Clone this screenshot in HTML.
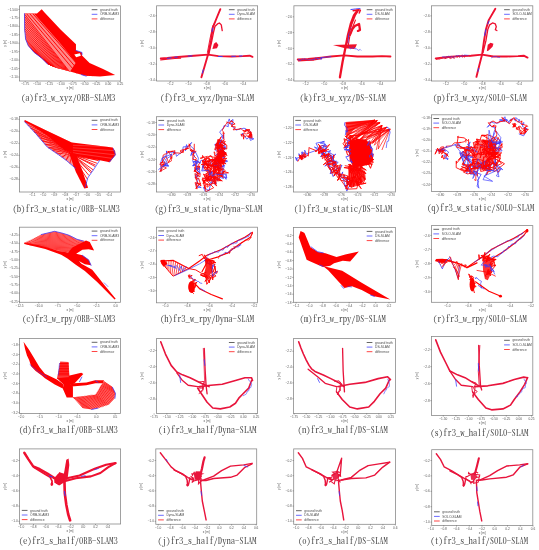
<!DOCTYPE html><html><head><meta charset="utf-8"><style>html,body{margin:0;padding:0;background:#fff;width:539px;height:550px;overflow:hidden}svg{display:block}.t{font-family:"Liberation Sans",Arial,sans-serif;fill:#555}.l{fill:#4a4a4a}.c{font-family:"Noto Serif CJK SC","Liberation Serif",serif;font-feature-settings:"hwid";fill:#3c3c3c}</style></head><body>
<svg width="539" height="550" viewBox="0 0 539 550">
<rect width="539" height="550" fill="#fff"/>
<g>
<clipPath id="cpa"><rect x="19.50" y="5.80" width="100.90" height="75.20"/></clipPath>
<g clip-path="url(#cpa)"><g transform="translate(19,5) scale(0.189239)">
<polygon points="28.0,45.0 95.0,45.0 120.0,22.0 135.0,40.0 222.0,132.0 301.0,208.0 301.0,240.0 333.0,251.0 333.0,267.0 373.0,306.0 444.0,338.0 508.0,370.0 428.0,378.0 349.0,374.0 270.0,352.0 201.0,333.0 152.0,313.0 118.0,279.0 79.0,250.0 49.0,215.0 35.0,181.0 30.0,132.0" fill="#ff0000"/>
<polygon points="30.0,48.0 80.0,46.0 150.0,125.0 215.0,200.0 265.0,260.0 300.0,305.0 270.0,352.0 201.0,333.0 152.0,313.0 118.0,279.0 79.0,250.0 49.0,215.0 35.0,181.0 30.0,132.0" fill="#ff8888"/>
<clipPath id="ka1"><polygon points="28.0,45.0 95.0,45.0 120.0,22.0 135.0,40.0 222.0,132.0 301.0,208.0 301.0,240.0 333.0,251.0 333.0,267.0 373.0,306.0 444.0,338.0 508.0,370.0 428.0,378.0 349.0,374.0 270.0,352.0 201.0,333.0 152.0,313.0 118.0,279.0 79.0,250.0 49.0,215.0 35.0,181.0 30.0,132.0"/></clipPath><g clip-path="url(#ka1)"><line x1="31.0" y1="50.0" x2="338.8" y2="444.0" stroke="#ff0000" stroke-width="4.5"/><line x1="30.8" y1="62.5" x2="343.8" y2="452.4" stroke="#ff0000" stroke-width="4.5"/><line x1="30.7" y1="75.1" x2="348.9" y2="460.8" stroke="#ff0000" stroke-width="4.5"/><line x1="30.5" y1="87.6" x2="353.7" y2="469.1" stroke="#ff0000" stroke-width="4.5"/><line x1="30.4" y1="100.2" x2="358.7" y2="477.4" stroke="#ff0000" stroke-width="4.5"/><line x1="30.2" y1="112.7" x2="363.4" y2="485.5" stroke="#ff0000" stroke-width="4.5"/><line x1="30.1" y1="125.3" x2="368.2" y2="493.6" stroke="#ff0000" stroke-width="4.5"/><line x1="30.6" y1="137.8" x2="373.6" y2="501.6" stroke="#ff0000" stroke-width="4.5"/><line x1="31.9" y1="150.2" x2="379.7" y2="509.5" stroke="#ff0000" stroke-width="4.5"/><line x1="33.1" y1="162.7" x2="385.6" y2="517.3" stroke="#ff0000" stroke-width="4.5"/><line x1="34.4" y1="175.2" x2="391.6" y2="525.1" stroke="#ff0000" stroke-width="4.5"/><line x1="37.6" y1="187.2" x2="399.4" y2="532.4" stroke="#ff0000" stroke-width="4.5"/><line x1="42.3" y1="198.8" x2="408.6" y2="539.1" stroke="#ff0000" stroke-width="4.5"/><line x1="47.1" y1="210.4" x2="417.9" y2="545.9" stroke="#ff0000" stroke-width="4.5"/><line x1="53.9" y1="220.7" x2="429.1" y2="551.2" stroke="#ff0000" stroke-width="4.5"/><line x1="62.1" y1="230.3" x2="441.6" y2="555.8" stroke="#ff0000" stroke-width="4.5"/><line x1="70.2" y1="239.8" x2="454.0" y2="560.3" stroke="#ff0000" stroke-width="4.5"/><line x1="78.4" y1="249.3" x2="466.4" y2="564.7" stroke="#ff0000" stroke-width="4.5"/><line x1="88.3" y1="256.9" x2="480.4" y2="567.1" stroke="#ff0000" stroke-width="4.5"/><line x1="98.4" y1="264.4" x2="494.6" y2="569.4" stroke="#ff0000" stroke-width="4.5"/><line x1="108.5" y1="271.9" x2="508.7" y2="571.6" stroke="#ff0000" stroke-width="4.5"/><line x1="118.5" y1="279.5" x2="522.7" y2="573.9" stroke="#ff0000" stroke-width="4.5"/><line x1="127.3" y1="288.3" x2="535.3" y2="577.3" stroke="#ff0000" stroke-width="4.5"/><line x1="136.2" y1="297.2" x2="548.0" y2="580.8" stroke="#ff0000" stroke-width="4.5"/><line x1="145.1" y1="306.1" x2="560.6" y2="584.2" stroke="#ff0000" stroke-width="4.5"/><line x1="154.5" y1="314.0" x2="573.7" y2="586.6" stroke="#ff0000" stroke-width="4.5"/><line x1="166.2" y1="318.8" x2="588.9" y2="585.8" stroke="#ff0000" stroke-width="4.5"/><line x1="177.8" y1="323.5" x2="604.0" y2="584.9" stroke="#ff0000" stroke-width="4.5"/><line x1="189.4" y1="328.3" x2="619.1" y2="584.0" stroke="#ff0000" stroke-width="4.5"/><line x1="201.0" y1="333.0" x2="634.0" y2="583.0" stroke="#ff0000" stroke-width="4.5"/></g>
<clipPath id="ka2"><polygon points="28.0,45.0 95.0,45.0 120.0,22.0 135.0,40.0 222.0,132.0 301.0,208.0 301.0,240.0 333.0,251.0 333.0,267.0 373.0,306.0 444.0,338.0 508.0,370.0 428.0,378.0 349.0,374.0 270.0,352.0 201.0,333.0 152.0,313.0 118.0,279.0 79.0,250.0 49.0,215.0 35.0,181.0 30.0,132.0"/></clipPath><g clip-path="url(#ka2)"><line x1="40.0" y1="46.0" x2="361.4" y2="429.0" stroke="#ff0000" stroke-width="5"/><line x1="56.7" y1="46.0" x2="382.5" y2="425.3" stroke="#ff0000" stroke-width="5"/><line x1="73.3" y1="46.0" x2="403.5" y2="421.4" stroke="#ff0000" stroke-width="5"/><line x1="90.0" y1="46.0" x2="424.6" y2="417.6" stroke="#ff0000" stroke-width="5"/></g>
<polygon points="292.0,262.0 322.0,255.0 327.0,268.0 302.0,276.0" fill="#fff"/>
<polyline points="29.0,46.0 30.0,132.0 35.0,181.0 49.0,215.0 79.0,250.0 118.0,279.0 152.0,313.0" fill="none" stroke="#3a3aff" stroke-width="4" stroke-linejoin="round" stroke-linecap="round"/>
<polyline points="301.0,240.0 333.0,251.0 333.0,262.0" fill="none" stroke="#3a3aff" stroke-width="4" stroke-linejoin="round" stroke-linecap="round"/>
<polyline points="330.0,368.0 355.0,376.0" fill="none" stroke="#3a3aff" stroke-width="4" stroke-linejoin="round" stroke-linecap="round"/>
</g></g>
<rect x="19.50" y="5.80" width="100.90" height="75.20" fill="none" stroke="#8a8a8a" stroke-width="0.8"/>
<line x1="18.30" y1="9.40" x2="19.50" y2="9.40" stroke="#555" stroke-width="0.5"/>
<text class="t" x="17.70" y="10.50" font-size="3.2" text-anchor="end">−1.500</text>
<line x1="18.30" y1="17.85" x2="19.50" y2="17.85" stroke="#555" stroke-width="0.5"/>
<text class="t" x="17.70" y="18.95" font-size="3.2" text-anchor="end">−1.75</text>
<line x1="18.30" y1="26.30" x2="19.50" y2="26.30" stroke="#555" stroke-width="0.5"/>
<text class="t" x="17.70" y="27.40" font-size="3.2" text-anchor="end">−1.800</text>
<line x1="18.30" y1="34.75" x2="19.50" y2="34.75" stroke="#555" stroke-width="0.5"/>
<text class="t" x="17.70" y="35.85" font-size="3.2" text-anchor="end">−1.85</text>
<line x1="18.30" y1="43.20" x2="19.50" y2="43.20" stroke="#555" stroke-width="0.5"/>
<text class="t" x="17.70" y="44.30" font-size="3.2" text-anchor="end">−1.900</text>
<line x1="18.30" y1="51.65" x2="19.50" y2="51.65" stroke="#555" stroke-width="0.5"/>
<text class="t" x="17.70" y="52.75" font-size="3.2" text-anchor="end">−1.95</text>
<line x1="18.30" y1="60.10" x2="19.50" y2="60.10" stroke="#555" stroke-width="0.5"/>
<text class="t" x="17.70" y="61.20" font-size="3.2" text-anchor="end">−2.00</text>
<line x1="18.30" y1="68.55" x2="19.50" y2="68.55" stroke="#555" stroke-width="0.5"/>
<text class="t" x="17.70" y="69.65" font-size="3.2" text-anchor="end">−2.05</text>
<line x1="18.30" y1="77.00" x2="19.50" y2="77.00" stroke="#555" stroke-width="0.5"/>
<text class="t" x="17.70" y="78.10" font-size="3.2" text-anchor="end">−2.10</text>
<line x1="25.20" y1="81.00" x2="25.20" y2="82.20" stroke="#555" stroke-width="0.5"/>
<text class="t" x="25.20" y="85.40" font-size="3.2" text-anchor="middle">−1.75</text>
<line x1="37.06" y1="81.00" x2="37.06" y2="82.20" stroke="#555" stroke-width="0.5"/>
<text class="t" x="37.06" y="85.40" font-size="3.2" text-anchor="middle">−1.50</text>
<line x1="48.92" y1="81.00" x2="48.92" y2="82.20" stroke="#555" stroke-width="0.5"/>
<text class="t" x="48.92" y="85.40" font-size="3.2" text-anchor="middle">−1.25</text>
<line x1="60.78" y1="81.00" x2="60.78" y2="82.20" stroke="#555" stroke-width="0.5"/>
<text class="t" x="60.78" y="85.40" font-size="3.2" text-anchor="middle">−1.00</text>
<line x1="72.64" y1="81.00" x2="72.64" y2="82.20" stroke="#555" stroke-width="0.5"/>
<text class="t" x="72.64" y="85.40" font-size="3.2" text-anchor="middle">−0.75</text>
<line x1="84.50" y1="81.00" x2="84.50" y2="82.20" stroke="#555" stroke-width="0.5"/>
<text class="t" x="84.50" y="85.40" font-size="3.2" text-anchor="middle">−0.50</text>
<line x1="96.36" y1="81.00" x2="96.36" y2="82.20" stroke="#555" stroke-width="0.5"/>
<text class="t" x="96.36" y="85.40" font-size="3.2" text-anchor="middle">−0.25</text>
<line x1="108.22" y1="81.00" x2="108.22" y2="82.20" stroke="#555" stroke-width="0.5"/>
<text class="t" x="108.22" y="85.40" font-size="3.2" text-anchor="middle">0.00</text>
<line x1="120.08" y1="81.00" x2="120.08" y2="82.20" stroke="#555" stroke-width="0.5"/>
<text class="t" x="120.08" y="85.40" font-size="3.2" text-anchor="middle">0.25</text>
<text class="t" x="69.95" y="89.20" font-size="3.2" text-anchor="middle">x [m]</text>
<text class="t" font-size="3.2" text-anchor="middle" transform="translate(6.00,43.40) rotate(-90)">y [m]</text>
<line x1="91.70" y1="9.70" x2="97.40" y2="9.70" stroke="#555" stroke-width="0.9"/>
<text class="t l" x="100.00" y="10.85" font-size="3.3">ground truth</text>
<line x1="91.70" y1="14.30" x2="97.40" y2="14.30" stroke="#5a5aff" stroke-width="0.9"/>
<text class="t l" x="100.00" y="15.45" font-size="3.3">ORB-SLAM3</text>
<line x1="91.70" y1="18.90" x2="97.40" y2="18.90" stroke="#ff3030" stroke-width="0.9"/>
<text class="t l" x="100.00" y="20.05" font-size="3.3">difference</text>
<text class="c" x="23.15 27.44 31.73 36.02 40.31 44.60 48.89 53.18 57.47 61.76 66.05 70.35 74.64 78.93 83.22 87.51 91.80 96.09 100.38 104.67 108.96 113.25" y="101.30" font-size="8.6" text-anchor="middle" transform="scale(1,1)">(a)fr3_w_xyz/ORB-SLAM3</text>
</g>
<g>
<clipPath id="cpf"><rect x="156.60" y="5.80" width="101.00" height="75.20"/></clipPath>
<g clip-path="url(#cpf)"><g transform="translate(156,5) scale(0.189239)">
<polyline points="25.0,282.0 60.0,280.0 100.0,276.0 150.0,272.0 200.0,268.0 275.0,262.0 330.0,270.0 400.0,272.0 460.0,270.0 495.0,268.0 510.0,274.0" fill="none" stroke="#ee1030" stroke-width="10" stroke-linejoin="round" stroke-linecap="round"/>
<polyline points="25.0,290.0 60.0,286.0 100.0,283.0 130.0,281.0" fill="none" stroke="#ee1030" stroke-width="6" stroke-linejoin="round" stroke-linecap="round"/>
<polyline points="240.0,382.0 255.0,330.0 275.0,262.0 290.0,190.0 300.0,120.0 320.0,70.0 340.0,22.0" fill="none" stroke="#ee1030" stroke-width="10" stroke-linejoin="round" stroke-linecap="round"/>
<polyline points="280.0,255.0 295.0,190.0 305.0,140.0 312.0,112.0 325.0,100.0 335.0,95.0 345.0,105.0 350.0,135.0" fill="none" stroke="#ee1030" stroke-width="7" stroke-linejoin="round" stroke-linecap="round"/>
<polyline points="272.0,250.0 285.0,180.0 300.0,110.0 310.0,95.0" fill="none" stroke="#ee1030" stroke-width="5" stroke-linejoin="round" stroke-linecap="round"/>
<polygon points="298.0,232.0 306.0,205.0 318.0,196.0 330.0,212.0 322.0,228.0" fill="#ee1030"/>
<polyline points="60.0,282.0 80.0,279.0" fill="none" stroke="#3a3aff" stroke-width="5" stroke-linejoin="round" stroke-linecap="round"/>
<polyline points="100.0,276.0 112.0,275.0" fill="none" stroke="#3a3aff" stroke-width="5" stroke-linejoin="round" stroke-linecap="round"/>
<polyline points="330.0,272.0 350.0,272.0" fill="none" stroke="#3a3aff" stroke-width="5" stroke-linejoin="round" stroke-linecap="round"/>
<polyline points="400.0,271.0 420.0,271.0" fill="none" stroke="#3a3aff" stroke-width="5" stroke-linejoin="round" stroke-linecap="round"/>
<polyline points="296.0,140.0 300.0,122.0" fill="none" stroke="#3a3aff" stroke-width="5" stroke-linejoin="round" stroke-linecap="round"/>
<polyline points="245.0,360.0 250.0,342.0" fill="none" stroke="#3a3aff" stroke-width="5" stroke-linejoin="round" stroke-linecap="round"/>
<polyline points="170.0,270.0 190.0,269.0" fill="none" stroke="#3a3aff" stroke-width="5" stroke-linejoin="round" stroke-linecap="round"/>
<polyline points="440.0,270.0 455.0,269.0" fill="none" stroke="#3a3aff" stroke-width="5" stroke-linejoin="round" stroke-linecap="round"/>
</g></g>
<rect x="156.60" y="5.80" width="101.00" height="75.20" fill="none" stroke="#8a8a8a" stroke-width="0.8"/>
<line x1="155.40" y1="15.80" x2="156.60" y2="15.80" stroke="#555" stroke-width="0.5"/>
<text class="t" x="154.80" y="16.90" font-size="3.2" text-anchor="end">−2.6</text>
<line x1="155.40" y1="31.90" x2="156.60" y2="31.90" stroke="#555" stroke-width="0.5"/>
<text class="t" x="154.80" y="33.00" font-size="3.2" text-anchor="end">−2.8</text>
<line x1="155.40" y1="48.00" x2="156.60" y2="48.00" stroke="#555" stroke-width="0.5"/>
<text class="t" x="154.80" y="49.10" font-size="3.2" text-anchor="end">−3.0</text>
<line x1="155.40" y1="64.10" x2="156.60" y2="64.10" stroke="#555" stroke-width="0.5"/>
<text class="t" x="154.80" y="65.20" font-size="3.2" text-anchor="end">−3.2</text>
<line x1="155.40" y1="80.20" x2="156.60" y2="80.20" stroke="#555" stroke-width="0.5"/>
<text class="t" x="154.80" y="81.30" font-size="3.2" text-anchor="end">−3.4</text>
<line x1="170.30" y1="81.00" x2="170.30" y2="82.20" stroke="#555" stroke-width="0.5"/>
<text class="t" x="170.30" y="85.40" font-size="3.2" text-anchor="middle">−1.2</text>
<line x1="188.50" y1="81.00" x2="188.50" y2="82.20" stroke="#555" stroke-width="0.5"/>
<text class="t" x="188.50" y="85.40" font-size="3.2" text-anchor="middle">−1.0</text>
<line x1="206.70" y1="81.00" x2="206.70" y2="82.20" stroke="#555" stroke-width="0.5"/>
<text class="t" x="206.70" y="85.40" font-size="3.2" text-anchor="middle">−0.8</text>
<line x1="224.90" y1="81.00" x2="224.90" y2="82.20" stroke="#555" stroke-width="0.5"/>
<text class="t" x="224.90" y="85.40" font-size="3.2" text-anchor="middle">−0.6</text>
<line x1="243.10" y1="81.00" x2="243.10" y2="82.20" stroke="#555" stroke-width="0.5"/>
<text class="t" x="243.10" y="85.40" font-size="3.2" text-anchor="middle">−0.4</text>
<text class="t" x="207.10" y="89.20" font-size="3.2" text-anchor="middle">x [m]</text>
<text class="t" font-size="3.2" text-anchor="middle" transform="translate(143.10,43.40) rotate(-90)">y [m]</text>
<line x1="228.90" y1="9.70" x2="234.60" y2="9.70" stroke="#555" stroke-width="0.9"/>
<text class="t l" x="237.20" y="10.85" font-size="3.3">ground truth</text>
<line x1="228.90" y1="14.30" x2="234.60" y2="14.30" stroke="#5a5aff" stroke-width="0.9"/>
<text class="t l" x="237.20" y="15.45" font-size="3.3">Dyna-SLAM</text>
<line x1="228.90" y1="18.90" x2="234.60" y2="18.90" stroke="#ff3030" stroke-width="0.9"/>
<text class="t l" x="237.20" y="20.05" font-size="3.3">difference</text>
<text class="c" x="162.14 166.41 170.68 174.95 179.23 183.50 187.77 192.05 196.32 200.59 204.86 209.14 213.41 217.68 221.95 226.23 230.50 234.77 239.05 243.32 247.59 251.86" y="101.30" font-size="8.6" text-anchor="middle" transform="scale(1,1)">(f)fr3_w_xyz/Dyna-SLAM</text>
</g>
<g>
<clipPath id="cpk"><rect x="293.90" y="5.80" width="101.50" height="75.20"/></clipPath>
<g clip-path="url(#cpk)"><g transform="translate(293,5) scale(0.189239)">
<polyline points="25.0,288.0 80.0,285.0 150.0,278.0 200.0,272.0 270.0,266.0 340.0,272.0 420.0,272.0 470.0,270.0 515.0,272.0" fill="none" stroke="#f01028" stroke-width="10" stroke-linejoin="round" stroke-linecap="round"/>
<polyline points="30.0,295.0 70.0,292.0 110.0,290.0 150.0,283.0" fill="none" stroke="#f01028" stroke-width="8" stroke-linejoin="round" stroke-linecap="round"/>
<polyline points="26.9,290.5 34.2,291.3 30.2,286.6 41.4,293.3 47.4,284.8 55.5,288.9 59.5,282.9 65.0,285.4 68.2,287.4 74.4,289.9 76.6,290.4 80.7,288.1 83.9,285.0 87.6,287.2 96.6,290.9 97.8,289.5 115.0,285.5 112.8,288.2 118.5,278.7 132.0,282.4 126.9,286.6 131.4,284.2 139.5,280.8 150.3,282.4 147.7,276.9 148.9,283.3 147.8,287.5 148.5,281.5 151.7,283.1 151.4,287.3" fill="none" stroke="#3a3aff" stroke-width="3" stroke-linejoin="miter"/>
<polyline points="248.0,382.0 262.0,300.0 280.0,211.0 290.0,160.0 305.0,100.0 322.0,55.0 338.0,32.0" fill="none" stroke="#f01028" stroke-width="12" stroke-linejoin="round" stroke-linecap="round"/>
<polyline points="285.0,200.0 295.0,150.0 310.0,100.0 328.0,55.0 345.0,28.0" fill="none" stroke="#f01028" stroke-width="9" stroke-linejoin="round" stroke-linecap="round"/>
<polyline points="292.0,215.0 300.0,165.0 314.0,120.0 330.0,80.0" fill="none" stroke="#f01028" stroke-width="6" stroke-linejoin="round" stroke-linecap="round"/>
<polyline points="291.5,202.9 291.8,191.6 293.6,172.3 296.3,160.4 293.3,168.1 293.9,153.5 299.9,143.8 302.7,145.6 299.7,148.2 305.3,145.5 309.6,124.5 302.6,117.1" fill="none" stroke="#3a3aff" stroke-width="3" stroke-linejoin="miter"/>
<polyline points="306.0,24.0 330.0,21.0 354.0,19.0" fill="none" stroke="#3a3aff" stroke-width="5" stroke-linejoin="round" stroke-linecap="round"/>
<polyline points="318.0,30.0 345.0,25.0 356.0,28.0 350.0,42.0" fill="none" stroke="#f01028" stroke-width="8" stroke-linejoin="round" stroke-linecap="round"/>
<polyline points="301.0,158.0 315.0,125.0 327.0,111.0 349.0,100.0 354.0,132.0 343.0,137.0" fill="none" stroke="#f01028" stroke-width="12" stroke-linejoin="round" stroke-linecap="round"/>
<polygon points="211.0,212.0 338.0,208.0 330.0,225.0 322.0,233.0 275.0,228.0" fill="#f01028"/>
<polyline points="295.8,218.7 303.3,232.5 319.6,223.2 318.6,223.6 328.3,233.9 328.6,227.8 345.1,238.4 345.1,240.0 355.1,234.8 360.8,240.8" fill="none" stroke="#3a3aff" stroke-width="3" stroke-linejoin="miter"/>
<polyline points="150.0,278.0 200.0,273.0" fill="none" stroke="#3a3aff" stroke-width="4" stroke-linejoin="round" stroke-linecap="round"/>
</g></g>
<rect x="293.90" y="5.80" width="101.50" height="75.20" fill="none" stroke="#8a8a8a" stroke-width="0.8"/>
<line x1="292.70" y1="16.80" x2="293.90" y2="16.80" stroke="#555" stroke-width="0.5"/>
<text class="t" x="292.10" y="17.90" font-size="3.2" text-anchor="end">−2.6</text>
<line x1="292.70" y1="32.60" x2="293.90" y2="32.60" stroke="#555" stroke-width="0.5"/>
<text class="t" x="292.10" y="33.70" font-size="3.2" text-anchor="end">−2.8</text>
<line x1="292.70" y1="48.40" x2="293.90" y2="48.40" stroke="#555" stroke-width="0.5"/>
<text class="t" x="292.10" y="49.50" font-size="3.2" text-anchor="end">−3.0</text>
<line x1="292.70" y1="64.20" x2="293.90" y2="64.20" stroke="#555" stroke-width="0.5"/>
<text class="t" x="292.10" y="65.30" font-size="3.2" text-anchor="end">−3.2</text>
<line x1="292.70" y1="80.00" x2="293.90" y2="80.00" stroke="#555" stroke-width="0.5"/>
<text class="t" x="292.10" y="81.10" font-size="3.2" text-anchor="end">−3.4</text>
<line x1="305.60" y1="81.00" x2="305.60" y2="82.20" stroke="#555" stroke-width="0.5"/>
<text class="t" x="305.60" y="85.40" font-size="3.2" text-anchor="middle">−1.2</text>
<line x1="324.25" y1="81.00" x2="324.25" y2="82.20" stroke="#555" stroke-width="0.5"/>
<text class="t" x="324.25" y="85.40" font-size="3.2" text-anchor="middle">−1.0</text>
<line x1="342.90" y1="81.00" x2="342.90" y2="82.20" stroke="#555" stroke-width="0.5"/>
<text class="t" x="342.90" y="85.40" font-size="3.2" text-anchor="middle">−0.8</text>
<line x1="361.55" y1="81.00" x2="361.55" y2="82.20" stroke="#555" stroke-width="0.5"/>
<text class="t" x="361.55" y="85.40" font-size="3.2" text-anchor="middle">−0.6</text>
<line x1="380.20" y1="81.00" x2="380.20" y2="82.20" stroke="#555" stroke-width="0.5"/>
<text class="t" x="380.20" y="85.40" font-size="3.2" text-anchor="middle">−0.4</text>
<text class="t" x="344.65" y="89.20" font-size="3.2" text-anchor="middle">x [m]</text>
<text class="t" font-size="3.2" text-anchor="middle" transform="translate(280.40,43.40) rotate(-90)">y [m]</text>
<line x1="366.70" y1="9.70" x2="372.40" y2="9.70" stroke="#555" stroke-width="0.9"/>
<text class="t l" x="375.00" y="10.85" font-size="3.3">ground truth</text>
<line x1="366.70" y1="14.30" x2="372.40" y2="14.30" stroke="#5a5aff" stroke-width="0.9"/>
<text class="t l" x="375.00" y="15.45" font-size="3.3">DS-SLAM</text>
<line x1="366.70" y1="18.90" x2="372.40" y2="18.90" stroke="#ff3030" stroke-width="0.9"/>
<text class="t l" x="375.00" y="20.05" font-size="3.3">difference</text>
<text class="c" x="301.75 306.06 310.38 314.69 319.00 323.31 327.62 331.93 336.24 340.55 344.86 349.17 353.48 357.79 362.10 366.41 370.72 375.03 379.34 383.64" y="101.30" font-size="8.6" text-anchor="middle" transform="scale(1,1)">(k)fr3_w_xyz/DS-SLAM</text>
</g>
<g>
<clipPath id="cpp"><rect x="431.50" y="5.80" width="101.30" height="75.20"/></clipPath>
<g clip-path="url(#cpp)"><g transform="translate(431,5) scale(0.189239)">
<polyline points="25.0,282.0 90.0,275.0 150.0,270.0 210.0,268.0 270.0,262.0 330.0,272.0 400.0,272.0 460.0,270.0 490.0,268.0 510.0,278.0" fill="none" stroke="#ee1030" stroke-width="10" stroke-linejoin="round" stroke-linecap="round"/>
<polyline points="29.1,289.5 29.3,281.2 27.0,286.4 38.0,287.3 41.2,287.0 44.3,287.0 55.1,281.2 56.9,284.5 56.6,282.3 69.7,277.8 74.1,283.2 79.2,277.9 73.2,284.0 87.6,278.6 82.1,274.7 94.2,275.5 103.1,279.3 97.1,279.8 103.8,283.2 116.0,276.9 116.8,279.1 123.5,282.5 117.1,273.5 129.6,272.2 133.9,268.8 142.5,274.5 136.3,275.9 143.5,269.0 150.4,267.7 151.1,277.5 162.4,265.1 168.0,264.7 166.3,276.7 174.8,267.9 175.8,268.6 176.8,276.7 180.3,268.2 194.5,267.4 202.2,264.9 206.7,273.5" fill="none" stroke="#ee1030" stroke-width="4" stroke-linejoin="miter"/>
<polyline points="58.2,274.5 68.9,273.1 75.1,275.4 77.7,276.2 84.8,274.8 92.5,270.7 103.5,277.5 107.8,270.8 120.2,277.4 127.1,271.3 138.4,267.2 144.6,268.9 144.9,266.6 153.9,273.0 160.0,270.0 171.9,267.3 178.4,263.5 180.9,264.3 194.4,265.9 198.1,266.9" fill="none" stroke="#3a3aff" stroke-width="3" stroke-linejoin="miter"/>
<polyline points="317.3,279.6 323.4,277.2 330.1,272.8 346.4,272.5 350.0,275.2 355.2,275.7 359.8,279.2 365.9,273.3" fill="none" stroke="#3a3aff" stroke-width="3" stroke-linejoin="miter"/>
<polyline points="240.0,380.0 255.0,320.0 270.0,262.0 280.0,190.0 290.0,130.0 305.0,80.0 340.0,20.0" fill="none" stroke="#ee1030" stroke-width="10" stroke-linejoin="round" stroke-linecap="round"/>
<polyline points="275.0,250.0 290.0,190.0 300.0,130.0 310.0,105.0 325.0,95.0 340.0,100.0 345.0,115.0 340.0,130.0 348.0,135.0" fill="none" stroke="#ee1030" stroke-width="7" stroke-linejoin="round" stroke-linecap="round"/>
<polygon points="295.0,245.0 300.0,210.0 315.0,200.0 330.0,205.0 325.0,220.0 305.0,240.0" fill="#ee1030"/>
<polyline points="283.0,160.0 290.0,130.0" fill="none" stroke="#3a3aff" stroke-width="5" stroke-linejoin="round" stroke-linecap="round"/>
<polyline points="300.0,100.0 306.0,85.0" fill="none" stroke="#3a3aff" stroke-width="5" stroke-linejoin="round" stroke-linecap="round"/>
<polyline points="248.0,350.0 252.0,335.0" fill="none" stroke="#3a3aff" stroke-width="5" stroke-linejoin="round" stroke-linecap="round"/>
</g></g>
<rect x="431.50" y="5.80" width="101.30" height="75.20" fill="none" stroke="#8a8a8a" stroke-width="0.8"/>
<line x1="430.30" y1="15.90" x2="431.50" y2="15.90" stroke="#555" stroke-width="0.5"/>
<text class="t" x="429.70" y="17.00" font-size="3.2" text-anchor="end">−2.6</text>
<line x1="430.30" y1="32.00" x2="431.50" y2="32.00" stroke="#555" stroke-width="0.5"/>
<text class="t" x="429.70" y="33.10" font-size="3.2" text-anchor="end">−2.8</text>
<line x1="430.30" y1="48.10" x2="431.50" y2="48.10" stroke="#555" stroke-width="0.5"/>
<text class="t" x="429.70" y="49.20" font-size="3.2" text-anchor="end">−3.0</text>
<line x1="430.30" y1="64.20" x2="431.50" y2="64.20" stroke="#555" stroke-width="0.5"/>
<text class="t" x="429.70" y="65.30" font-size="3.2" text-anchor="end">−3.2</text>
<line x1="430.30" y1="80.30" x2="431.50" y2="80.30" stroke="#555" stroke-width="0.5"/>
<text class="t" x="429.70" y="81.40" font-size="3.2" text-anchor="end">−3.4</text>
<line x1="446.00" y1="81.00" x2="446.00" y2="82.20" stroke="#555" stroke-width="0.5"/>
<text class="t" x="446.00" y="85.40" font-size="3.2" text-anchor="middle">−1.2</text>
<line x1="464.20" y1="81.00" x2="464.20" y2="82.20" stroke="#555" stroke-width="0.5"/>
<text class="t" x="464.20" y="85.40" font-size="3.2" text-anchor="middle">−1.0</text>
<line x1="482.40" y1="81.00" x2="482.40" y2="82.20" stroke="#555" stroke-width="0.5"/>
<text class="t" x="482.40" y="85.40" font-size="3.2" text-anchor="middle">−0.8</text>
<line x1="500.60" y1="81.00" x2="500.60" y2="82.20" stroke="#555" stroke-width="0.5"/>
<text class="t" x="500.60" y="85.40" font-size="3.2" text-anchor="middle">−0.6</text>
<line x1="518.80" y1="81.00" x2="518.80" y2="82.20" stroke="#555" stroke-width="0.5"/>
<text class="t" x="518.80" y="85.40" font-size="3.2" text-anchor="middle">−0.4</text>
<text class="t" x="482.15" y="89.20" font-size="3.2" text-anchor="middle">x [m]</text>
<text class="t" font-size="3.2" text-anchor="middle" transform="translate(418.00,43.40) rotate(-90)">y [m]</text>
<line x1="504.10" y1="9.70" x2="509.80" y2="9.70" stroke="#555" stroke-width="0.9"/>
<text class="t l" x="512.40" y="10.85" font-size="3.3">ground truth</text>
<line x1="504.10" y1="14.30" x2="509.80" y2="14.30" stroke="#5a5aff" stroke-width="0.9"/>
<text class="t l" x="512.40" y="15.45" font-size="3.3">SOLO-SLAM</text>
<line x1="504.10" y1="18.90" x2="509.80" y2="18.90" stroke="#ff3030" stroke-width="0.9"/>
<text class="t l" x="512.40" y="20.05" font-size="3.3">difference</text>
<text class="c" x="434.94 439.21 443.48 447.75 452.03 456.30 460.57 464.85 469.12 473.39 477.66 481.94 486.21 490.48 494.75 499.03 503.30 507.57 511.85 516.12 520.39 524.66" y="101.30" font-size="8.6" text-anchor="middle" transform="scale(1,1)">(p)fr3_w_xyz/SOLO-SLAM</text>
</g>
<g>
<clipPath id="cpb"><rect x="19.50" y="116.40" width="100.90" height="75.60"/></clipPath>
<g clip-path="url(#cpb)"><g transform="translate(19,115) scale(0.189239)">
<polygon points="30.0,27.0 150.0,85.0 281.0,146.0 285.0,200.0 299.0,282.0 250.0,240.0 209.0,210.0 149.0,169.0 90.0,100.0 30.0,36.0" fill="#ff9090"/>
<polygon points="30.0,27.0 150.0,85.0 281.0,146.0 285.0,200.0 240.0,185.0 150.0,110.0 60.0,50.0 30.0,36.0" fill="#ff0000"/>
<line x1="282.0" y1="160.0" x2="30.0" y2="36.0" stroke="#ff0000" stroke-width="4"/>
<line x1="282.0" y1="160.0" x2="45.9" y2="52.9" stroke="#ff0000" stroke-width="4"/>
<line x1="282.0" y1="160.0" x2="61.8" y2="69.9" stroke="#ff0000" stroke-width="4"/>
<line x1="282.0" y1="160.0" x2="77.7" y2="86.8" stroke="#ff0000" stroke-width="4"/>
<line x1="282.0" y1="160.0" x2="93.4" y2="103.9" stroke="#ff0000" stroke-width="4"/>
<line x1="282.0" y1="160.0" x2="108.5" y2="121.6" stroke="#ff0000" stroke-width="4"/>
<line x1="282.0" y1="160.0" x2="123.6" y2="139.3" stroke="#ff0000" stroke-width="4"/>
<line x1="282.0" y1="160.0" x2="138.7" y2="156.9" stroke="#ff0000" stroke-width="4"/>
<line x1="282.0" y1="160.0" x2="155.0" y2="173.1" stroke="#ff0000" stroke-width="4"/>
<line x1="282.0" y1="160.0" x2="174.2" y2="186.2" stroke="#ff0000" stroke-width="4"/>
<line x1="282.0" y1="160.0" x2="193.4" y2="199.3" stroke="#ff0000" stroke-width="4"/>
<line x1="282.0" y1="160.0" x2="212.5" y2="212.6" stroke="#ff0000" stroke-width="4"/>
<line x1="282.0" y1="160.0" x2="231.3" y2="226.3" stroke="#ff0000" stroke-width="4"/>
<line x1="282.0" y1="160.0" x2="250.0" y2="240.0" stroke="#ff0000" stroke-width="4"/>
<line x1="285.0" y1="195.0" x2="60.0" y2="68.0" stroke="#ff0000" stroke-width="4"/>
<line x1="285.0" y1="195.0" x2="79.4" y2="88.6" stroke="#ff0000" stroke-width="4"/>
<line x1="285.0" y1="195.0" x2="98.3" y2="109.7" stroke="#ff0000" stroke-width="4"/>
<line x1="285.0" y1="195.0" x2="116.7" y2="131.2" stroke="#ff0000" stroke-width="4"/>
<line x1="285.0" y1="195.0" x2="135.1" y2="152.7" stroke="#ff0000" stroke-width="4"/>
<line x1="285.0" y1="195.0" x2="154.6" y2="172.9" stroke="#ff0000" stroke-width="4"/>
<line x1="285.0" y1="195.0" x2="178.0" y2="188.8" stroke="#ff0000" stroke-width="4"/>
<line x1="285.0" y1="195.0" x2="201.4" y2="204.8" stroke="#ff0000" stroke-width="4"/>
<line x1="285.0" y1="195.0" x2="224.4" y2="221.3" stroke="#ff0000" stroke-width="4"/>
<line x1="285.0" y1="195.0" x2="247.2" y2="238.0" stroke="#ff0000" stroke-width="4"/>
<line x1="285.0" y1="195.0" x2="268.7" y2="256.4" stroke="#ff0000" stroke-width="4"/>
<line x1="285.0" y1="195.0" x2="290.0" y2="275.0" stroke="#ff0000" stroke-width="4"/>
<polygon points="280.0,145.0 400.0,160.0 495.0,172.0 508.0,190.0 510.0,212.0 480.0,250.0 420.0,238.0 300.0,215.0 275.0,195.0" fill="#ff0000"/>
<clipPath id="kb3"><polygon points="280.0,145.0 400.0,160.0 495.0,172.0 508.0,190.0 510.0,212.0 480.0,250.0 420.0,238.0 300.0,215.0 275.0,195.0"/></clipPath><g clip-path="url(#kb3)"><line x1="285.0" y1="160.0" x2="584.8" y2="170.5" stroke="#ff7070" stroke-width="2.5"/><line x1="285.0" y1="173.3" x2="584.3" y2="194.2" stroke="#ff7070" stroke-width="2.5"/><line x1="285.0" y1="186.7" x2="583.4" y2="218.1" stroke="#ff7070" stroke-width="2.5"/><line x1="285.0" y1="200.0" x2="582.1" y2="241.8" stroke="#ff7070" stroke-width="2.5"/></g>
<polygon points="262.0,195.0 300.0,205.0 330.0,280.0 365.0,385.0 345.0,388.0 300.0,300.0" fill="#ff0000"/>
<line x1="275.0" y1="205.0" x2="420.0" y2="240.0" stroke="#ff0000" stroke-width="4.5"/>
<line x1="275.0" y1="205.0" x2="412.0" y2="255.0" stroke="#ff0000" stroke-width="4.5"/>
<line x1="275.0" y1="205.0" x2="402.0" y2="272.0" stroke="#ff0000" stroke-width="4.5"/>
<line x1="275.0" y1="205.0" x2="392.0" y2="290.0" stroke="#ff0000" stroke-width="4.5"/>
<line x1="275.0" y1="205.0" x2="380.0" y2="305.0" stroke="#ff0000" stroke-width="4.5"/>
<line x1="275.0" y1="205.0" x2="370.0" y2="320.0" stroke="#ff0000" stroke-width="4.5"/>
<line x1="275.0" y1="205.0" x2="362.0" y2="340.0" stroke="#ff0000" stroke-width="4.5"/>
<line x1="275.0" y1="205.0" x2="356.0" y2="360.0" stroke="#ff0000" stroke-width="4.5"/>
<line x1="275.0" y1="205.0" x2="350.0" y2="380.0" stroke="#ff0000" stroke-width="4.5"/>
<line x1="290.0" y1="215.0" x2="420.0" y2="240.0" stroke="#ff0000" stroke-width="4.5"/>
<line x1="290.0" y1="215.0" x2="405.0" y2="265.0" stroke="#ff0000" stroke-width="4.5"/>
<line x1="290.0" y1="215.0" x2="385.0" y2="300.0" stroke="#ff0000" stroke-width="4.5"/>
<polyline points="30.0,36.0 60.0,68.0 90.0,100.0 149.0,169.0 209.0,210.0 250.0,240.0 299.0,282.0" fill="none" stroke="#3a3aff" stroke-width="4" stroke-linejoin="round" stroke-linecap="round"/>
<polyline points="426.0,240.0 400.0,280.0 363.0,333.0 350.0,382.0" fill="none" stroke="#3a3aff" stroke-width="4" stroke-linejoin="round" stroke-linecap="round"/>
<polyline points="498.0,178.0 510.0,210.0 478.0,248.0" fill="none" stroke="#3a3aff" stroke-width="4" stroke-linejoin="round" stroke-linecap="round"/>
</g></g>
<rect x="19.50" y="116.40" width="100.90" height="75.60" fill="none" stroke="#8a8a8a" stroke-width="0.8"/>
<line x1="18.30" y1="119.30" x2="19.50" y2="119.30" stroke="#555" stroke-width="0.5"/>
<text class="t" x="17.70" y="120.40" font-size="3.2" text-anchor="end">−0.18</text>
<line x1="18.30" y1="131.30" x2="19.50" y2="131.30" stroke="#555" stroke-width="0.5"/>
<text class="t" x="17.70" y="132.40" font-size="3.2" text-anchor="end">−0.20</text>
<line x1="18.30" y1="143.30" x2="19.50" y2="143.30" stroke="#555" stroke-width="0.5"/>
<text class="t" x="17.70" y="144.40" font-size="3.2" text-anchor="end">−0.22</text>
<line x1="18.30" y1="155.30" x2="19.50" y2="155.30" stroke="#555" stroke-width="0.5"/>
<text class="t" x="17.70" y="156.40" font-size="3.2" text-anchor="end">−0.24</text>
<line x1="18.30" y1="167.30" x2="19.50" y2="167.30" stroke="#555" stroke-width="0.5"/>
<text class="t" x="17.70" y="168.40" font-size="3.2" text-anchor="end">−0.26</text>
<line x1="18.30" y1="179.30" x2="19.50" y2="179.30" stroke="#555" stroke-width="0.5"/>
<text class="t" x="17.70" y="180.40" font-size="3.2" text-anchor="end">−0.28</text>
<line x1="32.30" y1="192.00" x2="32.30" y2="193.20" stroke="#555" stroke-width="0.5"/>
<text class="t" x="32.30" y="196.40" font-size="3.2" text-anchor="middle">−1.1</text>
<line x1="43.24" y1="192.00" x2="43.24" y2="193.20" stroke="#555" stroke-width="0.5"/>
<text class="t" x="43.24" y="196.40" font-size="3.2" text-anchor="middle">−1.0</text>
<line x1="54.18" y1="192.00" x2="54.18" y2="193.20" stroke="#555" stroke-width="0.5"/>
<text class="t" x="54.18" y="196.40" font-size="3.2" text-anchor="middle">−0.9</text>
<line x1="65.12" y1="192.00" x2="65.12" y2="193.20" stroke="#555" stroke-width="0.5"/>
<text class="t" x="65.12" y="196.40" font-size="3.2" text-anchor="middle">−0.8</text>
<line x1="76.06" y1="192.00" x2="76.06" y2="193.20" stroke="#555" stroke-width="0.5"/>
<text class="t" x="76.06" y="196.40" font-size="3.2" text-anchor="middle">−0.7</text>
<line x1="87.00" y1="192.00" x2="87.00" y2="193.20" stroke="#555" stroke-width="0.5"/>
<text class="t" x="87.00" y="196.40" font-size="3.2" text-anchor="middle">−0.6</text>
<line x1="97.94" y1="192.00" x2="97.94" y2="193.20" stroke="#555" stroke-width="0.5"/>
<text class="t" x="97.94" y="196.40" font-size="3.2" text-anchor="middle">−0.5</text>
<line x1="108.88" y1="192.00" x2="108.88" y2="193.20" stroke="#555" stroke-width="0.5"/>
<text class="t" x="108.88" y="196.40" font-size="3.2" text-anchor="middle">−0.4</text>
<text class="t" x="69.95" y="200.20" font-size="3.2" text-anchor="middle">x [m]</text>
<text class="t" font-size="3.2" text-anchor="middle" transform="translate(6.00,154.20) rotate(-90)">y [m]</text>
<line x1="91.70" y1="120.30" x2="97.40" y2="120.30" stroke="#555" stroke-width="0.9"/>
<text class="t l" x="100.00" y="121.45" font-size="3.3">ground truth</text>
<line x1="91.70" y1="124.90" x2="97.40" y2="124.90" stroke="#5a5aff" stroke-width="0.9"/>
<text class="t l" x="100.00" y="126.05" font-size="3.3">ORB-SLAM3</text>
<line x1="91.70" y1="129.50" x2="97.40" y2="129.50" stroke="#ff3030" stroke-width="0.9"/>
<text class="t l" x="100.00" y="130.65" font-size="3.3">difference</text>
<text class="c" x="14.65 18.94 23.23 27.52 31.81 36.11 40.40 44.69 48.98 53.27 57.57 61.86 66.15 70.44 74.73 79.03 83.32 87.61 91.90 96.19 100.49 104.78 109.07 113.36 117.65" y="211.60" font-size="8.6" text-anchor="middle" transform="scale(1,1)">(b)fr3_w_static/ORB-SLAM3</text>
</g>
<g>
<clipPath id="cpg"><rect x="156.50" y="116.70" width="101.00" height="75.30"/></clipPath>
<g clip-path="url(#cpg)"><g transform="translate(156,115) scale(0.189239)">
<polyline points="25.5,298.9 29.5,276.6 22.7,264.0 28.8,236.7 44.4,217.2 57.0,214.9 55.2,189.7 56.3,200.4 75.0,198.3 89.3,193.8 99.9,204.3 86.1,193.9 103.8,197.7 108.2,218.3 140.6,191.6 143.8,168.3 168.0,167.7 154.5,189.3 161.4,156.4 164.4,165.6 172.6,165.5 188.6,144.9 177.1,158.5 201.5,181.0 186.9,203.4 203.8,213.0 193.8,240.3 200.5,258.6 192.9,268.5 210.1,266.4 223.3,279.5 222.6,282.3 203.3,285.1 217.5,308.8 206.1,319.2 225.7,320.7 206.0,330.5 207.8,325.9 223.6,336.0 216.2,361.7 213.3,359.6 214.1,371.8 232.1,379.7 239.1,383.4 210.7,381.4" fill="none" stroke="#3a3aff" stroke-width="4" stroke-linejoin="miter"/>
<polyline points="26.3,301.4 25.8,277.6 37.4,270.6 38.4,247.0 23.4,253.8 33.7,252.0 36.6,231.5 37.6,212.9 44.1,208.0 56.6,204.4 57.6,202.9 66.0,196.3 72.8,202.1 61.4,192.8 86.4,192.1 86.4,190.4 78.6,194.3 100.5,188.6 93.5,210.2 96.1,200.2 100.5,201.6 109.8,200.0 131.5,202.3 146.2,184.5 144.1,198.5 129.9,194.9 129.1,187.8 173.5,174.8 154.2,183.0 176.7,157.5 180.5,162.6 174.8,152.3 182.5,187.8 196.7,190.8 186.1,181.7 200.7,191.5 196.0,212.4 213.1,229.5 209.0,237.8 214.8,259.7 201.2,259.2 209.9,263.9 211.6,299.6 200.7,294.4 225.1,309.4 218.2,304.1 222.3,322.0 214.8,324.2 214.6,348.1 227.0,369.9" fill="none" stroke="#ff0000" stroke-width="4.5" stroke-linejoin="miter"/>
<polyline points="19.4,298.2 49.5,262.5 19.8,260.2 23.5,258.9 31.8,250.9 52.8,217.4 66.4,250.4 82.0,219.7 83.0,231.0 84.9,212.0 75.0,208.3 82.0,242.0 48.8,260.5 45.6,247.0 41.5,265.9 38.8,260.3 24.7,272.0 29.1,266.2 55.0,280.1 19.2,298.5" fill="none" stroke="#ff0000" stroke-width="4" stroke-linejoin="miter"/>
<polyline points="12.7,288.9 55.3,256.7 48.2,269.1 48.5,252.0 30.7,228.4 56.6,218.0 84.8,205.1 81.6,214.7 50.3,234.7 62.2,264.2 66.3,267.1 36.6,267.7 66.5,270.6 47.9,257.6" fill="none" stroke="#3a3aff" stroke-width="4" stroke-linejoin="miter"/>
<polyline points="202.3,152.2 201.8,201.1 181.2,186.8 185.0,191.7 212.3,192.1 199.6,204.2 195.9,201.7 194.1,234.2 211.1,237.4 231.3,252.7 217.4,276.6 207.8,288.6 206.6,286.9 204.2,276.1 232.9,270.1 200.2,297.2 231.7,275.4 226.9,287.9 211.3,283.7 235.7,313.3 214.0,303.0 233.9,320.0 231.4,326.8 205.7,309.0 209.7,337.9 211.2,340.8 225.5,333.6 237.9,374.2 216.3,359.3 206.5,357.0 216.2,391.5 215.4,360.6 235.5,361.7 208.0,388.8" fill="none" stroke="#ff0000" stroke-width="4.5" stroke-linejoin="miter"/>
<polyline points="188.6,202.2 184.1,215.1 189.2,197.3 208.3,195.4 224.2,228.2 217.1,259.3 203.9,243.5 236.2,253.3 216.1,242.8 194.9,248.1 215.9,251.4 196.0,268.7 210.0,258.8 215.6,263.6 213.5,288.3 219.3,282.2 228.6,279.0 232.1,307.0 211.8,282.7 224.8,301.6" fill="none" stroke="#3a3aff" stroke-width="4" stroke-linejoin="miter"/>
<polyline points="330.3,148.6 336.6,145.3 324.0,163.8 327.0,142.7 358.0,141.4 369.1,179.5 309.1,157.7 328.4,144.0 326.0,184.7 337.8,175.9 364.3,171.5 320.0,157.0 314.1,186.5 344.5,204.9 366.2,174.3 346.0,146.7 327.4,173.9 349.1,193.1 334.1,184.3 367.3,198.5 329.1,163.1 357.0,220.5 361.4,222.4 324.7,204.4 350.9,225.0 324.5,188.1 346.7,212.0 328.4,209.5 350.0,173.9 343.9,175.0 345.1,226.6 344.9,184.4 361.3,227.1 328.8,202.8 335.5,193.5 335.5,208.2 347.0,216.7 348.1,183.1 360.3,230.8 345.7,237.8 316.7,207.9 362.8,213.2 328.4,218.4 356.7,205.1 356.0,195.1 313.6,238.8 378.9,244.0 347.1,255.5 357.9,244.7 375.3,239.1" fill="none" stroke="#3a3aff" stroke-width="4" stroke-linejoin="miter"/>
<polyline points="331.7,163.3 315.1,163.1 344.1,115.3 323.0,163.6 332.2,131.6 366.8,140.5 349.7,155.4 313.1,156.8 346.7,141.9 369.6,154.5 310.1,183.2 328.5,127.8 328.0,199.0 360.3,193.0 343.9,200.4 329.5,149.5 317.7,177.4 345.7,142.9 374.0,159.2 373.8,179.8 331.4,172.1 353.4,192.7 348.4,190.3 350.8,169.0 325.2,151.2 322.4,203.9 365.4,205.2 337.9,149.1 355.6,161.9 327.6,157.6 362.6,183.0 344.6,189.2 341.7,222.2 325.5,175.2 335.9,153.6 351.6,185.9 333.8,200.6 351.4,206.1 332.4,187.6 349.0,202.1 353.4,216.4 344.1,199.1 350.8,202.8 372.9,202.2 326.4,189.3 346.4,239.4 312.8,213.2 328.0,224.1 371.8,209.9 352.4,191.7 332.1,205.5 368.9,206.5 367.2,204.7 336.9,224.8 348.8,206.1 330.2,236.6 326.2,213.4 322.3,208.5 350.6,217.0 367.8,200.7 322.0,231.3 370.3,258.4 339.4,241.3 362.4,253.9 332.4,253.6 368.1,220.2 326.2,213.4 316.5,236.2 374.5,228.8 332.6,258.4 329.9,266.9 344.8,215.0 355.3,263.1 323.0,222.9 368.0,242.4 310.0,240.8 318.7,236.8 346.5,217.3 340.0,246.9 325.4,283.3" fill="none" stroke="#ff0000" stroke-width="4.5" stroke-linejoin="miter"/>
<polyline points="333.9,162.1 346.6,143.6 346.8,135.9 329.4,132.6 336.4,136.5 350.4,179.3 363.8,175.8 342.6,158.4 349.5,171.9 330.9,158.8 340.9,153.7 331.4,180.5 330.0,173.8 334.5,172.2 325.7,174.9 347.2,165.5 347.2,163.6 322.0,179.9 334.0,192.9 338.3,189.9 356.5,218.4 368.2,197.9 341.6,204.8 357.6,192.8 375.5,214.4 337.7,183.8 342.4,198.6 332.2,230.3 329.0,208.0 325.5,219.2 319.8,216.4 345.5,238.0 335.0,202.0 324.4,236.0 355.2,251.1 350.1,233.9 339.5,215.9 337.4,203.1 321.8,234.4 365.8,239.2 360.9,242.6 343.0,240.0 330.2,248.3 349.7,220.7 338.7,255.8 363.7,244.1 341.5,250.9 312.4,268.8 335.6,249.7 309.9,265.0 356.5,271.0 357.8,252.9 320.7,274.6 347.9,241.3 313.3,261.7 321.0,248.5 309.9,254.2 315.7,280.0 327.7,232.5 350.9,277.0" fill="none" stroke="#ff0000" stroke-width="4.5" stroke-linejoin="miter"/>
<polyline points="232.7,251.3 237.1,240.0 261.8,238.9 248.4,255.8 280.9,263.1 259.4,261.5 262.8,258.8 316.4,228.5 276.1,264.9 307.4,252.7 314.1,243.3 306.1,287.3 321.3,267.6 288.9,272.4 306.0,261.1 327.3,269.2 305.7,288.7 326.3,244.4 334.4,277.0 354.0,284.3 353.7,293.7 349.3,310.9 362.3,264.4 327.6,281.9 324.9,281.9 343.5,272.1 356.8,270.9 324.3,284.6 353.5,307.7 342.6,313.2 356.8,335.4 327.9,326.8 324.8,348.3 298.5,304.9 301.8,301.7 310.3,367.7 320.5,359.7 291.8,345.6 293.6,346.8 312.6,338.0 294.7,364.4 268.5,338.6 260.6,330.3 274.8,333.4 296.2,350.5 285.7,375.7 280.7,400.1 250.5,382.7 262.1,408.5 285.1,392.4" fill="none" stroke="#3a3aff" stroke-width="4" stroke-linejoin="miter"/>
<polyline points="269.2,262.8 258.5,232.1 246.0,213.6 244.8,228.2 233.8,228.3 272.2,218.7 243.0,246.0 287.4,267.3 238.7,261.7 266.3,257.0 254.7,248.3 303.9,236.7 290.4,214.0 244.5,242.8 255.9,245.4 278.3,279.2 324.6,228.1 283.3,217.6 277.9,219.6 290.4,268.4 284.4,264.5 277.0,265.3 303.6,265.6 297.9,235.0 276.8,236.0 273.8,264.5 322.9,223.6 301.3,272.7 348.5,269.7 317.0,231.2 331.5,246.0 321.7,289.9 306.0,271.2 351.8,289.0 335.9,289.1 326.0,269.9 299.7,274.0 332.0,310.1 329.3,271.7 322.8,277.8 350.4,287.0 302.0,274.8 329.4,294.2 325.2,269.6 337.2,328.4 359.5,295.3 350.7,322.9 315.8,309.3 334.4,314.9 340.6,270.8 366.7,295.2 355.7,303.6 346.2,324.4 335.7,291.4 328.8,302.5 356.6,331.2 319.7,309.5 383.2,305.6 330.2,290.4 335.4,284.3 312.4,290.0 304.2,337.5 300.7,332.2 350.5,348.7 309.2,323.3 316.1,364.1 316.8,289.6 285.9,343.3 318.6,297.8 341.5,347.8 279.1,322.6 325.2,333.1 323.3,303.2 331.4,314.3 287.8,345.3 281.7,339.4 282.9,348.1 277.4,331.3 281.1,315.8 331.3,337.3 335.5,347.8 270.3,348.3 299.8,323.9 320.2,375.6 301.2,349.5 296.4,361.4 269.6,381.7 269.0,375.6 274.3,362.6 255.0,373.1 258.9,389.8 248.0,346.5 272.8,369.4 312.9,359.4 282.7,323.0 249.1,362.6 257.4,351.5 263.8,405.6 304.9,384.1 270.5,349.7" fill="none" stroke="#ff0000" stroke-width="4.5" stroke-linejoin="miter"/>
<polyline points="282.7,250.4 283.4,230.7 265.4,229.1 251.5,274.9 245.7,241.8 253.6,253.0 280.5,260.0 267.5,234.6 246.2,271.8 274.4,243.5 283.9,247.1 252.8,243.5 270.1,264.4 272.4,271.1 285.4,280.9 270.5,267.1 272.1,277.2 256.1,291.3 269.0,298.4 276.7,262.3 258.4,262.2 245.6,276.6 277.5,279.3 268.8,263.1 277.7,291.8 257.9,269.9 262.4,276.4 253.5,281.9 291.0,304.3 277.2,293.0 292.7,291.6 258.4,314.8 257.1,326.4 295.8,301.3 267.1,289.3 280.2,316.5 271.2,346.2 250.3,312.4 274.6,323.4 272.3,324.1 242.4,342.0 260.3,358.3 253.4,357.1 256.6,360.8 245.3,332.3 276.8,339.0 251.4,349.5 260.4,343.0 277.6,340.4 278.1,344.0" fill="none" stroke="#ff0000" stroke-width="4.5" stroke-linejoin="miter"/>
<polyline points="314.8,202.2 306.5,194.3 313.4,225.0 298.5,248.6 283.7,237.8 335.5,228.1 297.8,243.1 316.5,244.6 333.6,240.4 296.7,272.2 341.6,243.5 317.4,226.1 319.0,265.5 310.7,244.9 320.9,232.9 346.2,273.0 302.6,238.4 345.6,254.9 331.3,285.1 325.2,264.2 305.6,247.5 316.3,276.9 317.0,299.7 313.5,301.8 279.7,278.6 303.6,258.0 283.5,291.3 303.0,256.1 304.6,315.8 306.4,286.5 331.4,289.5 281.5,300.3 294.3,318.0 299.4,312.3 275.2,291.3 283.4,303.0 296.0,278.3 306.6,288.8 308.7,292.0 263.7,324.5 292.2,338.2 286.4,302.4 267.8,309.2 267.1,330.7 296.6,322.9 299.5,321.1 309.3,342.6 253.2,346.2 285.9,323.9 265.1,352.9" fill="none" stroke="#ff0000" stroke-width="4.5" stroke-linejoin="miter"/>
<polyline points="334.3,156.1 345.8,128.6 358.2,122.5 345.3,115.2 358.9,103.4 357.6,120.0 336.5,90.6 348.3,75.6 354.6,72.9 359.4,56.2 371.5,57.9 381.6,62.1 382.6,51.2 380.6,53.3 381.0,36.5 387.1,20.5 391.4,34.7 406.9,23.3 405.5,47.0 394.2,40.9 407.2,65.9 424.3,76.7 422.9,79.8 444.2,73.6 462.3,71.0 463.4,68.9 476.3,74.1 475.8,79.3 470.9,78.2 498.5,86.0 506.9,118.5 496.8,121.7 517.0,125.7 499.4,134.4 492.4,116.7 479.7,127.6 464.9,106.5 454.0,98.9 460.0,98.0 449.4,109.8" fill="none" stroke="#3a3aff" stroke-width="4" stroke-linejoin="miter"/>
<polyline points="336.2,139.4 341.9,150.8 359.4,131.8 359.8,132.8 355.2,100.3 353.5,93.8 361.1,99.0 354.9,87.4 349.7,80.6 368.3,50.5 376.7,41.2 372.9,36.9 383.9,41.5 393.0,49.0 388.5,36.9 398.0,33.3 404.1,33.7 397.6,30.8 418.0,47.5 398.5,53.9 405.0,53.3 397.8,60.5 419.8,62.7 407.5,78.5 443.7,74.3 444.0,70.4 451.5,74.3 457.4,79.9 476.4,89.5 472.9,80.7 468.3,84.3 496.1,78.1 476.1,76.1 486.2,84.8 495.0,83.3 506.5,106.4 491.8,102.8 508.0,116.0 506.2,121.9 489.2,116.7 501.0,113.7 486.4,112.4 478.4,109.5 461.7,119.4 463.4,127.9 460.6,101.9 466.0,111.4 464.8,110.4 448.8,100.5 455.3,115.5" fill="none" stroke="#ff0000" stroke-width="4.5" stroke-linejoin="miter"/>
<polyline points="472.9,87.6 461.4,81.2 466.9,90.5 462.5,98.6 478.6,100.2 483.1,98.5 499.2,90.3 484.6,98.6 487.0,84.4 502.7,101.5 503.0,89.3 493.7,109.9 502.2,110.5 494.8,95.3 507.0,105.3 484.9,114.1 505.9,100.8 507.3,115.2" fill="none" stroke="#ff0000" stroke-width="4" stroke-linejoin="miter"/>
<polyline points="248.5,293.6 249.3,264.9 241.5,296.0 278.4,291.5 283.5,319.4 293.7,298.5 296.4,323.6 314.4,312.3 334.9,314.7 367.4,312.6 374.3,332.0 360.7,329.7 353.7,319.8 355.7,319.2 370.2,339.9 371.3,309.7" fill="none" stroke="#3a3aff" stroke-width="4" stroke-linejoin="miter"/>
</g></g>
<rect x="156.50" y="116.70" width="101.00" height="75.30" fill="none" stroke="#8a8a8a" stroke-width="0.8"/>
<line x1="155.30" y1="122.50" x2="156.50" y2="122.50" stroke="#555" stroke-width="0.5"/>
<text class="t" x="154.70" y="123.60" font-size="3.2" text-anchor="end">−0.18</text>
<line x1="155.30" y1="134.80" x2="156.50" y2="134.80" stroke="#555" stroke-width="0.5"/>
<text class="t" x="154.70" y="135.90" font-size="3.2" text-anchor="end">−0.20</text>
<line x1="155.30" y1="147.10" x2="156.50" y2="147.10" stroke="#555" stroke-width="0.5"/>
<text class="t" x="154.70" y="148.20" font-size="3.2" text-anchor="end">−0.22</text>
<line x1="155.30" y1="159.40" x2="156.50" y2="159.40" stroke="#555" stroke-width="0.5"/>
<text class="t" x="154.70" y="160.50" font-size="3.2" text-anchor="end">−0.24</text>
<line x1="155.30" y1="171.70" x2="156.50" y2="171.70" stroke="#555" stroke-width="0.5"/>
<text class="t" x="154.70" y="172.80" font-size="3.2" text-anchor="end">−0.26</text>
<line x1="155.30" y1="184.00" x2="156.50" y2="184.00" stroke="#555" stroke-width="0.5"/>
<text class="t" x="154.70" y="185.10" font-size="3.2" text-anchor="end">−0.28</text>
<line x1="171.40" y1="192.00" x2="171.40" y2="193.20" stroke="#555" stroke-width="0.5"/>
<text class="t" x="171.40" y="196.40" font-size="3.2" text-anchor="middle">−0.80</text>
<line x1="187.30" y1="192.00" x2="187.30" y2="193.20" stroke="#555" stroke-width="0.5"/>
<text class="t" x="187.30" y="196.40" font-size="3.2" text-anchor="middle">−0.78</text>
<line x1="203.20" y1="192.00" x2="203.20" y2="193.20" stroke="#555" stroke-width="0.5"/>
<text class="t" x="203.20" y="196.40" font-size="3.2" text-anchor="middle">−0.76</text>
<line x1="219.10" y1="192.00" x2="219.10" y2="193.20" stroke="#555" stroke-width="0.5"/>
<text class="t" x="219.10" y="196.40" font-size="3.2" text-anchor="middle">−0.74</text>
<line x1="235.00" y1="192.00" x2="235.00" y2="193.20" stroke="#555" stroke-width="0.5"/>
<text class="t" x="235.00" y="196.40" font-size="3.2" text-anchor="middle">−0.72</text>
<line x1="250.90" y1="192.00" x2="250.90" y2="193.20" stroke="#555" stroke-width="0.5"/>
<text class="t" x="250.90" y="196.40" font-size="3.2" text-anchor="middle">−0.70</text>
<text class="t" x="207.00" y="200.20" font-size="3.2" text-anchor="middle">x [m]</text>
<text class="t" font-size="3.2" text-anchor="middle" transform="translate(143.00,154.35) rotate(-90)">y [m]</text>
<line x1="158.40" y1="120.40" x2="164.10" y2="120.40" stroke="#555" stroke-width="0.9"/>
<text class="t l" x="166.70" y="121.55" font-size="3.3">ground truth</text>
<line x1="158.40" y1="125.00" x2="164.10" y2="125.00" stroke="#5a5aff" stroke-width="0.9"/>
<text class="t l" x="166.70" y="126.15" font-size="3.3">Dyna-SLAM</text>
<line x1="158.40" y1="129.60" x2="164.10" y2="129.60" stroke="#ff3030" stroke-width="0.9"/>
<text class="t l" x="166.70" y="130.75" font-size="3.3">difference</text>
<text class="c" x="156.66 160.97 165.28 169.59 173.90 178.22 182.53 186.84 191.15 195.46 199.78 204.09 208.40 212.71 217.02 221.34 225.65 229.96 234.27 238.58 242.90 247.21 251.52 255.83 260.14" y="211.60" font-size="8.6" text-anchor="middle" transform="scale(1,1)">(g)fr3_w_static/Dyna-SLAM</text>
</g>
<g>
<clipPath id="cpl"><rect x="293.40" y="116.70" width="102.00" height="75.30"/></clipPath>
<g clip-path="url(#cpl)"><g transform="translate(293,115) scale(0.189239)">
<polyline points="25.3,243.1 13.4,222.6 18.3,240.5 20.8,227.5 58.0,219.1 32.0,216.5 31.0,204.2 49.0,233.8 45.9,197.6 68.0,223.6 49.4,218.0 53.0,208.3 47.5,194.2 65.1,206.7 61.5,185.8 72.0,207.7" fill="none" stroke="#3a3aff" stroke-width="4" stroke-linejoin="miter"/>
<polyline points="24.9,246.4 41.6,216.0 47.8,229.6 52.5,221.0 47.8,212.3 46.8,238.2 36.1,211.0 53.7,230.8 47.1,230.1 36.6,212.3 43.5,235.3 33.0,215.6 49.8,221.5 36.2,219.9 44.8,210.0 68.9,220.6 56.6,228.2 64.9,211.1 53.0,204.7 55.0,220.3 71.9,218.3 57.9,196.4" fill="none" stroke="#ff0000" stroke-width="4.5" stroke-linejoin="miter"/>
<polyline points="75.9,213.4 74.1,204.2 111.1,191.0 137.4,179.9 143.7,180.5 113.1,169.4 129.9,182.8 135.0,176.1 121.4,149.2 166.0,139.6 143.9,148.6 158.8,150.3 179.3,165.4 157.0,137.5" fill="none" stroke="#3a3aff" stroke-width="4" stroke-linejoin="miter"/>
<polyline points="73.4,210.1 80.8,217.4 85.2,171.5 86.8,174.2 127.5,190.0 117.5,193.6 150.9,173.1 132.4,154.2 147.5,167.3 152.7,159.9 177.7,168.0 193.5,155.5 169.8,185.8 190.5,181.3" fill="none" stroke="#ff0000" stroke-width="4.5" stroke-linejoin="miter"/>
<polyline points="137.4,192.5 164.0,163.1 149.0,199.5 178.8,169.5 166.0,192.7 145.8,221.7 170.6,180.9 167.2,158.2 143.9,166.4 160.1,213.5 162.5,187.6 148.5,203.1 171.0,218.7 198.5,217.1 150.1,199.3 178.7,224.8 189.8,193.6 199.7,188.9 170.5,196.1 195.5,249.6 216.3,212.7 193.5,198.1 204.3,239.5 182.4,241.2 226.2,206.1 199.3,235.0 238.9,250.6 225.8,261.7 208.9,222.0 198.3,222.5" fill="none" stroke="#3a3aff" stroke-width="4" stroke-linejoin="miter"/>
<polyline points="152.6,202.0 142.1,161.8 132.6,184.1 144.2,202.9 133.8,204.8 140.7,164.1 166.6,191.3 163.5,179.0 133.0,199.2 180.1,189.1 138.6,195.1 168.5,181.7 173.2,187.1 141.4,186.5 152.0,195.9 175.4,215.4 152.7,212.7 150.2,220.9 189.6,202.8 154.8,231.2 165.6,200.4 166.9,218.1 170.4,217.5 195.4,205.0 170.2,239.5 165.6,219.8 205.1,249.2 201.1,210.9 195.7,217.7 182.5,227.3 190.1,205.9 171.4,237.8 192.6,256.9 200.2,239.0 217.4,225.0 215.2,210.6 207.9,267.9 220.8,254.2 208.6,244.5 181.3,245.7" fill="none" stroke="#ff0000" stroke-width="4.5" stroke-linejoin="miter"/>
<polyline points="204.6,212.3 221.0,275.9 207.1,242.0 168.3,270.5 185.8,250.1 203.1,301.6 179.5,254.5 231.9,299.8 229.9,283.2 220.8,254.3 227.4,241.8 195.7,311.0 259.0,264.4 247.2,292.9 245.5,281.8 237.3,281.7 205.5,305.3 211.2,325.5 246.1,295.6 245.9,326.1 234.0,301.0 247.9,331.0 263.0,300.8 253.5,327.6 287.8,359.9 282.4,338.3 296.8,368.5 270.7,318.1 267.8,347.0 284.5,402.2 303.0,363.9 270.8,374.6 287.3,370.9 287.0,328.0 310.3,372.5" fill="none" stroke="#3a3aff" stroke-width="4" stroke-linejoin="miter"/>
<polyline points="200.6,239.6 159.7,263.1 202.2,224.5 177.5,237.9 195.9,289.1 179.1,264.9 174.7,260.6 192.3,261.1 239.4,270.0 202.5,242.2 227.8,248.6 204.2,258.8 190.7,261.0 185.7,259.3 229.4,250.6 209.3,305.9 236.7,278.2 226.2,268.5 197.7,279.5 201.3,293.2 251.8,262.0 230.8,308.5 249.7,274.1 245.6,303.2 199.7,307.0 210.9,277.0 236.1,330.6 249.0,305.9 246.0,319.2 228.8,309.2 213.0,294.2 245.5,291.6 214.6,318.9 222.4,319.2 217.5,317.2 237.4,278.0 242.5,293.6 225.4,306.0 274.3,321.9 237.2,342.9 251.6,312.0 235.2,346.8 247.0,324.5 261.8,312.0 292.5,324.3 285.0,335.8 243.3,323.3 252.1,344.6 293.8,353.5 267.1,333.0 294.4,328.8 287.7,323.0 286.4,389.8 288.2,393.5 250.3,340.0" fill="none" stroke="#ff0000" stroke-width="4.5" stroke-linejoin="miter"/>
<polygon points="300.0,140.0 340.0,125.0 380.0,130.0 410.0,150.0 420.0,200.0 410.0,260.0 370.0,270.0 320.0,275.0 300.0,240.0 295.0,190.0" fill="#ff0000"/>
<polyline points="273.9,109.7 291.1,126.6 280.2,111.7 331.1,106.9 298.5,123.6 340.6,136.2 327.7,133.0 280.9,148.7 321.4,153.5 302.9,132.7 307.2,117.2 338.9,128.4 335.9,120.1 341.4,158.4 343.3,181.3 332.6,174.3 290.5,196.9 331.7,148.4 341.4,178.0 306.6,215.3 360.0,168.1 378.7,166.9 318.5,189.4 371.6,157.6 337.3,173.9 363.7,158.6 346.4,227.3 339.5,209.9 324.5,198.1 354.1,179.3 387.4,173.8 360.8,186.1 335.6,233.5 348.1,241.4 362.6,198.8 354.2,204.4 372.0,221.3 329.7,198.2 339.3,206.3 335.1,219.6 358.2,248.4 386.1,245.6 350.8,195.9 371.6,179.0 370.9,213.6 364.4,218.4 404.9,195.5 373.4,235.8 383.2,186.9 386.9,215.0 361.0,243.9 413.9,218.9 395.5,220.0 411.0,232.7 410.4,192.6 417.8,262.9 373.5,229.4 402.9,197.2 365.1,247.6 427.7,234.8 354.8,230.4 389.8,264.9 408.2,242.0 397.0,241.3 342.4,239.0 416.5,260.9 409.6,281.8 393.1,246.1 357.9,221.1 335.2,237.8 401.8,262.6 366.4,221.4 377.8,246.1 321.4,247.1 387.2,291.7 341.0,264.6 314.5,265.8 345.1,269.3 382.4,244.1 352.2,292.3 301.9,287.8 370.2,257.4 340.8,228.8 353.7,255.3 302.9,295.9 325.5,285.9 358.3,283.7 293.5,262.9 292.4,261.5 326.5,280.8" fill="none" stroke="#ff0000" stroke-width="5" stroke-linejoin="miter"/>
<polyline points="286.3,174.0 304.8,106.6 325.4,136.4 303.8,152.4 302.2,109.4 264.6,151.0 283.1,177.7 269.3,125.3 330.9,153.9 340.8,137.0 267.7,173.0 316.9,131.8 308.1,136.2 355.3,162.8 299.6,186.4 310.7,213.3 288.5,211.8 281.1,189.7 364.4,191.5 303.7,168.1 351.4,164.6 309.3,219.9 331.2,185.3 323.6,166.7 376.3,168.5 330.8,172.0 345.1,180.6 383.6,189.0 350.5,189.8 365.3,131.4 379.2,136.1 367.3,174.9 331.6,140.0 388.2,150.9 365.8,179.5 346.8,182.7 377.8,151.2 369.8,134.4 389.5,132.8 390.2,202.0 404.1,135.9 372.1,179.5 362.2,182.3 355.7,184.8 386.1,140.4 396.5,184.5 407.1,144.3 409.6,141.2 379.7,208.0 415.1,168.8 406.0,186.5 409.2,215.6 371.6,212.8 390.3,229.9 399.1,218.4 400.3,184.0 377.1,199.9 423.0,252.3 411.8,187.1 394.5,180.7 366.5,199.7 416.1,244.9 424.2,205.6 408.7,224.5 386.7,226.3 375.1,231.6 386.5,208.5 396.8,198.6 394.5,211.1 368.0,243.9" fill="none" stroke="#ff0000" stroke-width="5" stroke-linejoin="miter"/>
<polyline points="280.2,119.2 301.7,134.9 287.9,136.9 289.6,163.2 300.8,158.9 273.3,171.9 293.7,169.6 276.1,174.1 273.2,182.2 304.9,184.1 271.5,183.4 294.3,186.7 305.9,204.1 299.0,209.8 293.5,218.6 279.1,220.7 292.5,242.4 311.9,246.2 312.3,254.2 303.9,230.2" fill="none" stroke="#3a3aff" stroke-width="4" stroke-linejoin="miter"/>
<polyline points="404.2,135.8 393.0,160.4 402.6,148.2 406.1,150.6 411.3,168.3 410.5,178.7 416.7,174.8 404.3,160.9 420.0,176.9 420.8,185.8 415.5,199.5 421.6,220.5 422.6,204.1 409.6,207.8 403.4,216.6 409.5,228.3" fill="none" stroke="#3a3aff" stroke-width="4" stroke-linejoin="miter"/>
<polygon points="290.0,270.0 330.0,275.0 380.0,300.0 385.0,340.0 345.0,372.0 305.0,385.0 295.0,340.0" fill="#ff0000" fill-opacity="0.75"/>
<polyline points="273.6,267.8 314.3,274.2 269.2,278.0 320.1,288.5 297.0,274.2 322.4,295.2 304.0,302.9 311.2,311.7 299.4,290.2 294.6,340.7 313.2,348.7 285.6,337.2 332.3,328.0 319.3,323.6 310.9,344.8 311.4,382.4 280.8,359.7 308.5,343.3 277.3,379.1 320.4,347.0 297.4,348.2 278.4,389.5 296.3,391.5 337.3,389.4 341.5,368.1 353.7,367.4 339.1,357.0 365.3,359.2 324.5,348.2 360.7,389.6 333.4,343.9 352.8,332.2 357.8,365.5 386.4,360.2 339.2,369.8 339.9,360.6 359.3,323.0 356.6,335.5 372.2,360.8 381.1,334.6" fill="none" stroke="#ff0000" stroke-width="4.5" stroke-linejoin="miter"/>
<line x1="300.0" y1="260.0" x2="300.0" y2="380.0" stroke="#ff0000" stroke-width="4"/>
<line x1="300.0" y1="260.0" x2="320.0" y2="378.0" stroke="#ff0000" stroke-width="4"/>
<line x1="300.0" y1="260.0" x2="340.0" y2="372.0" stroke="#ff0000" stroke-width="4"/>
<line x1="300.0" y1="260.0" x2="360.0" y2="355.0" stroke="#ff0000" stroke-width="4"/>
<line x1="300.0" y1="260.0" x2="380.0" y2="340.0" stroke="#ff0000" stroke-width="4"/>
<line x1="300.0" y1="260.0" x2="385.0" y2="310.0" stroke="#ff0000" stroke-width="4"/>
<line x1="320.0" y1="270.0" x2="300.0" y2="380.0" stroke="#ff0000" stroke-width="4"/>
<line x1="320.0" y1="270.0" x2="320.0" y2="378.0" stroke="#ff0000" stroke-width="4"/>
<line x1="320.0" y1="270.0" x2="340.0" y2="372.0" stroke="#ff0000" stroke-width="4"/>
<line x1="320.0" y1="270.0" x2="360.0" y2="355.0" stroke="#ff0000" stroke-width="4"/>
<line x1="320.0" y1="270.0" x2="380.0" y2="340.0" stroke="#ff0000" stroke-width="4"/>
<line x1="320.0" y1="270.0" x2="385.0" y2="310.0" stroke="#ff0000" stroke-width="4"/>
<line x1="340.0" y1="265.0" x2="300.0" y2="380.0" stroke="#ff0000" stroke-width="4"/>
<line x1="340.0" y1="265.0" x2="320.0" y2="378.0" stroke="#ff0000" stroke-width="4"/>
<line x1="340.0" y1="265.0" x2="340.0" y2="372.0" stroke="#ff0000" stroke-width="4"/>
<line x1="340.0" y1="265.0" x2="360.0" y2="355.0" stroke="#ff0000" stroke-width="4"/>
<line x1="340.0" y1="265.0" x2="380.0" y2="340.0" stroke="#ff0000" stroke-width="4"/>
<line x1="340.0" y1="265.0" x2="385.0" y2="310.0" stroke="#ff0000" stroke-width="4"/>
<line x1="360.0" y1="270.0" x2="300.0" y2="380.0" stroke="#ff0000" stroke-width="4"/>
<line x1="360.0" y1="270.0" x2="320.0" y2="378.0" stroke="#ff0000" stroke-width="4"/>
<line x1="360.0" y1="270.0" x2="340.0" y2="372.0" stroke="#ff0000" stroke-width="4"/>
<line x1="360.0" y1="270.0" x2="360.0" y2="355.0" stroke="#ff0000" stroke-width="4"/>
<line x1="360.0" y1="270.0" x2="380.0" y2="340.0" stroke="#ff0000" stroke-width="4"/>
<line x1="360.0" y1="270.0" x2="385.0" y2="310.0" stroke="#ff0000" stroke-width="4"/>
<polygon points="277.0,37.0 330.0,33.0 432.0,27.0 330.0,70.0 290.0,110.0 282.0,130.0" fill="#ff0000" fill-opacity="0.8"/>
<line x1="280.0" y1="45.0" x2="432.0" y2="27.0" stroke="#ff0000" stroke-width="3.5"/>
<line x1="280.0" y1="45.0" x2="445.0" y2="30.0" stroke="#ff0000" stroke-width="3.5"/>
<line x1="280.0" y1="45.0" x2="460.0" y2="40.0" stroke="#ff0000" stroke-width="3.5"/>
<line x1="282.0" y1="65.0" x2="432.0" y2="27.0" stroke="#ff0000" stroke-width="3.5"/>
<line x1="282.0" y1="65.0" x2="445.0" y2="30.0" stroke="#ff0000" stroke-width="3.5"/>
<line x1="282.0" y1="65.0" x2="460.0" y2="40.0" stroke="#ff0000" stroke-width="3.5"/>
<line x1="285.0" y1="85.0" x2="432.0" y2="27.0" stroke="#ff0000" stroke-width="3.5"/>
<line x1="285.0" y1="85.0" x2="445.0" y2="30.0" stroke="#ff0000" stroke-width="3.5"/>
<line x1="285.0" y1="85.0" x2="460.0" y2="40.0" stroke="#ff0000" stroke-width="3.5"/>
<line x1="288.0" y1="105.0" x2="432.0" y2="27.0" stroke="#ff0000" stroke-width="3.5"/>
<line x1="288.0" y1="105.0" x2="445.0" y2="30.0" stroke="#ff0000" stroke-width="3.5"/>
<line x1="288.0" y1="105.0" x2="460.0" y2="40.0" stroke="#ff0000" stroke-width="3.5"/>
<line x1="292.0" y1="125.0" x2="432.0" y2="27.0" stroke="#ff0000" stroke-width="3.5"/>
<line x1="292.0" y1="125.0" x2="445.0" y2="30.0" stroke="#ff0000" stroke-width="3.5"/>
<line x1="292.0" y1="125.0" x2="460.0" y2="40.0" stroke="#ff0000" stroke-width="3.5"/>
<line x1="300.0" y1="140.0" x2="432.0" y2="27.0" stroke="#ff0000" stroke-width="3.5"/>
<line x1="300.0" y1="140.0" x2="445.0" y2="30.0" stroke="#ff0000" stroke-width="3.5"/>
<line x1="300.0" y1="140.0" x2="460.0" y2="40.0" stroke="#ff0000" stroke-width="3.5"/>
<line x1="320.0" y1="130.0" x2="432.0" y2="27.0" stroke="#ff0000" stroke-width="3.5"/>
<line x1="320.0" y1="130.0" x2="445.0" y2="30.0" stroke="#ff0000" stroke-width="3.5"/>
<line x1="320.0" y1="130.0" x2="460.0" y2="40.0" stroke="#ff0000" stroke-width="3.5"/>
<line x1="340.0" y1="120.0" x2="432.0" y2="27.0" stroke="#ff0000" stroke-width="3.5"/>
<line x1="340.0" y1="120.0" x2="445.0" y2="30.0" stroke="#ff0000" stroke-width="3.5"/>
<line x1="340.0" y1="120.0" x2="460.0" y2="40.0" stroke="#ff0000" stroke-width="3.5"/>
<line x1="360.0" y1="125.0" x2="432.0" y2="27.0" stroke="#ff0000" stroke-width="3.5"/>
<line x1="360.0" y1="125.0" x2="445.0" y2="30.0" stroke="#ff0000" stroke-width="3.5"/>
<line x1="360.0" y1="125.0" x2="460.0" y2="40.0" stroke="#ff0000" stroke-width="3.5"/>
<line x1="330.0" y1="110.0" x2="470.0" y2="55.0" stroke="#ff0000" stroke-width="3.5"/>
<line x1="330.0" y1="110.0" x2="495.0" y2="65.0" stroke="#ff0000" stroke-width="3.5"/>
<line x1="330.0" y1="110.0" x2="513.0" y2="75.0" stroke="#ff0000" stroke-width="3.5"/>
<line x1="350.0" y1="130.0" x2="470.0" y2="55.0" stroke="#ff0000" stroke-width="3.5"/>
<line x1="350.0" y1="130.0" x2="495.0" y2="65.0" stroke="#ff0000" stroke-width="3.5"/>
<line x1="350.0" y1="130.0" x2="513.0" y2="75.0" stroke="#ff0000" stroke-width="3.5"/>
<line x1="370.0" y1="140.0" x2="470.0" y2="55.0" stroke="#ff0000" stroke-width="3.5"/>
<line x1="370.0" y1="140.0" x2="495.0" y2="65.0" stroke="#ff0000" stroke-width="3.5"/>
<line x1="370.0" y1="140.0" x2="513.0" y2="75.0" stroke="#ff0000" stroke-width="3.5"/>
<line x1="390.0" y1="120.0" x2="470.0" y2="55.0" stroke="#ff0000" stroke-width="3.5"/>
<line x1="390.0" y1="120.0" x2="495.0" y2="65.0" stroke="#ff0000" stroke-width="3.5"/>
<line x1="390.0" y1="120.0" x2="513.0" y2="75.0" stroke="#ff0000" stroke-width="3.5"/>
<line x1="360.0" y1="100.0" x2="470.0" y2="55.0" stroke="#ff0000" stroke-width="3.5"/>
<line x1="360.0" y1="100.0" x2="495.0" y2="65.0" stroke="#ff0000" stroke-width="3.5"/>
<line x1="360.0" y1="100.0" x2="513.0" y2="75.0" stroke="#ff0000" stroke-width="3.5"/>
<line x1="400.0" y1="160.0" x2="470.0" y2="55.0" stroke="#ff0000" stroke-width="3.5"/>
<line x1="400.0" y1="160.0" x2="495.0" y2="65.0" stroke="#ff0000" stroke-width="3.5"/>
<line x1="400.0" y1="160.0" x2="513.0" y2="75.0" stroke="#ff0000" stroke-width="3.5"/>
<line x1="420.0" y1="150.0" x2="470.0" y2="55.0" stroke="#ff0000" stroke-width="3.5"/>
<line x1="420.0" y1="150.0" x2="495.0" y2="65.0" stroke="#ff0000" stroke-width="3.5"/>
<line x1="420.0" y1="150.0" x2="513.0" y2="75.0" stroke="#ff0000" stroke-width="3.5"/>
<line x1="513.0" y1="75.0" x2="450.0" y2="180.0" stroke="#ff0000" stroke-width="3.5"/>
<line x1="513.0" y1="75.0" x2="430.0" y2="160.0" stroke="#ff0000" stroke-width="3.5"/>
<line x1="513.0" y1="75.0" x2="420.0" y2="140.0" stroke="#ff0000" stroke-width="3.5"/>
<line x1="513.0" y1="75.0" x2="470.0" y2="185.0" stroke="#ff0000" stroke-width="3.5"/>
<line x1="470.0" y1="55.0" x2="450.0" y2="180.0" stroke="#ff0000" stroke-width="3.5"/>
<line x1="470.0" y1="55.0" x2="430.0" y2="160.0" stroke="#ff0000" stroke-width="3.5"/>
<line x1="470.0" y1="55.0" x2="440.0" y2="185.0" stroke="#ff0000" stroke-width="3.5"/>
<polyline points="275.2,37.8 272.5,48.1 272.0,53.5 285.0,70.0 285.8,76.3 288.9,82.7 284.8,91.1 279.9,81.0 278.6,94.3 276.5,106.7" fill="none" stroke="#3a3aff" stroke-width="4" stroke-linejoin="miter"/>
<polyline points="496.4,69.8 498.1,64.0 496.6,63.9 507.1,70.5 513.3,91.9 507.7,113.6 505.1,138.0 497.1,139.4 494.7,158.0 492.5,174.4" fill="none" stroke="#3a3aff" stroke-width="3.5" stroke-linejoin="miter"/>
</g></g>
<rect x="293.40" y="116.70" width="102.00" height="75.30" fill="none" stroke="#8a8a8a" stroke-width="0.8"/>
<line x1="292.20" y1="127.80" x2="293.40" y2="127.80" stroke="#555" stroke-width="0.5"/>
<text class="t" x="291.60" y="128.90" font-size="3.2" text-anchor="end">−1.20</text>
<line x1="292.20" y1="142.60" x2="293.40" y2="142.60" stroke="#555" stroke-width="0.5"/>
<text class="t" x="291.60" y="143.70" font-size="3.2" text-anchor="end">−1.22</text>
<line x1="292.20" y1="157.40" x2="293.40" y2="157.40" stroke="#555" stroke-width="0.5"/>
<text class="t" x="291.60" y="158.50" font-size="3.2" text-anchor="end">−1.24</text>
<line x1="292.20" y1="172.20" x2="293.40" y2="172.20" stroke="#555" stroke-width="0.5"/>
<text class="t" x="291.60" y="173.30" font-size="3.2" text-anchor="end">−1.26</text>
<line x1="292.20" y1="187.00" x2="293.40" y2="187.00" stroke="#555" stroke-width="0.5"/>
<text class="t" x="291.60" y="188.10" font-size="3.2" text-anchor="end">−1.28</text>
<line x1="307.30" y1="192.00" x2="307.30" y2="193.20" stroke="#555" stroke-width="0.5"/>
<text class="t" x="307.30" y="196.40" font-size="3.2" text-anchor="middle">−0.80</text>
<line x1="324.05" y1="192.00" x2="324.05" y2="193.20" stroke="#555" stroke-width="0.5"/>
<text class="t" x="324.05" y="196.40" font-size="3.2" text-anchor="middle">−0.78</text>
<line x1="340.80" y1="192.00" x2="340.80" y2="193.20" stroke="#555" stroke-width="0.5"/>
<text class="t" x="340.80" y="196.40" font-size="3.2" text-anchor="middle">−0.76</text>
<line x1="357.55" y1="192.00" x2="357.55" y2="193.20" stroke="#555" stroke-width="0.5"/>
<text class="t" x="357.55" y="196.40" font-size="3.2" text-anchor="middle">−0.74</text>
<line x1="374.30" y1="192.00" x2="374.30" y2="193.20" stroke="#555" stroke-width="0.5"/>
<text class="t" x="374.30" y="196.40" font-size="3.2" text-anchor="middle">−0.72</text>
<line x1="391.05" y1="192.00" x2="391.05" y2="193.20" stroke="#555" stroke-width="0.5"/>
<text class="t" x="391.05" y="196.40" font-size="3.2" text-anchor="middle">−0.70</text>
<text class="t" x="344.40" y="200.20" font-size="3.2" text-anchor="middle">x [m]</text>
<text class="t" font-size="3.2" text-anchor="middle" transform="translate(279.90,154.35) rotate(-90)">y [m]</text>
<line x1="295.30" y1="120.40" x2="301.00" y2="120.40" stroke="#555" stroke-width="0.9"/>
<text class="t l" x="303.60" y="121.55" font-size="3.3">ground truth</text>
<line x1="295.30" y1="125.00" x2="301.00" y2="125.00" stroke="#5a5aff" stroke-width="0.9"/>
<text class="t l" x="303.60" y="126.15" font-size="3.3">DS-SLAM</text>
<line x1="295.30" y1="129.60" x2="301.00" y2="129.60" stroke="#ff3030" stroke-width="0.9"/>
<text class="t l" x="303.60" y="130.75" font-size="3.3">difference</text>
<text class="c" x="295.94 300.22 304.51 308.79 313.07 317.35 321.64 325.92 330.20 334.48 338.77 343.05 347.33 351.62 355.90 360.18 364.46 368.75 373.03 377.31 381.59 385.88 390.16" y="211.60" font-size="8.6" text-anchor="middle" transform="scale(1,1)">(l)fr3_w_static/DS-SLAM</text>
</g>
<g>
<clipPath id="cpq"><rect x="431.50" y="114.80" width="101.30" height="76.70"/></clipPath>
<g clip-path="url(#cpq)"><g transform="translate(431,114) scale(0.189239)">
<polyline points="24.8,188.2 49.5,202.4 40.2,188.6 48.3,200.4 66.2,180.3 37.0,191.9 60.5,186.3 41.3,190.9 43.1,193.6 78.4,195.2 47.9,188.8 76.9,188.9 94.1,203.0 87.0,208.7 84.2,214.7 68.2,217.2 75.6,235.7 90.5,235.8 87.4,242.3 77.3,215.4" fill="none" stroke="#3a3aff" stroke-width="4" stroke-linejoin="miter"/>
<polyline points="35.0,187.9 21.5,212.4 32.6,183.7 36.7,182.7 42.9,200.6 41.8,209.2 49.4,205.4 34.3,182.2 53.1,200.3 53.6,194.0 46.9,189.9 60.2,199.2 66.1,173.1 52.1,175.5 46.3,183.8 58.8,190.8 56.2,212.2 71.6,188.4 59.1,200.1 81.2,212.4 91.8,224.2 71.2,205.0 88.0,213.9 67.2,239.0 60.1,217.3 57.1,232.4 57.1,224.1 60.3,220.3" fill="none" stroke="#ff0000" stroke-width="4.5" stroke-linejoin="miter"/>
<polyline points="50.9,184.3 83.3,176.2 81.9,170.1 108.7,168.3 122.5,152.6 156.4,150.0 151.9,152.0 177.2,146.3 185.5,134.0 183.9,150.8" fill="none" stroke="#ff0000" stroke-width="4" stroke-linejoin="miter"/>
<polyline points="55.8,191.0 82.7,170.3 81.6,177.5 132.4,160.4 147.4,155.8 152.2,162.5 149.8,170.4 143.6,158.6" fill="none" stroke="#3a3aff" stroke-width="3.5" stroke-linejoin="miter"/>
<polygon points="230.0,150.0 280.0,135.0 330.0,140.0 350.0,180.0 340.0,240.0 310.0,280.0 260.0,290.0 220.0,270.0 215.0,200.0" fill="#ff0000" fill-opacity="0.55"/>
<polyline points="137.2,158.8 144.2,117.6 138.4,121.8 175.0,126.0 193.1,140.5 198.5,134.3 200.2,222.4 156.5,208.8 214.9,171.5 230.6,217.5 235.4,221.8 210.7,216.5 181.5,220.0 196.5,219.4 186.5,243.5 190.0,169.7 230.7,226.3 228.4,230.7 168.7,200.5 201.2,177.0 144.0,244.9 166.9,216.5 192.9,245.1 174.1,215.4 134.4,261.3 133.8,248.1 133.0,283.3 176.6,304.4 218.8,260.6 176.8,296.2 154.8,291.1 224.9,261.9 247.5,262.7 207.4,300.6 242.1,304.1 244.7,328.3 244.4,236.2 215.6,244.3 254.8,258.7 277.9,299.3 299.9,258.3 263.9,241.9 220.0,240.9 227.2,266.7 243.9,255.4 294.6,281.1 274.4,287.4 299.9,296.6 304.1,263.6 312.3,306.9 302.7,279.2 342.9,287.6 262.5,303.5 262.6,283.5 304.5,302.3 291.8,322.3 325.2,251.9 364.9,293.8 352.6,308.9 330.5,262.0 333.2,305.6 388.5,262.9 357.3,244.8 373.5,261.6 345.9,274.0 355.7,228.6 317.5,219.3 367.2,233.2 343.4,275.1 337.4,203.7 316.5,180.2 284.5,229.7 300.9,167.4 356.3,184.6 370.0,184.4 340.6,219.8 377.3,157.7 336.7,191.1 308.9,169.8 337.6,182.3 353.9,123.0 373.1,161.6 376.8,176.0 341.0,194.8 336.0,124.9 320.0,168.5 321.7,166.2 322.7,124.9 308.5,183.2 348.0,141.4 323.4,118.5 294.7,108.1 297.0,161.6 304.3,142.5 322.5,141.4 336.5,165.4 275.6,142.5 322.9,141.7 280.0,117.1 266.8,113.5 291.8,113.3 267.9,111.4 256.1,146.7 246.6,143.2 222.8,151.5 233.1,183.6 230.3,177.6 236.8,157.6 243.8,164.7 244.7,131.6" fill="none" stroke="#ff0000" stroke-width="4.5" stroke-linejoin="miter"/>
<polyline points="202.7,159.0 206.5,147.1 182.1,232.1 125.3,162.9 228.8,195.7 246.6,202.0 192.0,159.0 202.8,173.4 197.6,250.1 152.3,207.4 177.3,264.7 172.8,256.2 151.4,201.1 213.8,257.9 166.6,196.5 172.7,275.2 193.5,220.4 221.1,229.2 205.7,229.6 188.7,317.0 197.0,217.1 174.0,231.5 210.2,240.9 229.2,319.9 204.8,314.9 196.6,272.8 263.0,281.0 231.7,322.3 198.7,295.0 236.3,281.4 220.8,341.2 267.3,260.5 248.6,237.1 235.1,268.3 221.5,279.0 300.7,289.6 245.3,271.3 298.2,242.7 246.7,277.9 300.9,257.7 269.0,260.0 330.7,301.4 300.1,296.3 275.1,347.1 325.6,355.7 279.4,328.3 372.0,288.4 345.2,326.6 359.4,331.9 338.5,251.3 290.8,296.7 333.1,298.9 339.7,237.5 338.5,255.1 379.5,294.9 298.4,245.3 338.5,195.7 375.6,195.6 365.5,177.2 331.7,181.3 318.5,217.8 346.6,149.3 378.2,147.0 322.3,166.4 369.3,147.4 303.7,145.8 369.5,158.5 321.1,149.8 354.9,190.4 369.2,125.2 342.6,88.3 303.1,176.2 306.7,85.4 320.5,145.8 347.6,120.4 340.8,127.8 370.7,142.8 319.8,181.6 333.4,183.1 258.5,164.1" fill="none" stroke="#3a3aff" stroke-width="3.5" stroke-linejoin="miter"/>
<polyline points="156.7,173.7 159.3,182.2 135.0,174.8 140.3,160.8 182.1,188.8 226.9,193.1 194.6,174.8 158.1,178.7 214.5,197.0 187.8,224.4 176.7,181.2 210.7,200.7 236.3,231.9 261.4,174.6 260.7,207.7 222.2,221.3 248.0,174.8 205.8,178.2 231.8,214.1 269.2,203.0 259.7,232.7 274.2,183.8 281.0,214.0 256.1,214.7 306.8,179.5 301.7,184.8 291.5,200.5 277.1,166.4 347.3,203.4 274.2,212.6 299.1,167.8 279.8,189.5 336.7,219.3 320.0,150.1 299.9,227.4 279.4,203.9 356.4,203.9 347.5,214.6 292.0,208.9 373.7,205.1 317.0,245.8 303.1,214.1 367.0,216.2 360.7,250.9 297.2,205.1 291.1,229.1 304.6,239.3 292.7,255.5 299.4,237.7 346.3,273.6 325.4,246.9 318.9,240.2 343.7,273.0 347.1,253.5 346.8,257.5 336.0,277.9 288.6,290.7 307.7,240.9 268.1,293.9 329.1,259.9 265.6,282.9 279.3,225.0 276.3,280.5 249.3,255.1 253.7,275.5 253.6,279.9 208.2,289.4 252.1,287.3 235.6,283.1 222.5,235.6 220.7,250.9 217.6,265.1 233.3,295.1 181.8,299.6 225.1,309.2 205.1,301.7 208.1,265.5 183.6,301.3 219.1,268.9 164.4,268.7 187.1,227.7 213.0,270.7 223.7,252.6 219.8,268.9 233.6,279.8 204.9,297.1 160.8,278.1 201.3,289.7 166.3,260.4 212.6,286.1" fill="none" stroke="#ff0000" stroke-width="4.5" stroke-linejoin="miter"/>
<polyline points="259.4,171.2 269.8,176.1 275.0,160.8 242.9,164.2 251.7,140.4 235.3,146.3 254.0,160.2 239.5,132.3 289.6,143.2 258.0,173.5 279.1,179.3 272.2,190.5 299.7,180.0 284.2,146.1 266.8,145.9 291.5,166.7 290.9,159.0 273.2,135.8 319.9,154.9 314.4,141.4 283.2,150.5 337.5,176.4 285.2,196.1 280.0,146.8 299.2,170.7 343.5,157.8 333.9,184.4 298.4,198.9 327.8,221.3 336.2,197.7 310.7,155.7 319.8,221.7 323.0,200.6 342.7,212.0 306.3,229.7 309.9,210.0 337.1,191.1 294.9,197.9 366.3,213.2 352.4,227.6 324.0,221.6 293.9,244.6 363.5,219.7 300.6,244.1 314.6,222.4 325.6,224.4 330.6,221.8 284.2,258.8 302.8,227.4 311.9,278.6 307.5,250.7 316.0,257.0 294.7,276.6 272.9,273.8 287.7,271.2 287.8,260.5 320.0,295.1 251.2,277.8 273.4,261.7 301.6,291.8" fill="none" stroke="#ff0000" stroke-width="4.5" stroke-linejoin="miter"/>
<polyline points="201.3,279.7 211.4,319.2 228.0,301.3 245.2,327.8 253.9,342.6 245.1,348.9 251.2,355.4 243.0,381.2 253.2,391.9 246.8,361.7 248.5,347.7 265.0,319.1 242.7,311.6 226.9,301.6" fill="none" stroke="#3a3aff" stroke-width="4" stroke-linejoin="miter"/>
<polyline points="167.9,297.6 188.5,301.0 171.9,307.3 194.9,317.3 209.3,310.8 201.7,313.8 226.9,313.2 236.7,330.3 237.4,351.8 227.4,346.4" fill="none" stroke="#ff0000" stroke-width="4" stroke-linejoin="miter"/>
<polyline points="329.9,123.5 328.2,118.4 332.3,97.1 338.7,81.0 336.6,73.8 343.3,71.6 326.1,68.6 309.4,57.1 297.6,70.5 309.6,57.7 317.1,40.3 330.8,46.9 354.5,48.2 369.9,34.7 382.1,38.5 376.8,29.6 372.1,29.3 361.3,31.5 391.4,35.4 391.9,15.1 383.7,20.1 387.5,40.2 388.4,26.5 403.2,30.3 396.8,42.5 398.6,38.4 394.4,29.8 410.8,39.8 412.9,49.5 410.8,43.6 419.3,28.6 436.2,24.9 448.6,38.5 447.6,19.0 469.0,35.2 467.6,29.5 459.9,42.0 464.5,39.7 471.4,49.6 488.5,56.7 491.1,44.8 484.3,51.1 483.7,65.8 503.7,78.4 509.1,85.0 504.7,73.7 496.1,87.8 505.1,91.9 489.2,115.5 464.0,104.7" fill="none" stroke="#3a3aff" stroke-width="4" stroke-linejoin="miter"/>
<polyline points="323.3,130.1 339.2,121.2 345.8,117.9 347.8,107.8 346.9,93.8 340.2,93.9 340.4,75.9 343.7,62.1 325.0,66.6 335.1,58.9 320.2,67.5 302.6,46.2 307.2,47.9 324.5,40.3 326.6,36.3 347.3,48.1 365.3,39.4 362.7,41.3 385.0,37.5 374.0,18.0 386.9,27.6 389.7,38.6 393.3,36.2 414.7,51.4 430.0,29.7 417.4,35.4 439.7,18.8 442.8,30.9 450.7,30.9 457.8,42.4 478.8,41.4 479.6,36.0 480.1,58.2 482.7,54.1 500.7,59.5 504.8,58.9 510.9,65.2 498.8,66.8 493.4,81.8 514.4,80.8 492.8,103.4 489.4,101.6 483.4,91.7 474.5,105.9 468.1,94.0 473.3,87.5 448.7,78.3 462.3,72.2 453.1,74.6 447.3,65.9 436.3,67.7 439.6,49.2 447.9,52.0 431.2,68.2 439.3,68.0 448.6,54.8 440.7,67.4 430.5,51.8 446.8,64.7 437.0,47.8" fill="none" stroke="#ff0000" stroke-width="4.5" stroke-linejoin="miter"/>
<polyline points="466.3,69.5 467.3,81.7 462.3,65.7 464.7,66.8 469.8,63.7 483.1,80.0 497.0,74.8 497.7,69.1 498.2,75.3 488.6,90.3 503.2,91.1 499.7,91.8 488.5,85.4 502.0,89.9 497.2,101.2 499.3,88.8 491.4,105.9 469.7,101.4 477.1,106.2 474.8,83.1" fill="none" stroke="#ff0000" stroke-width="4.5" stroke-linejoin="miter"/>
</g></g>
<rect x="431.50" y="114.80" width="101.30" height="76.70" fill="none" stroke="#8a8a8a" stroke-width="0.8"/>
<line x1="430.30" y1="117.80" x2="431.50" y2="117.80" stroke="#555" stroke-width="0.5"/>
<text class="t" x="429.70" y="118.90" font-size="3.2" text-anchor="end">−0.18</text>
<line x1="430.30" y1="128.90" x2="431.50" y2="128.90" stroke="#555" stroke-width="0.5"/>
<text class="t" x="429.70" y="130.00" font-size="3.2" text-anchor="end">−0.19</text>
<line x1="430.30" y1="140.00" x2="431.50" y2="140.00" stroke="#555" stroke-width="0.5"/>
<text class="t" x="429.70" y="141.10" font-size="3.2" text-anchor="end">−0.20</text>
<line x1="430.30" y1="151.10" x2="431.50" y2="151.10" stroke="#555" stroke-width="0.5"/>
<text class="t" x="429.70" y="152.20" font-size="3.2" text-anchor="end">−0.21</text>
<line x1="430.30" y1="162.20" x2="431.50" y2="162.20" stroke="#555" stroke-width="0.5"/>
<text class="t" x="429.70" y="163.30" font-size="3.2" text-anchor="end">−0.22</text>
<line x1="430.30" y1="173.30" x2="431.50" y2="173.30" stroke="#555" stroke-width="0.5"/>
<text class="t" x="429.70" y="174.40" font-size="3.2" text-anchor="end">−0.23</text>
<line x1="430.30" y1="184.40" x2="431.50" y2="184.40" stroke="#555" stroke-width="0.5"/>
<text class="t" x="429.70" y="185.50" font-size="3.2" text-anchor="end">−0.24</text>
<line x1="440.20" y1="191.50" x2="440.20" y2="192.70" stroke="#555" stroke-width="0.5"/>
<text class="t" x="440.20" y="195.90" font-size="3.2" text-anchor="middle">−0.80</text>
<line x1="457.15" y1="191.50" x2="457.15" y2="192.70" stroke="#555" stroke-width="0.5"/>
<text class="t" x="457.15" y="195.90" font-size="3.2" text-anchor="middle">−0.78</text>
<line x1="474.10" y1="191.50" x2="474.10" y2="192.70" stroke="#555" stroke-width="0.5"/>
<text class="t" x="474.10" y="195.90" font-size="3.2" text-anchor="middle">−0.76</text>
<line x1="491.05" y1="191.50" x2="491.05" y2="192.70" stroke="#555" stroke-width="0.5"/>
<text class="t" x="491.05" y="195.90" font-size="3.2" text-anchor="middle">−0.74</text>
<line x1="508.00" y1="191.50" x2="508.00" y2="192.70" stroke="#555" stroke-width="0.5"/>
<text class="t" x="508.00" y="195.90" font-size="3.2" text-anchor="middle">−0.72</text>
<line x1="524.95" y1="191.50" x2="524.95" y2="192.70" stroke="#555" stroke-width="0.5"/>
<text class="t" x="524.95" y="195.90" font-size="3.2" text-anchor="middle">−0.70</text>
<text class="t" x="482.15" y="199.70" font-size="3.2" text-anchor="middle">x [m]</text>
<text class="t" font-size="3.2" text-anchor="middle" transform="translate(418.00,153.15) rotate(-90)">y [m]</text>
<line x1="433.40" y1="118.50" x2="439.10" y2="118.50" stroke="#555" stroke-width="0.9"/>
<text class="t l" x="441.70" y="119.65" font-size="3.3">ground truth</text>
<line x1="433.40" y1="123.10" x2="439.10" y2="123.10" stroke="#5a5aff" stroke-width="0.9"/>
<text class="t l" x="441.70" y="124.25" font-size="3.3">SOLO-SLAM</text>
<line x1="433.40" y1="127.70" x2="439.10" y2="127.70" stroke="#ff3030" stroke-width="0.9"/>
<text class="t l" x="441.70" y="128.85" font-size="3.3">difference</text>
<text class="c" x="429.15 433.44 437.73 442.02 446.31 450.61 454.90 459.19 463.48 467.77 472.07 476.36 480.65 484.94 489.23 493.53 497.82 502.11 506.40 510.69 514.99 519.28 523.57 527.86 532.15" y="211.30" font-size="8.6" text-anchor="middle" transform="scale(1,1)">(q)fr3_w_static/SOLO-SLAM</text>
</g>
<g>
<clipPath id="cpc"><rect x="19.50" y="227.20" width="100.90" height="75.10"/></clipPath>
<g clip-path="url(#cpc)"><g transform="translate(19,226) scale(0.189239)">
<polygon points="28.0,90.0 70.0,70.0 118.0,45.0 188.0,28.0 230.0,38.0 265.0,49.0 306.0,70.0 348.0,77.0 300.0,125.0 230.0,140.0 139.0,118.0" fill="#ffa8a8"/>
<line x1="28.0" y1="90.0" x2="60.0" y2="100.0" stroke="#ff0000" stroke-width="3.5"/>
<line x1="33.9" y1="87.2" x2="64.8" y2="100.8" stroke="#ff0000" stroke-width="3.5"/>
<line x1="39.8" y1="84.4" x2="69.6" y2="101.5" stroke="#ff0000" stroke-width="3.5"/>
<line x1="45.7" y1="81.6" x2="74.4" y2="102.3" stroke="#ff0000" stroke-width="3.5"/>
<line x1="51.7" y1="78.7" x2="79.1" y2="103.1" stroke="#ff0000" stroke-width="3.5"/>
<line x1="57.6" y1="75.9" x2="83.9" y2="103.8" stroke="#ff0000" stroke-width="3.5"/>
<line x1="63.5" y1="73.1" x2="88.7" y2="104.6" stroke="#ff0000" stroke-width="3.5"/>
<line x1="69.4" y1="70.3" x2="93.5" y2="105.4" stroke="#ff0000" stroke-width="3.5"/>
<line x1="75.2" y1="67.3" x2="98.3" y2="106.1" stroke="#ff0000" stroke-width="3.5"/>
<line x1="81.0" y1="64.3" x2="103.1" y2="106.9" stroke="#ff0000" stroke-width="3.5"/>
<line x1="86.8" y1="61.2" x2="107.8" y2="107.7" stroke="#ff0000" stroke-width="3.5"/>
<line x1="92.6" y1="58.2" x2="112.6" y2="108.5" stroke="#ff0000" stroke-width="3.5"/>
<line x1="98.5" y1="55.2" x2="117.4" y2="109.5" stroke="#ff0000" stroke-width="3.5"/>
<line x1="104.3" y1="52.2" x2="122.1" y2="110.4" stroke="#ff0000" stroke-width="3.5"/>
<line x1="110.1" y1="49.1" x2="126.9" y2="111.4" stroke="#ff0000" stroke-width="3.5"/>
<line x1="115.9" y1="46.1" x2="131.6" y2="112.3" stroke="#ff0000" stroke-width="3.5"/>
<line x1="122.0" y1="44.0" x2="136.4" y2="113.3" stroke="#ff0000" stroke-width="3.5"/>
<line x1="128.4" y1="42.5" x2="141.1" y2="114.2" stroke="#ff0000" stroke-width="3.5"/>
<line x1="134.8" y1="40.9" x2="145.9" y2="115.2" stroke="#ff0000" stroke-width="3.5"/>
<line x1="141.1" y1="39.4" x2="150.6" y2="116.1" stroke="#ff0000" stroke-width="3.5"/>
<line x1="147.5" y1="37.8" x2="155.4" y2="117.1" stroke="#ff0000" stroke-width="3.5"/>
<line x1="153.9" y1="36.3" x2="160.1" y2="118.0" stroke="#ff0000" stroke-width="3.5"/>
<line x1="160.2" y1="34.7" x2="164.8" y2="119.2" stroke="#ff0000" stroke-width="3.5"/>
<line x1="166.6" y1="33.2" x2="169.5" y2="120.4" stroke="#ff0000" stroke-width="3.5"/>
<line x1="173.0" y1="31.7" x2="174.2" y2="121.6" stroke="#ff0000" stroke-width="3.5"/>
<line x1="179.3" y1="30.1" x2="178.9" y2="122.7" stroke="#ff0000" stroke-width="3.5"/>
<line x1="185.7" y1="28.6" x2="183.6" y2="123.9" stroke="#ff0000" stroke-width="3.5"/>
<line x1="192.1" y1="29.0" x2="188.3" y2="125.1" stroke="#ff0000" stroke-width="3.5"/>
<line x1="198.4" y1="30.5" x2="193.0" y2="126.3" stroke="#ff0000" stroke-width="3.5"/>
<line x1="204.8" y1="32.0" x2="197.7" y2="127.4" stroke="#ff0000" stroke-width="3.5"/>
<line x1="211.2" y1="33.5" x2="202.4" y2="128.6" stroke="#ff0000" stroke-width="3.5"/>
<line x1="217.5" y1="35.0" x2="207.2" y2="129.6" stroke="#ff0000" stroke-width="3.5"/>
<line x1="223.9" y1="36.6" x2="211.9" y2="130.7" stroke="#ff0000" stroke-width="3.5"/>
<line x1="230.3" y1="38.1" x2="216.6" y2="131.8" stroke="#ff0000" stroke-width="3.5"/>
<line x1="236.5" y1="40.1" x2="221.3" y2="132.9" stroke="#ff0000" stroke-width="3.5"/>
<line x1="242.8" y1="42.0" x2="226.1" y2="134.0" stroke="#ff0000" stroke-width="3.5"/>
<line x1="249.0" y1="44.0" x2="230.8" y2="135.0" stroke="#ff0000" stroke-width="3.5"/>
<line x1="255.3" y1="45.9" x2="235.5" y2="136.1" stroke="#ff0000" stroke-width="3.5"/>
<line x1="261.5" y1="47.9" x2="240.3" y2="136.8" stroke="#ff0000" stroke-width="3.5"/>
<line x1="267.6" y1="50.3" x2="245.1" y2="137.6" stroke="#ff0000" stroke-width="3.5"/>
<line x1="273.4" y1="53.3" x2="249.9" y2="138.4" stroke="#ff0000" stroke-width="3.5"/>
<line x1="279.2" y1="56.3" x2="254.6" y2="139.1" stroke="#ff0000" stroke-width="3.5"/>
<line x1="285.1" y1="59.3" x2="259.4" y2="139.9" stroke="#ff0000" stroke-width="3.5"/>
<line x1="290.9" y1="62.3" x2="264.3" y2="140.0" stroke="#ff0000" stroke-width="3.5"/>
<line x1="296.7" y1="65.3" x2="269.1" y2="140.0" stroke="#ff0000" stroke-width="3.5"/>
<line x1="302.6" y1="68.2" x2="274.0" y2="140.0" stroke="#ff0000" stroke-width="3.5"/>
<line x1="308.6" y1="70.8" x2="278.8" y2="140.0" stroke="#ff0000" stroke-width="3.5"/>
<line x1="314.9" y1="72.6" x2="283.6" y2="140.0" stroke="#ff0000" stroke-width="3.5"/>
<line x1="321.1" y1="74.5" x2="287.9" y2="138.1" stroke="#ff0000" stroke-width="3.5"/>
<line x1="327.4" y1="76.3" x2="291.9" y2="135.4" stroke="#ff0000" stroke-width="3.5"/>
<line x1="333.7" y1="78.2" x2="296.0" y2="132.7" stroke="#ff0000" stroke-width="3.5"/>
<line x1="340.0" y1="80.0" x2="300.0" y2="130.0" stroke="#ff0000" stroke-width="3.5"/>
<polygon points="28.0,88.0 100.0,100.0 160.0,116.0 209.0,132.0 260.0,140.0 282.0,113.0 354.0,77.0 374.0,84.0 397.0,130.0 368.0,123.0 335.0,126.0 302.0,146.0 335.0,155.0 368.0,179.0 381.0,208.0 348.0,202.0 316.0,185.0 330.0,200.0 387.0,231.0 450.0,310.0 511.0,384.0 505.0,388.0 413.0,296.0 348.0,238.0 300.0,205.0 256.0,172.0 223.0,152.0 139.0,122.0 28.0,95.0" fill="#ff0000"/>
<polyline points="118.0,45.0 188.0,28.0 230.0,38.0 265.0,49.0 306.0,70.0 340.0,80.0" fill="none" stroke="#3a3aff" stroke-width="4" stroke-linejoin="round" stroke-linecap="round"/>
<polyline points="335.0,155.0 368.0,179.0 381.0,208.0" fill="none" stroke="#3a3aff" stroke-width="4" stroke-linejoin="round" stroke-linecap="round"/>
<polyline points="450.0,300.0 470.0,320.0" fill="none" stroke="#3a3aff" stroke-width="3" stroke-linejoin="round" stroke-linecap="round"/>
</g></g>
<rect x="19.50" y="227.20" width="100.90" height="75.10" fill="none" stroke="#8a8a8a" stroke-width="0.8"/>
<line x1="18.30" y1="235.00" x2="19.50" y2="235.00" stroke="#555" stroke-width="0.5"/>
<text class="t" x="17.70" y="236.10" font-size="3.2" text-anchor="end">−4.25</text>
<line x1="18.30" y1="243.30" x2="19.50" y2="243.30" stroke="#555" stroke-width="0.5"/>
<text class="t" x="17.70" y="244.40" font-size="3.2" text-anchor="end">−4.50</text>
<line x1="18.30" y1="251.60" x2="19.50" y2="251.60" stroke="#555" stroke-width="0.5"/>
<text class="t" x="17.70" y="252.70" font-size="3.2" text-anchor="end">−4.75</text>
<line x1="18.30" y1="259.90" x2="19.50" y2="259.90" stroke="#555" stroke-width="0.5"/>
<text class="t" x="17.70" y="261.00" font-size="3.2" text-anchor="end">−5.00</text>
<line x1="18.30" y1="268.20" x2="19.50" y2="268.20" stroke="#555" stroke-width="0.5"/>
<text class="t" x="17.70" y="269.30" font-size="3.2" text-anchor="end">−5.25</text>
<line x1="18.30" y1="276.50" x2="19.50" y2="276.50" stroke="#555" stroke-width="0.5"/>
<text class="t" x="17.70" y="277.60" font-size="3.2" text-anchor="end">−5.50</text>
<line x1="18.30" y1="284.80" x2="19.50" y2="284.80" stroke="#555" stroke-width="0.5"/>
<text class="t" x="17.70" y="285.90" font-size="3.2" text-anchor="end">−5.75</text>
<line x1="18.30" y1="293.10" x2="19.50" y2="293.10" stroke="#555" stroke-width="0.5"/>
<text class="t" x="17.70" y="294.20" font-size="3.2" text-anchor="end">−6.00</text>
<line x1="18.30" y1="301.40" x2="19.50" y2="301.40" stroke="#555" stroke-width="0.5"/>
<text class="t" x="17.70" y="302.50" font-size="3.2" text-anchor="end">−6.25</text>
<line x1="19.60" y1="302.30" x2="19.60" y2="303.50" stroke="#555" stroke-width="0.5"/>
<text class="t" x="19.60" y="306.70" font-size="3.2" text-anchor="middle">−12.5</text>
<line x1="38.80" y1="302.30" x2="38.80" y2="303.50" stroke="#555" stroke-width="0.5"/>
<text class="t" x="38.80" y="306.70" font-size="3.2" text-anchor="middle">−10.0</text>
<line x1="58.00" y1="302.30" x2="58.00" y2="303.50" stroke="#555" stroke-width="0.5"/>
<text class="t" x="58.00" y="306.70" font-size="3.2" text-anchor="middle">−7.5</text>
<line x1="77.20" y1="302.30" x2="77.20" y2="303.50" stroke="#555" stroke-width="0.5"/>
<text class="t" x="77.20" y="306.70" font-size="3.2" text-anchor="middle">−5.0</text>
<line x1="96.40" y1="302.30" x2="96.40" y2="303.50" stroke="#555" stroke-width="0.5"/>
<text class="t" x="96.40" y="306.70" font-size="3.2" text-anchor="middle">−2.5</text>
<line x1="115.60" y1="302.30" x2="115.60" y2="303.50" stroke="#555" stroke-width="0.5"/>
<text class="t" x="115.60" y="306.70" font-size="3.2" text-anchor="middle">0.0</text>
<text class="t" x="69.95" y="310.50" font-size="3.2" text-anchor="middle">x [m]</text>
<text class="t" font-size="3.2" text-anchor="middle" transform="translate(6.00,264.75) rotate(-90)">y [m]</text>
<line x1="91.70" y1="231.10" x2="97.40" y2="231.10" stroke="#555" stroke-width="0.9"/>
<text class="t l" x="100.00" y="232.25" font-size="3.3">ground truth</text>
<line x1="91.70" y1="235.70" x2="97.40" y2="235.70" stroke="#5a5aff" stroke-width="0.9"/>
<text class="t l" x="100.00" y="236.85" font-size="3.3">ORB-SLAM3</text>
<line x1="91.70" y1="240.30" x2="97.40" y2="240.30" stroke="#ff3030" stroke-width="0.9"/>
<text class="t l" x="100.00" y="241.45" font-size="3.3">difference</text>
<text class="c" x="24.12 28.36 32.60 36.84 41.08 45.33 49.57 53.81 58.05 62.29 66.53 70.77 75.01 79.25 83.49 87.73 91.98 96.22 100.46 104.70 108.94 113.18" y="322.30" font-size="8.6" text-anchor="middle" transform="scale(1,1)">(c)fr3_w_rpy/ORB-SLAM3</text>
</g>
<g>
<clipPath id="cph"><rect x="156.40" y="227.20" width="101.20" height="75.60"/></clipPath>
<g clip-path="url(#cph)"><g transform="translate(156,226) scale(0.189239)">
<polyline points="173.0,225.0 230.0,185.0 269.0,155.0 343.0,126.0 417.0,85.0 469.0,59.0 510.0,33.0" fill="none" stroke="#ff0000" stroke-width="6" stroke-linejoin="round" stroke-linecap="round"/>
<polyline points="243.0,242.0 277.0,178.0 329.0,163.0 380.0,141.0 440.0,96.0 499.0,59.0 510.0,37.0" fill="none" stroke="#ff0000" stroke-width="6" stroke-linejoin="round" stroke-linecap="round"/>
<polyline points="269.9,158.9 285.0,147.8 302.8,142.2 308.7,135.6 331.5,138.3 336.4,128.6 344.9,125.5 354.5,127.8 364.8,112.2 373.8,107.8 372.4,106.1 377.0,114.2 398.8,90.9 408.7,95.4 406.2,92.5 408.4,87.8 418.5,91.2 427.2,89.5 431.3,76.5 450.1,72.9 481.0,57.2 489.8,55.5 494.7,43.1 500.8,33.3" fill="none" stroke="#3a3aff" stroke-width="3.5" stroke-linejoin="miter"/>
<polyline points="329.3,173.0 336.1,155.6 345.8,154.2 367.9,147.6 365.9,140.4 374.3,147.2 392.5,136.4 388.1,145.6 389.0,132.0 399.7,119.2 417.2,119.0 410.2,109.8 427.5,111.3 437.3,104.5 439.7,100.2 440.0,104.7 453.9,85.2 456.4,86.5 470.2,75.2 476.6,73.6 491.4,74.5 504.7,58.9" fill="none" stroke="#ff0000" stroke-width="3.5" stroke-linejoin="miter"/>
<polyline points="338.5,159.2 368.1,139.2 378.9,141.2 418.2,113.2 449.9,99.5 446.0,96.4 438.0,107.9 431.8,115.1" fill="none" stroke="#3a3aff" stroke-width="3" stroke-linejoin="miter"/>
<polyline points="26.0,185.0 92.0,182.0 173.0,225.0" fill="none" stroke="#ff0000" stroke-width="6" stroke-linejoin="round" stroke-linecap="round"/>
<polyline points="26.0,190.0 60.0,230.0 90.0,265.0 173.0,225.0" fill="none" stroke="#ff0000" stroke-width="5" stroke-linejoin="round" stroke-linecap="round"/>
<line x1="30.0" y1="188.0" x2="45.0" y2="212.0" stroke="#ff0000" stroke-width="3.5"/>
<line x1="42.5" y1="187.2" x2="52.8" y2="221.3" stroke="#ff0000" stroke-width="3.5"/>
<line x1="55.1" y1="186.3" x2="60.5" y2="230.6" stroke="#ff0000" stroke-width="3.5"/>
<line x1="67.6" y1="185.5" x2="68.4" y2="239.8" stroke="#ff0000" stroke-width="3.5"/>
<line x1="80.1" y1="184.7" x2="76.4" y2="248.9" stroke="#ff0000" stroke-width="3.5"/>
<line x1="92.6" y1="184.3" x2="84.4" y2="258.0" stroke="#ff0000" stroke-width="3.5"/>
<line x1="104.0" y1="189.7" x2="94.3" y2="259.6" stroke="#ff0000" stroke-width="3.5"/>
<line x1="115.3" y1="195.0" x2="105.6" y2="255.4" stroke="#ff0000" stroke-width="3.5"/>
<line x1="126.7" y1="200.4" x2="117.0" y2="251.1" stroke="#ff0000" stroke-width="3.5"/>
<line x1="137.8" y1="206.2" x2="128.0" y2="246.2" stroke="#ff0000" stroke-width="3.5"/>
<line x1="148.9" y1="212.1" x2="139.0" y2="241.1" stroke="#ff0000" stroke-width="3.5"/>
<line x1="160.0" y1="218.0" x2="150.0" y2="236.0" stroke="#ff0000" stroke-width="3.5"/>
<polyline points="31.9,184.4 48.4,198.1 54.3,205.2 61.2,207.8 86.4,211.4 66.9,208.0 107.3,223.3 93.0,214.9 109.6,210.0 120.3,225.1 121.6,236.2 133.4,211.1 140.6,238.4 160.0,212.5" fill="none" stroke="#3a3aff" stroke-width="3.5" stroke-linejoin="miter"/>
<polygon points="24.0,180.0 45.0,178.0 60.0,200.0 40.0,215.0 28.0,200.0" fill="#ff0000"/>
<polyline points="100.0,262.0 170.0,230.0 230.0,200.0 270.0,175.0" fill="none" stroke="#3a3aff" stroke-width="3.5" stroke-linejoin="round" stroke-linecap="round"/>
<polyline points="173.0,225.0 210.0,232.0 240.0,250.0 270.0,262.0" fill="none" stroke="#ff0000" stroke-width="5" stroke-linejoin="round" stroke-linecap="round"/>
<polyline points="226.1,157.1 244.3,150.0 256.4,174.3 261.2,165.2 256.1,152.2 266.1,169.4 265.9,188.4 263.0,168.0 270.4,169.7 296.5,192.8 273.9,178.0 265.3,180.9 291.3,187.2 300.2,181.6 282.0,181.9 307.7,183.9 302.7,197.2 299.7,184.7 316.3,193.9 296.1,190.8 288.1,195.7 312.8,202.6 307.2,205.2 314.7,241.4 312.0,211.2 308.3,224.0 298.9,246.0 291.2,250.1 295.3,227.5 298.3,222.1 293.0,236.0 320.8,250.2 324.4,238.7 306.2,249.3 295.8,262.8 311.8,257.4 315.5,265.5 286.9,277.5 300.6,257.2 299.4,285.1 301.2,255.0 284.0,265.1 275.9,283.2 282.2,300.6 285.8,269.4 288.7,280.6 268.2,308.2 267.6,287.0 267.2,285.1 258.2,293.4 272.9,269.4 237.6,260.4 267.0,270.5 233.9,258.3 266.5,243.9" fill="none" stroke="#ff0000" stroke-width="5" stroke-linejoin="miter"/>
<polyline points="270.8,166.3 256.0,184.4 265.3,171.3 260.0,184.1 294.8,207.1 262.8,192.4 291.2,204.3 282.3,187.0 287.3,224.0 305.5,203.3 294.3,226.1 303.2,214.4 298.0,205.6 297.1,232.1 297.0,237.7 298.5,265.7 323.0,239.5 309.4,251.8" fill="none" stroke="#3a3aff" stroke-width="3.5" stroke-linejoin="miter"/>
<polygon points="258.0,175.0 280.0,170.0 300.0,200.0 290.0,250.0 270.0,292.0 252.0,260.0 262.0,220.0" fill="#ff0000" fill-opacity="0.85"/>
<ellipse cx="188" cy="322" rx="18" ry="32" fill="#ff0000"/>
<polyline points="174.9,273.4 170.8,260.4 180.5,258.6 174.2,269.5 190.7,260.5 175.3,276.0 179.3,274.6 191.7,276.8 196.4,285.1 192.3,294.0 209.3,286.1 206.0,280.8 199.2,285.2 202.3,306.2 216.9,299.2 210.5,297.7 207.7,324.4 193.7,325.4 191.5,328.1 199.5,342.8 201.1,348.5 198.0,327.4 197.8,339.3 186.9,345.8 199.9,357.9" fill="none" stroke="#ff0000" stroke-width="5" stroke-linejoin="miter"/>
<polyline points="182.9,263.5 183.9,268.5 202.8,286.2 210.2,285.3 216.8,292.6 226.0,293.2 231.6,301.0 244.1,303.6" fill="none" stroke="#3a3aff" stroke-width="3.5" stroke-linejoin="miter"/>
<polyline points="205.0,305.0 232.0,333.0 292.0,362.0 351.0,385.0" fill="none" stroke="#ff0000" stroke-width="6" stroke-linejoin="round" stroke-linecap="round"/>
<polyline points="235.0,330.0 260.0,345.0" fill="none" stroke="#3a3aff" stroke-width="3.5" stroke-linejoin="round" stroke-linecap="round"/>
</g></g>
<rect x="156.40" y="227.20" width="101.20" height="75.60" fill="none" stroke="#8a8a8a" stroke-width="0.8"/>
<line x1="155.20" y1="237.60" x2="156.40" y2="237.60" stroke="#555" stroke-width="0.5"/>
<text class="t" x="154.60" y="238.70" font-size="3.2" text-anchor="end">−2.6</text>
<line x1="155.20" y1="250.90" x2="156.40" y2="250.90" stroke="#555" stroke-width="0.5"/>
<text class="t" x="154.60" y="252.00" font-size="3.2" text-anchor="end">−2.7</text>
<line x1="155.20" y1="264.20" x2="156.40" y2="264.20" stroke="#555" stroke-width="0.5"/>
<text class="t" x="154.60" y="265.30" font-size="3.2" text-anchor="end">−2.8</text>
<line x1="155.20" y1="277.50" x2="156.40" y2="277.50" stroke="#555" stroke-width="0.5"/>
<text class="t" x="154.60" y="278.60" font-size="3.2" text-anchor="end">−2.9</text>
<line x1="155.20" y1="290.80" x2="156.40" y2="290.80" stroke="#555" stroke-width="0.5"/>
<text class="t" x="154.60" y="291.90" font-size="3.2" text-anchor="end">−3.0</text>
<line x1="165.30" y1="302.80" x2="165.30" y2="304.00" stroke="#555" stroke-width="0.5"/>
<text class="t" x="165.30" y="307.20" font-size="3.2" text-anchor="middle">−1.0</text>
<line x1="187.50" y1="302.80" x2="187.50" y2="304.00" stroke="#555" stroke-width="0.5"/>
<text class="t" x="187.50" y="307.20" font-size="3.2" text-anchor="middle">−0.8</text>
<line x1="209.70" y1="302.80" x2="209.70" y2="304.00" stroke="#555" stroke-width="0.5"/>
<text class="t" x="209.70" y="307.20" font-size="3.2" text-anchor="middle">−0.6</text>
<line x1="231.90" y1="302.80" x2="231.90" y2="304.00" stroke="#555" stroke-width="0.5"/>
<text class="t" x="231.90" y="307.20" font-size="3.2" text-anchor="middle">−0.4</text>
<line x1="254.10" y1="302.80" x2="254.10" y2="304.00" stroke="#555" stroke-width="0.5"/>
<text class="t" x="254.10" y="307.20" font-size="3.2" text-anchor="middle">−0.2</text>
<text class="t" x="207.00" y="311.00" font-size="3.2" text-anchor="middle">x [m]</text>
<text class="t" font-size="3.2" text-anchor="middle" transform="translate(142.90,265.00) rotate(-90)">y [m]</text>
<line x1="158.30" y1="230.90" x2="164.00" y2="230.90" stroke="#555" stroke-width="0.9"/>
<text class="t l" x="166.60" y="232.05" font-size="3.3">ground truth</text>
<line x1="158.30" y1="235.50" x2="164.00" y2="235.50" stroke="#5a5aff" stroke-width="0.9"/>
<text class="t l" x="166.60" y="236.65" font-size="3.3">Dyna-SLAM</text>
<line x1="158.30" y1="240.10" x2="164.00" y2="240.10" stroke="#ff3030" stroke-width="0.9"/>
<text class="t l" x="166.60" y="241.25" font-size="3.3">difference</text>
<text class="c" x="162.14 166.41 170.68 174.95 179.23 183.50 187.77 192.05 196.32 200.59 204.86 209.14 213.41 217.68 221.95 226.23 230.50 234.77 239.05 243.32 247.59 251.86" y="322.30" font-size="8.6" text-anchor="middle" transform="scale(1,1)">(h)fr3_w_rpy/Dyna-SLAM</text>
</g>
<g>
<clipPath id="cpm"><rect x="293.40" y="227.50" width="102.00" height="74.80"/></clipPath>
<g clip-path="url(#cpm)"><g transform="translate(293,226) scale(0.189239)">
<polygon points="40.0,26.0 59.0,36.0 62.0,40.0 92.0,112.0 132.0,138.0 171.0,144.0 230.0,164.0 276.0,151.0 348.0,135.0 302.0,187.0 263.0,184.0 217.0,197.0 197.0,210.0 158.0,217.0 92.0,187.0 72.0,178.0 30.0,59.0" fill="#ff0000"/>
<polygon points="158.0,212.0 260.0,236.0 363.0,300.0 451.0,352.0 514.0,388.0 422.0,370.0 363.0,338.0 312.0,319.0 272.0,327.0 246.0,300.0 186.0,234.0" fill="#ff0000"/>
<polyline points="95.0,110.0 130.0,136.0 160.0,142.0" fill="none" stroke="#3a3aff" stroke-width="4" stroke-linejoin="round" stroke-linecap="round"/>
<polyline points="140.0,205.0 160.0,214.0" fill="none" stroke="#3a3aff" stroke-width="4" stroke-linejoin="round" stroke-linecap="round"/>
<polyline points="255.0,315.0 268.0,330.0" fill="none" stroke="#3a3aff" stroke-width="4" stroke-linejoin="round" stroke-linecap="round"/>
<polyline points="410.0,365.0 430.0,372.0" fill="none" stroke="#3a3aff" stroke-width="4" stroke-linejoin="round" stroke-linecap="round"/>
<polyline points="290.0,320.0 310.0,322.0" fill="none" stroke="#3a3aff" stroke-width="3" stroke-linejoin="round" stroke-linecap="round"/>
</g></g>
<rect x="293.40" y="227.50" width="102.00" height="74.80" fill="none" stroke="#8a8a8a" stroke-width="0.8"/>
<line x1="292.20" y1="235.40" x2="293.40" y2="235.40" stroke="#555" stroke-width="0.5"/>
<text class="t" x="291.60" y="236.50" font-size="3.2" text-anchor="end">−0.2</text>
<line x1="292.20" y1="243.80" x2="293.40" y2="243.80" stroke="#555" stroke-width="0.5"/>
<text class="t" x="291.60" y="244.90" font-size="3.2" text-anchor="end">−0.4</text>
<line x1="292.20" y1="252.20" x2="293.40" y2="252.20" stroke="#555" stroke-width="0.5"/>
<text class="t" x="291.60" y="253.30" font-size="3.2" text-anchor="end">−0.6</text>
<line x1="292.20" y1="260.60" x2="293.40" y2="260.60" stroke="#555" stroke-width="0.5"/>
<text class="t" x="291.60" y="261.70" font-size="3.2" text-anchor="end">−0.8</text>
<line x1="292.20" y1="269.00" x2="293.40" y2="269.00" stroke="#555" stroke-width="0.5"/>
<text class="t" x="291.60" y="270.10" font-size="3.2" text-anchor="end">−1.0</text>
<line x1="292.20" y1="277.40" x2="293.40" y2="277.40" stroke="#555" stroke-width="0.5"/>
<text class="t" x="291.60" y="278.50" font-size="3.2" text-anchor="end">−1.2</text>
<line x1="292.20" y1="285.80" x2="293.40" y2="285.80" stroke="#555" stroke-width="0.5"/>
<text class="t" x="291.60" y="286.90" font-size="3.2" text-anchor="end">−1.4</text>
<line x1="292.20" y1="294.20" x2="293.40" y2="294.20" stroke="#555" stroke-width="0.5"/>
<text class="t" x="291.60" y="295.30" font-size="3.2" text-anchor="end">−1.6</text>
<line x1="292.20" y1="302.60" x2="293.40" y2="302.60" stroke="#555" stroke-width="0.5"/>
<text class="t" x="291.60" y="303.70" font-size="3.2" text-anchor="end">−1.8</text>
<line x1="296.10" y1="302.30" x2="296.10" y2="303.50" stroke="#555" stroke-width="0.5"/>
<text class="t" x="296.10" y="306.70" font-size="3.2" text-anchor="middle">−1.2</text>
<line x1="309.37" y1="302.30" x2="309.37" y2="303.50" stroke="#555" stroke-width="0.5"/>
<text class="t" x="309.37" y="306.70" font-size="3.2" text-anchor="middle">−1.0</text>
<line x1="322.64" y1="302.30" x2="322.64" y2="303.50" stroke="#555" stroke-width="0.5"/>
<text class="t" x="322.64" y="306.70" font-size="3.2" text-anchor="middle">−0.8</text>
<line x1="335.91" y1="302.30" x2="335.91" y2="303.50" stroke="#555" stroke-width="0.5"/>
<text class="t" x="335.91" y="306.70" font-size="3.2" text-anchor="middle">−0.6</text>
<line x1="349.18" y1="302.30" x2="349.18" y2="303.50" stroke="#555" stroke-width="0.5"/>
<text class="t" x="349.18" y="306.70" font-size="3.2" text-anchor="middle">−0.4</text>
<line x1="362.45" y1="302.30" x2="362.45" y2="303.50" stroke="#555" stroke-width="0.5"/>
<text class="t" x="362.45" y="306.70" font-size="3.2" text-anchor="middle">−0.2</text>
<line x1="375.72" y1="302.30" x2="375.72" y2="303.50" stroke="#555" stroke-width="0.5"/>
<text class="t" x="375.72" y="306.70" font-size="3.2" text-anchor="middle">0.0</text>
<line x1="388.99" y1="302.30" x2="388.99" y2="303.50" stroke="#555" stroke-width="0.5"/>
<text class="t" x="388.99" y="306.70" font-size="3.2" text-anchor="middle">0.2</text>
<text class="t" x="344.40" y="310.50" font-size="3.2" text-anchor="middle">x [m]</text>
<text class="t" font-size="3.2" text-anchor="middle" transform="translate(279.90,264.90) rotate(-90)">y [m]</text>
<line x1="366.70" y1="231.40" x2="372.40" y2="231.40" stroke="#555" stroke-width="0.9"/>
<text class="t l" x="375.00" y="232.55" font-size="3.3">ground truth</text>
<line x1="366.70" y1="236.00" x2="372.40" y2="236.00" stroke="#5a5aff" stroke-width="0.9"/>
<text class="t l" x="375.00" y="237.15" font-size="3.3">DS-SLAM</text>
<line x1="366.70" y1="240.60" x2="372.40" y2="240.60" stroke="#ff3030" stroke-width="0.9"/>
<text class="t l" x="375.00" y="241.75" font-size="3.3">difference</text>
<text class="c" x="301.75 306.06 310.38 314.69 319.00 323.31 327.62 331.93 336.24 340.55 344.86 349.17 353.48 357.79 362.10 366.41 370.72 375.03 379.34 383.64" y="322.30" font-size="8.6" text-anchor="middle" transform="scale(1,1)">(m)fr3_w_rpy/DS-SLAM</text>
</g>
<g>
<clipPath id="cpr"><rect x="431.50" y="225.60" width="101.30" height="76.70"/></clipPath>
<g clip-path="url(#cpr)"><g transform="translate(431,225) scale(0.189239)">
<polyline points="190.0,225.0 232.0,195.0 277.0,165.0 321.0,128.0 380.0,98.0 440.0,69.0 484.0,43.0 510.0,24.0" fill="none" stroke="#ff0000" stroke-width="6" stroke-linejoin="round" stroke-linecap="round"/>
<polyline points="306.0,187.0 380.0,143.0 440.0,98.0 491.0,54.0 510.0,28.0" fill="none" stroke="#ff0000" stroke-width="6" stroke-linejoin="round" stroke-linecap="round"/>
<polyline points="296.8,192.2 303.5,187.6 322.0,177.6 317.4,170.2 328.8,164.4 353.1,167.5 379.2,142.6 374.1,150.0 386.2,136.4 384.8,134.3 397.3,133.2 411.1,111.6 415.2,116.1 426.4,100.5 446.9,98.3 452.7,84.1 471.9,73.2 472.6,75.3 491.0,56.4 492.8,51.8" fill="none" stroke="#3a3aff" stroke-width="3.5" stroke-linejoin="miter"/>
<polyline points="226.9,198.1 255.9,178.1 269.7,173.0 280.0,158.0 300.3,144.0 318.2,134.9 319.1,127.7 325.8,130.1 345.3,116.7 352.2,110.4 378.1,99.0 403.1,83.0 422.7,83.8 446.6,68.7 462.6,63.1 461.1,54.9 476.6,48.8 485.7,41.4 481.8,46.5 487.0,40.5" fill="none" stroke="#3a3aff" stroke-width="3" stroke-linejoin="miter"/>
<ellipse cx="508" cy="30" rx="7" ry="9" fill="#ff0000"/>
<polyline points="26.0,187.0 87.0,185.0 150.0,205.0 191.0,225.0 243.0,200.0" fill="none" stroke="#ff0000" stroke-width="7" stroke-linejoin="round" stroke-linecap="round"/>
<polygon points="24.0,180.0 60.0,178.0 90.0,182.0 80.0,200.0 40.0,200.0" fill="#ff0000"/>
<polyline points="23.0,190.1 39.8,193.7 51.0,182.2 44.0,200.8 46.6,189.3 60.0,204.1 83.3,184.7 109.9,196.0 105.4,192.0 122.4,197.7 138.2,196.5 136.0,192.3 146.5,217.9 163.2,204.2 163.3,215.7 184.5,210.1 176.9,222.1 189.7,213.4" fill="none" stroke="#ff0000" stroke-width="4" stroke-linejoin="miter"/>
<polyline points="40.0,192.0 60.0,232.0 75.0,195.0 100.0,170.0 125.0,230.0 145.0,283.0 150.0,215.0" fill="none" stroke="#3a3aff" stroke-width="4" stroke-linejoin="round" stroke-linecap="round"/>
<line x1="40.0" y1="195.0" x2="60.0" y2="190.0" stroke="#ff0000" stroke-width="3.5"/>
<line x1="48.7" y1="209.3" x2="67.9" y2="190.8" stroke="#ff0000" stroke-width="3.5"/>
<line x1="57.4" y1="223.7" x2="75.7" y2="191.6" stroke="#ff0000" stroke-width="3.5"/>
<line x1="65.2" y1="217.6" x2="83.6" y2="192.4" stroke="#ff0000" stroke-width="3.5"/>
<line x1="72.7" y1="202.6" x2="91.5" y2="193.1" stroke="#ff0000" stroke-width="3.5"/>
<line x1="83.6" y1="190.1" x2="99.4" y2="193.9" stroke="#ff0000" stroke-width="3.5"/>
<line x1="95.9" y1="178.8" x2="107.0" y2="196.1" stroke="#ff0000" stroke-width="3.5"/>
<line x1="104.6" y1="185.2" x2="114.5" y2="198.4" stroke="#ff0000" stroke-width="3.5"/>
<line x1="111.6" y1="200.4" x2="122.1" y2="200.6" stroke="#ff0000" stroke-width="3.5"/>
<line x1="118.5" y1="215.7" x2="129.7" y2="202.9" stroke="#ff0000" stroke-width="3.5"/>
<line x1="125.4" y1="230.9" x2="137.3" y2="205.2" stroke="#ff0000" stroke-width="3.5"/>
<line x1="131.2" y1="246.6" x2="144.8" y2="207.5" stroke="#ff0000" stroke-width="3.5"/>
<line x1="137.1" y1="262.3" x2="152.4" y2="209.7" stroke="#ff0000" stroke-width="3.5"/>
<line x1="143.0" y1="278.0" x2="160.0" y2="212.0" stroke="#ff0000" stroke-width="3.5"/>
<polyline points="97.0,165.7 103.4,170.5 109.0,198.9 128.9,230.8 137.2,264.6 144.7,289.6 143.6,264.9 150.2,271.8 137.5,243.5 116.7,221.1" fill="none" stroke="#ff0000" stroke-width="4" stroke-linejoin="miter"/>
<polyline points="255.5,182.5 253.0,156.4 254.6,178.0 254.2,176.8 275.9,166.9 263.7,161.8 278.7,159.2 279.3,177.4 283.5,173.3 284.9,144.7 273.1,187.8 296.3,163.3 301.5,170.6 302.5,180.9 281.7,192.9 276.6,176.4 301.8,178.5 297.8,167.5 311.2,153.5 290.5,198.2 315.1,172.8 292.9,186.3 304.7,166.4 336.5,196.5 312.4,211.9 315.7,196.1 340.5,184.2 329.1,184.2 314.5,182.8 344.4,182.3 326.2,177.9 337.5,211.8 322.0,211.2 309.3,211.7 319.2,219.7 342.9,211.8 319.4,240.0 316.9,253.8 324.2,243.6 302.5,236.0 304.1,261.0 291.8,259.8 314.6,241.8 295.4,257.5 301.0,236.5 315.7,268.6 307.2,254.5 286.4,265.5 290.6,269.1 289.2,275.7" fill="none" stroke="#ff0000" stroke-width="5" stroke-linejoin="miter"/>
<polygon points="272.0,168.0 300.0,160.0 328.0,190.0 318.0,255.0 300.0,292.0 285.0,285.0 275.0,240.0" fill="#ff0000" fill-opacity="0.8"/>
<polyline points="243.0,240.0 300.0,250.0 340.0,270.0" fill="none" stroke="#ff0000" stroke-width="4" stroke-linejoin="round" stroke-linecap="round"/>
<polyline points="282.0,193.0 271.4,204.1 265.1,212.2 297.3,211.4 281.7,211.1 306.0,220.0 284.8,222.5 309.7,206.7 320.7,245.1 309.9,214.9 320.3,224.4 333.8,246.8 324.8,234.4 337.3,261.2" fill="none" stroke="#3a3aff" stroke-width="3.5" stroke-linejoin="miter"/>
<ellipse cx="218" cy="315" rx="14" ry="36" fill="#ff0000"/>
<polyline points="211.9,276.5 199.4,258.4 206.4,279.8 208.7,269.8 216.0,269.2 205.4,290.9 219.6,270.9 225.0,281.1 210.2,288.7 214.3,304.3 221.7,300.2 221.6,298.9 223.0,306.1 223.1,307.7 234.3,309.0 220.7,313.3 238.8,324.9 222.5,330.8 229.6,323.1 223.2,331.8 223.0,334.9 229.6,359.4" fill="none" stroke="#ff0000" stroke-width="5" stroke-linejoin="miter"/>
<polyline points="232.9,277.0 236.5,285.4 240.0,277.0 255.2,291.6 266.7,297.7 262.3,309.3 266.4,334.2 263.7,325.4" fill="none" stroke="#3a3aff" stroke-width="3.5" stroke-linejoin="miter"/>
<polyline points="235.0,300.0 306.0,350.0 369.0,376.0" fill="none" stroke="#ff0000" stroke-width="6" stroke-linejoin="round" stroke-linecap="round"/>
<ellipse cx="367" cy="376" rx="8" ry="7" fill="#ff0000"/>
<polyline points="250.0,320.0 280.0,338.0" fill="none" stroke="#3a3aff" stroke-width="3.5" stroke-linejoin="round" stroke-linecap="round"/>
</g></g>
<rect x="431.50" y="225.60" width="101.30" height="76.70" fill="none" stroke="#8a8a8a" stroke-width="0.8"/>
<line x1="430.30" y1="235.40" x2="431.50" y2="235.40" stroke="#555" stroke-width="0.5"/>
<text class="t" x="429.70" y="236.50" font-size="3.2" text-anchor="end">−2.6</text>
<line x1="430.30" y1="249.50" x2="431.50" y2="249.50" stroke="#555" stroke-width="0.5"/>
<text class="t" x="429.70" y="250.60" font-size="3.2" text-anchor="end">−2.7</text>
<line x1="430.30" y1="263.60" x2="431.50" y2="263.60" stroke="#555" stroke-width="0.5"/>
<text class="t" x="429.70" y="264.70" font-size="3.2" text-anchor="end">−2.8</text>
<line x1="430.30" y1="277.70" x2="431.50" y2="277.70" stroke="#555" stroke-width="0.5"/>
<text class="t" x="429.70" y="278.80" font-size="3.2" text-anchor="end">−2.9</text>
<line x1="430.30" y1="291.80" x2="431.50" y2="291.80" stroke="#555" stroke-width="0.5"/>
<text class="t" x="429.70" y="292.90" font-size="3.2" text-anchor="end">−3.0</text>
<line x1="447.40" y1="302.30" x2="447.40" y2="303.50" stroke="#555" stroke-width="0.5"/>
<text class="t" x="447.40" y="306.70" font-size="3.2" text-anchor="middle">−1.0</text>
<line x1="468.30" y1="302.30" x2="468.30" y2="303.50" stroke="#555" stroke-width="0.5"/>
<text class="t" x="468.30" y="306.70" font-size="3.2" text-anchor="middle">−0.8</text>
<line x1="489.20" y1="302.30" x2="489.20" y2="303.50" stroke="#555" stroke-width="0.5"/>
<text class="t" x="489.20" y="306.70" font-size="3.2" text-anchor="middle">−0.6</text>
<line x1="510.10" y1="302.30" x2="510.10" y2="303.50" stroke="#555" stroke-width="0.5"/>
<text class="t" x="510.10" y="306.70" font-size="3.2" text-anchor="middle">−0.4</text>
<line x1="531.00" y1="302.30" x2="531.00" y2="303.50" stroke="#555" stroke-width="0.5"/>
<text class="t" x="531.00" y="306.70" font-size="3.2" text-anchor="middle">−0.2</text>
<text class="t" x="482.15" y="310.50" font-size="3.2" text-anchor="middle">x [m]</text>
<text class="t" font-size="3.2" text-anchor="middle" transform="translate(418.00,263.95) rotate(-90)">y [m]</text>
<line x1="433.40" y1="229.30" x2="439.10" y2="229.30" stroke="#555" stroke-width="0.9"/>
<text class="t l" x="441.70" y="230.45" font-size="3.3">ground truth</text>
<line x1="433.40" y1="233.90" x2="439.10" y2="233.90" stroke="#5a5aff" stroke-width="0.9"/>
<text class="t l" x="441.70" y="235.05" font-size="3.3">SOLO-SLAM</text>
<line x1="433.40" y1="238.50" x2="439.10" y2="238.50" stroke="#ff3030" stroke-width="0.9"/>
<text class="t l" x="441.70" y="239.65" font-size="3.3">difference</text>
<text class="c" x="434.94 439.21 443.48 447.75 452.03 456.30 460.57 464.85 469.12 473.39 477.66 481.94 486.21 490.48 494.75 499.03 503.30 507.57 511.85 516.12 520.39 524.66" y="321.60" font-size="8.6" text-anchor="middle" transform="scale(1,1)">(r)fr3_w_rpy/SOLO-SLAM</text>
</g>
<g>
<clipPath id="cpd"><rect x="19.50" y="338.40" width="100.90" height="75.00"/></clipPath>
<g clip-path="url(#cpd)"><g transform="translate(19,337) scale(0.189239)">
<polygon points="24.0,25.0 54.0,69.0 78.0,108.0 93.0,133.0 108.0,158.0 127.0,182.0 137.0,194.0 200.0,225.0 236.0,251.0 231.0,272.0 189.0,251.0 137.0,218.0 122.0,205.0 88.0,180.0 64.0,155.0 54.0,123.0 42.0,98.0 32.0,64.0" fill="#ff0000"/>
<polyline points="58.0,146.0 100.0,182.0 147.0,212.0" fill="none" stroke="#3a3aff" stroke-width="3" stroke-linejoin="round" stroke-linecap="round"/>
<polygon points="218.0,130.0 262.0,132.0 267.0,215.0 200.0,222.0 210.0,173.0" fill="#ff3838"/>
<line x1="214.0" y1="140.0" x2="262.0" y2="140.0" stroke="#ff0000" stroke-width="5"/>
<line x1="213.1" y1="148.6" x2="262.4" y2="148.6" stroke="#ff0000" stroke-width="5"/>
<line x1="212.3" y1="157.2" x2="262.9" y2="157.1" stroke="#ff0000" stroke-width="5"/>
<line x1="211.4" y1="165.8" x2="263.3" y2="165.7" stroke="#ff0000" stroke-width="5"/>
<line x1="210.6" y1="174.5" x2="263.7" y2="174.3" stroke="#ff0000" stroke-width="5"/>
<line x1="209.4" y1="183.0" x2="264.1" y2="182.9" stroke="#ff0000" stroke-width="5"/>
<line x1="207.7" y1="191.5" x2="264.6" y2="191.4" stroke="#ff0000" stroke-width="5"/>
<line x1="206.0" y1="200.0" x2="265.0" y2="200.0" stroke="#ff0000" stroke-width="5"/>
<polygon points="262.0,205.0 329.0,189.0 340.0,195.0 293.0,246.0 270.0,252.0" fill="#ff0000"/>
<polygon points="270.0,246.0 356.0,241.0 402.0,228.0 449.0,229.0 445.0,244.0 404.0,244.0 356.0,255.0 278.0,262.0" fill="#ff0000"/>
<polygon points="200.0,218.0 267.0,212.0 272.0,250.0 285.0,262.0 285.0,320.0 252.0,320.0 231.0,272.0 236.0,251.0" fill="#ff0000"/>
<polygon points="449.0,234.0 494.0,266.0 510.0,298.0 507.0,324.0 475.0,357.0 417.0,376.0 384.0,383.0 339.0,376.0 306.0,331.0 274.0,318.0 287.0,318.0 404.0,305.0 430.0,260.0" fill="#ff8c8c"/>
<line x1="287.0" y1="318.0" x2="339.0" y2="376.0" stroke="#ff0000" stroke-width="4"/>
<line x1="293.1" y1="317.4" x2="346.4" y2="377.1" stroke="#ff0000" stroke-width="4"/>
<line x1="299.1" y1="316.9" x2="353.8" y2="378.3" stroke="#ff0000" stroke-width="4"/>
<line x1="305.2" y1="316.3" x2="361.1" y2="379.4" stroke="#ff0000" stroke-width="4"/>
<line x1="311.2" y1="315.7" x2="368.5" y2="380.6" stroke="#ff0000" stroke-width="4"/>
<line x1="317.3" y1="315.2" x2="375.9" y2="381.7" stroke="#ff0000" stroke-width="4"/>
<line x1="323.3" y1="314.6" x2="383.3" y2="382.9" stroke="#ff0000" stroke-width="4"/>
<line x1="329.4" y1="314.1" x2="390.5" y2="381.4" stroke="#ff0000" stroke-width="4"/>
<line x1="335.4" y1="313.3" x2="397.8" y2="379.7" stroke="#ff0000" stroke-width="4"/>
<line x1="341.4" y1="312.5" x2="405.1" y2="378.0" stroke="#ff0000" stroke-width="4"/>
<line x1="347.5" y1="311.7" x2="412.3" y2="376.2" stroke="#ff0000" stroke-width="4"/>
<line x1="353.5" y1="310.9" x2="419.6" y2="374.5" stroke="#ff0000" stroke-width="4"/>
<line x1="359.5" y1="310.1" x2="426.8" y2="372.8" stroke="#ff0000" stroke-width="4"/>
<line x1="365.5" y1="309.3" x2="434.0" y2="370.7" stroke="#ff0000" stroke-width="4"/>
<line x1="371.6" y1="308.5" x2="441.1" y2="368.3" stroke="#ff0000" stroke-width="4"/>
<line x1="377.6" y1="307.7" x2="448.2" y2="365.9" stroke="#ff0000" stroke-width="4"/>
<line x1="383.6" y1="307.1" x2="455.2" y2="363.6" stroke="#ff0000" stroke-width="4"/>
<line x1="389.7" y1="306.5" x2="462.3" y2="361.2" stroke="#ff0000" stroke-width="4"/>
<line x1="395.7" y1="305.9" x2="469.4" y2="358.9" stroke="#ff0000" stroke-width="4"/>
<line x1="401.8" y1="305.2" x2="476.1" y2="355.8" stroke="#ff0000" stroke-width="4"/>
<line x1="406.3" y1="301.9" x2="481.1" y2="350.4" stroke="#ff0000" stroke-width="4"/>
<line x1="409.8" y1="297.0" x2="486.2" y2="344.9" stroke="#ff0000" stroke-width="4"/>
<line x1="413.4" y1="292.0" x2="491.3" y2="339.4" stroke="#ff0000" stroke-width="4"/>
<line x1="417.0" y1="287.1" x2="496.4" y2="333.9" stroke="#ff0000" stroke-width="4"/>
<line x1="420.4" y1="282.1" x2="500.6" y2="328.0" stroke="#ff0000" stroke-width="4"/>
<line x1="422.8" y1="276.5" x2="502.9" y2="320.9" stroke="#ff0000" stroke-width="4"/>
<line x1="425.2" y1="271.0" x2="505.1" y2="313.7" stroke="#ff0000" stroke-width="4"/>
<line x1="427.7" y1="265.4" x2="507.3" y2="306.6" stroke="#ff0000" stroke-width="4"/>
<line x1="430.1" y1="259.8" x2="509.5" y2="299.5" stroke="#ff0000" stroke-width="4"/>
<line x1="433.9" y1="255.1" x2="507.4" y2="292.7" stroke="#ff0000" stroke-width="4"/>
<line x1="437.7" y1="250.3" x2="504.0" y2="286.0" stroke="#ff0000" stroke-width="4"/>
<line x1="441.5" y1="245.5" x2="500.7" y2="279.4" stroke="#ff0000" stroke-width="4"/>
<line x1="445.2" y1="240.8" x2="497.3" y2="272.7" stroke="#ff0000" stroke-width="4"/>
<line x1="449.0" y1="236.0" x2="494.0" y2="266.0" stroke="#ff0000" stroke-width="4"/>
<polyline points="494.0,266.0 510.0,298.0 507.0,324.0" fill="none" stroke="#3a3aff" stroke-width="4" stroke-linejoin="round" stroke-linecap="round"/>
<polyline points="384.0,383.0 417.0,376.0" fill="none" stroke="#3a3aff" stroke-width="4" stroke-linejoin="round" stroke-linecap="round"/>
<polyline points="214.0,140.0 208.0,200.0" fill="none" stroke="#3a3aff" stroke-width="3" stroke-linejoin="round" stroke-linecap="round"/>
<polyline points="320.0,236.0 332.0,212.0" fill="none" stroke="#3a3aff" stroke-width="4" stroke-linejoin="round" stroke-linecap="round"/>
<polyline points="405.0,232.0 418.0,240.0" fill="none" stroke="#3a3aff" stroke-width="4" stroke-linejoin="round" stroke-linecap="round"/>
</g></g>
<rect x="19.50" y="338.40" width="100.90" height="75.00" fill="none" stroke="#8a8a8a" stroke-width="0.8"/>
<line x1="18.30" y1="344.80" x2="19.50" y2="344.80" stroke="#555" stroke-width="0.5"/>
<text class="t" x="17.70" y="345.90" font-size="3.2" text-anchor="end">−1.8</text>
<line x1="18.30" y1="354.50" x2="19.50" y2="354.50" stroke="#555" stroke-width="0.5"/>
<text class="t" x="17.70" y="355.60" font-size="3.2" text-anchor="end">−2.0</text>
<line x1="18.30" y1="364.20" x2="19.50" y2="364.20" stroke="#555" stroke-width="0.5"/>
<text class="t" x="17.70" y="365.30" font-size="3.2" text-anchor="end">−2.2</text>
<line x1="18.30" y1="373.90" x2="19.50" y2="373.90" stroke="#555" stroke-width="0.5"/>
<text class="t" x="17.70" y="375.00" font-size="3.2" text-anchor="end">−2.4</text>
<line x1="18.30" y1="383.60" x2="19.50" y2="383.60" stroke="#555" stroke-width="0.5"/>
<text class="t" x="17.70" y="384.70" font-size="3.2" text-anchor="end">−2.6</text>
<line x1="18.30" y1="393.30" x2="19.50" y2="393.30" stroke="#555" stroke-width="0.5"/>
<text class="t" x="17.70" y="394.40" font-size="3.2" text-anchor="end">−2.8</text>
<line x1="18.30" y1="403.00" x2="19.50" y2="403.00" stroke="#555" stroke-width="0.5"/>
<text class="t" x="17.70" y="404.10" font-size="3.2" text-anchor="end">−3.0</text>
<line x1="18.30" y1="412.70" x2="19.50" y2="412.70" stroke="#555" stroke-width="0.5"/>
<text class="t" x="17.70" y="413.80" font-size="3.2" text-anchor="end">−3.2</text>
<line x1="21.10" y1="413.40" x2="21.10" y2="414.60" stroke="#555" stroke-width="0.5"/>
<text class="t" x="21.10" y="417.80" font-size="3.2" text-anchor="middle">−2.0</text>
<line x1="39.90" y1="413.40" x2="39.90" y2="414.60" stroke="#555" stroke-width="0.5"/>
<text class="t" x="39.90" y="417.80" font-size="3.2" text-anchor="middle">−1.5</text>
<line x1="58.70" y1="413.40" x2="58.70" y2="414.60" stroke="#555" stroke-width="0.5"/>
<text class="t" x="58.70" y="417.80" font-size="3.2" text-anchor="middle">−1.0</text>
<line x1="77.50" y1="413.40" x2="77.50" y2="414.60" stroke="#555" stroke-width="0.5"/>
<text class="t" x="77.50" y="417.80" font-size="3.2" text-anchor="middle">−0.5</text>
<line x1="96.30" y1="413.40" x2="96.30" y2="414.60" stroke="#555" stroke-width="0.5"/>
<text class="t" x="96.30" y="417.80" font-size="3.2" text-anchor="middle">0.0</text>
<line x1="115.10" y1="413.40" x2="115.10" y2="414.60" stroke="#555" stroke-width="0.5"/>
<text class="t" x="115.10" y="417.80" font-size="3.2" text-anchor="middle">0.5</text>
<text class="t" x="69.95" y="421.60" font-size="3.2" text-anchor="middle">x [m]</text>
<text class="t" font-size="3.2" text-anchor="middle" transform="translate(6.00,375.90) rotate(-90)">y [m]</text>
<line x1="91.70" y1="342.30" x2="97.40" y2="342.30" stroke="#555" stroke-width="0.9"/>
<text class="t l" x="100.00" y="343.45" font-size="3.3">ground truth</text>
<line x1="91.70" y1="346.90" x2="97.40" y2="346.90" stroke="#5a5aff" stroke-width="0.9"/>
<text class="t l" x="100.00" y="348.05" font-size="3.3">ORB-SLAM3</text>
<line x1="91.70" y1="351.50" x2="97.40" y2="351.50" stroke="#ff3030" stroke-width="0.9"/>
<text class="t l" x="100.00" y="352.65" font-size="3.3">difference</text>
<text class="c" x="20.95 25.26 29.56 33.87 38.17 42.47 46.78 51.08 55.39 59.69 64.00 68.30 72.60 76.91 81.21 85.52 89.82 94.13 98.43 102.73 107.04 111.34 115.65" y="433.00" font-size="8.6" text-anchor="middle" transform="scale(1,1)">(d)fr3_w_half/ORB-SLAM3</text>
</g>
<g>
<clipPath id="cpi"><rect x="156.50" y="338.60" width="101.10" height="74.80"/></clipPath>
<g clip-path="url(#cpi)"><g transform="translate(156,337) scale(0.189239)">
<polyline points="25.0,25.0 50.0,90.0 80.0,150.0 110.0,185.0 140.0,200.0 180.0,215.0 220.0,235.0 250.0,250.0 280.0,262.0" fill="none" stroke="#e8143c" stroke-width="8.5" stroke-linejoin="round" stroke-linecap="round"/>
<polyline points="110.0,190.0 140.0,230.0 170.0,255.0 220.0,262.0 250.0,262.0" fill="none" stroke="#e8143c" stroke-width="7" stroke-linejoin="round" stroke-linecap="round"/>
<polyline points="230.0,262.0 290.0,255.0 350.0,250.0 420.0,230.0 470.0,215.0 505.0,215.0 510.0,230.0" fill="none" stroke="#e8143c" stroke-width="8.5" stroke-linejoin="round" stroke-linecap="round"/>
<polyline points="505.0,230.0 490.0,270.0 460.0,300.0 440.0,320.0 420.0,350.0 390.0,370.0 340.0,380.0 300.0,375.0 270.0,345.0 240.0,300.0 220.0,270.0" fill="none" stroke="#e8143c" stroke-width="8.5" stroke-linejoin="round" stroke-linecap="round"/>
<polyline points="255.0,60.0 260.0,180.0 265.0,260.0 270.0,300.0" fill="none" stroke="#e8143c" stroke-width="7" stroke-linejoin="round" stroke-linecap="round"/>
<polyline points="250.0,60.0 255.0,180.0 258.0,260.0" fill="none" stroke="#e8143c" stroke-width="4" stroke-linejoin="round" stroke-linecap="round"/>
<polyline points="225.1,239.3 241.4,235.1 254.4,235.5 245.9,260.7 246.0,278.5 238.5,285.3 235.8,291.1 226.6,282.5 224.6,268.8 239.7,270.4 251.7,264.7 248.3,282.2 235.8,293.1 225.9,299.2" fill="none" stroke="#e8143c" stroke-width="5" stroke-linejoin="miter"/>
<polyline points="486.4,219.9 492.9,232.2 498.8,237.9 500.2,239.1 505.4,249.4 504.9,253.5 500.2,268.0 494.1,267.2 491.9,276.7 489.3,284.8 482.0,286.8 479.5,296.6 474.7,303.4 469.3,305.8 458.8,311.5" fill="none" stroke="#3a3aff" stroke-width="3" stroke-linejoin="miter"/>
<polyline points="125.0,200.0 130.0,240.0" fill="none" stroke="#3a3aff" stroke-width="4" stroke-linejoin="round" stroke-linecap="round"/>
<polyline points="255.0,120.0 258.0,150.0" fill="none" stroke="#3a3aff" stroke-width="4" stroke-linejoin="round" stroke-linecap="round"/>
</g></g>
<rect x="156.50" y="338.60" width="101.10" height="74.80" fill="none" stroke="#8a8a8a" stroke-width="0.8"/>
<line x1="155.30" y1="350.50" x2="156.50" y2="350.50" stroke="#555" stroke-width="0.5"/>
<text class="t" x="154.70" y="351.60" font-size="3.2" text-anchor="end">−2.2</text>
<line x1="155.30" y1="366.70" x2="156.50" y2="366.70" stroke="#555" stroke-width="0.5"/>
<text class="t" x="154.70" y="367.80" font-size="3.2" text-anchor="end">−2.4</text>
<line x1="155.30" y1="382.90" x2="156.50" y2="382.90" stroke="#555" stroke-width="0.5"/>
<text class="t" x="154.70" y="384.00" font-size="3.2" text-anchor="end">−2.6</text>
<line x1="155.30" y1="399.10" x2="156.50" y2="399.10" stroke="#555" stroke-width="0.5"/>
<text class="t" x="154.70" y="400.20" font-size="3.2" text-anchor="end">−2.8</text>
<line x1="154.10" y1="413.40" x2="154.10" y2="414.60" stroke="#555" stroke-width="0.5"/>
<text class="t" x="154.10" y="417.80" font-size="3.2" text-anchor="middle">−1.75</text>
<line x1="166.85" y1="413.40" x2="166.85" y2="414.60" stroke="#555" stroke-width="0.5"/>
<text class="t" x="166.85" y="417.80" font-size="3.2" text-anchor="middle">−1.50</text>
<line x1="179.60" y1="413.40" x2="179.60" y2="414.60" stroke="#555" stroke-width="0.5"/>
<text class="t" x="179.60" y="417.80" font-size="3.2" text-anchor="middle">−1.25</text>
<line x1="192.35" y1="413.40" x2="192.35" y2="414.60" stroke="#555" stroke-width="0.5"/>
<text class="t" x="192.35" y="417.80" font-size="3.2" text-anchor="middle">−1.00</text>
<line x1="205.10" y1="413.40" x2="205.10" y2="414.60" stroke="#555" stroke-width="0.5"/>
<text class="t" x="205.10" y="417.80" font-size="3.2" text-anchor="middle">−0.75</text>
<line x1="217.85" y1="413.40" x2="217.85" y2="414.60" stroke="#555" stroke-width="0.5"/>
<text class="t" x="217.85" y="417.80" font-size="3.2" text-anchor="middle">−0.50</text>
<line x1="230.60" y1="413.40" x2="230.60" y2="414.60" stroke="#555" stroke-width="0.5"/>
<text class="t" x="230.60" y="417.80" font-size="3.2" text-anchor="middle">−0.25</text>
<line x1="243.35" y1="413.40" x2="243.35" y2="414.60" stroke="#555" stroke-width="0.5"/>
<text class="t" x="243.35" y="417.80" font-size="3.2" text-anchor="middle">0.00</text>
<line x1="256.10" y1="413.40" x2="256.10" y2="414.60" stroke="#555" stroke-width="0.5"/>
<text class="t" x="256.10" y="417.80" font-size="3.2" text-anchor="middle">0.25</text>
<text class="t" x="207.05" y="421.60" font-size="3.2" text-anchor="middle">x [m]</text>
<text class="t" font-size="3.2" text-anchor="middle" transform="translate(143.00,376.00) rotate(-90)">y [m]</text>
<line x1="228.90" y1="342.50" x2="234.60" y2="342.50" stroke="#555" stroke-width="0.9"/>
<text class="t l" x="237.20" y="343.65" font-size="3.3">ground truth</text>
<line x1="228.90" y1="347.10" x2="234.60" y2="347.10" stroke="#5a5aff" stroke-width="0.9"/>
<text class="t l" x="237.20" y="348.25" font-size="3.3">Dyna-SLAM</text>
<line x1="228.90" y1="351.70" x2="234.60" y2="351.70" stroke="#ff3030" stroke-width="0.9"/>
<text class="t l" x="237.20" y="352.85" font-size="3.3">difference</text>
<text class="c" x="160.14 164.43 168.72 173.00 177.29 181.58 185.87 190.15 194.44 198.73 203.01 207.30 211.59 215.87 220.16 224.45 228.73 233.02 237.31 241.60 245.88 250.17 254.46" y="433.00" font-size="8.6" text-anchor="middle" transform="scale(1,1)">(i)fr3_w_half/Dyna-SLAM</text>
</g>
<g>
<clipPath id="cpn"><rect x="293.50" y="338.60" width="101.90" height="74.80"/></clipPath>
<g clip-path="url(#cpn)"><g transform="translate(293,337) scale(0.189239)">
<polyline points="30.0,25.0 42.0,58.0 55.0,90.0 70.0,122.0 85.0,150.0 98.0,168.0 116.0,182.0 160.0,201.0 200.0,220.0 240.0,240.0 270.0,262.0" fill="none" stroke="#e8143c" stroke-width="8.5" stroke-linejoin="round" stroke-linecap="round"/>
<polyline points="80.0,170.0 130.0,210.0 170.0,245.0 230.0,262.0" fill="none" stroke="#e8143c" stroke-width="7" stroke-linejoin="round" stroke-linecap="round"/>
<polyline points="240.0,262.0 300.0,250.0 380.0,240.0 450.0,220.0 500.0,210.0 515.0,225.0" fill="none" stroke="#e8143c" stroke-width="8.5" stroke-linejoin="round" stroke-linecap="round"/>
<polyline points="510.0,225.0 490.0,270.0 460.0,300.0 430.0,340.0 400.0,370.0 340.0,380.0 300.0,370.0 260.0,330.0 230.0,290.0" fill="none" stroke="#e8143c" stroke-width="8.5" stroke-linejoin="round" stroke-linecap="round"/>
<polyline points="262.0,60.0 265.0,180.0 272.0,290.0" fill="none" stroke="#e8143c" stroke-width="7" stroke-linejoin="round" stroke-linecap="round"/>
<polyline points="218.3,234.8 243.4,231.5 256.3,246.4 250.6,255.9 249.5,267.9 243.6,285.5 238.7,304.4 228.8,286.3 232.1,260.9 240.2,261.6 247.9,264.2 251.1,283.2 237.7,291.6 234.5,305.9" fill="none" stroke="#e8143c" stroke-width="5" stroke-linejoin="miter"/>
<polyline points="499.2,220.6 503.2,228.6 508.2,240.2 509.5,246.4 510.1,250.6 508.6,262.9 501.8,266.3 492.4,275.6 494.0,280.3 485.1,286.8 485.3,289.6 479.1,302.4" fill="none" stroke="#3a3aff" stroke-width="3" stroke-linejoin="miter"/>
<polyline points="130.0,220.0 140.0,240.0" fill="none" stroke="#3a3aff" stroke-width="4" stroke-linejoin="round" stroke-linecap="round"/>
</g></g>
<rect x="293.50" y="338.60" width="101.90" height="74.80" fill="none" stroke="#8a8a8a" stroke-width="0.8"/>
<line x1="292.30" y1="351.20" x2="293.50" y2="351.20" stroke="#555" stroke-width="0.5"/>
<text class="t" x="291.70" y="352.30" font-size="3.2" text-anchor="end">−2.2</text>
<line x1="292.30" y1="367.05" x2="293.50" y2="367.05" stroke="#555" stroke-width="0.5"/>
<text class="t" x="291.70" y="368.15" font-size="3.2" text-anchor="end">−2.4</text>
<line x1="292.30" y1="382.90" x2="293.50" y2="382.90" stroke="#555" stroke-width="0.5"/>
<text class="t" x="291.70" y="384.00" font-size="3.2" text-anchor="end">−2.6</text>
<line x1="292.30" y1="398.75" x2="293.50" y2="398.75" stroke="#555" stroke-width="0.5"/>
<text class="t" x="291.70" y="399.85" font-size="3.2" text-anchor="end">−2.8</text>
<line x1="294.10" y1="413.40" x2="294.10" y2="414.60" stroke="#555" stroke-width="0.5"/>
<text class="t" x="294.10" y="417.80" font-size="3.2" text-anchor="middle">−1.75</text>
<line x1="306.20" y1="413.40" x2="306.20" y2="414.60" stroke="#555" stroke-width="0.5"/>
<text class="t" x="306.20" y="417.80" font-size="3.2" text-anchor="middle">−1.50</text>
<line x1="318.30" y1="413.40" x2="318.30" y2="414.60" stroke="#555" stroke-width="0.5"/>
<text class="t" x="318.30" y="417.80" font-size="3.2" text-anchor="middle">−1.25</text>
<line x1="330.40" y1="413.40" x2="330.40" y2="414.60" stroke="#555" stroke-width="0.5"/>
<text class="t" x="330.40" y="417.80" font-size="3.2" text-anchor="middle">−1.00</text>
<line x1="342.50" y1="413.40" x2="342.50" y2="414.60" stroke="#555" stroke-width="0.5"/>
<text class="t" x="342.50" y="417.80" font-size="3.2" text-anchor="middle">−0.75</text>
<line x1="354.60" y1="413.40" x2="354.60" y2="414.60" stroke="#555" stroke-width="0.5"/>
<text class="t" x="354.60" y="417.80" font-size="3.2" text-anchor="middle">−0.50</text>
<line x1="366.70" y1="413.40" x2="366.70" y2="414.60" stroke="#555" stroke-width="0.5"/>
<text class="t" x="366.70" y="417.80" font-size="3.2" text-anchor="middle">−0.25</text>
<line x1="378.80" y1="413.40" x2="378.80" y2="414.60" stroke="#555" stroke-width="0.5"/>
<text class="t" x="378.80" y="417.80" font-size="3.2" text-anchor="middle">0.00</text>
<line x1="390.90" y1="413.40" x2="390.90" y2="414.60" stroke="#555" stroke-width="0.5"/>
<text class="t" x="390.90" y="417.80" font-size="3.2" text-anchor="middle">0.25</text>
<text class="t" x="344.45" y="421.60" font-size="3.2" text-anchor="middle">x [m]</text>
<text class="t" font-size="3.2" text-anchor="middle" transform="translate(280.00,376.00) rotate(-90)">y [m]</text>
<line x1="366.70" y1="342.50" x2="372.40" y2="342.50" stroke="#555" stroke-width="0.9"/>
<text class="t l" x="375.00" y="343.65" font-size="3.3">ground truth</text>
<line x1="366.70" y1="347.10" x2="372.40" y2="347.10" stroke="#5a5aff" stroke-width="0.9"/>
<text class="t l" x="375.00" y="348.25" font-size="3.3">DS-SLAM</text>
<line x1="366.70" y1="351.70" x2="372.40" y2="351.70" stroke="#ff3030" stroke-width="0.9"/>
<text class="t l" x="375.00" y="352.85" font-size="3.3">difference</text>
<text class="c" x="299.75 304.04 308.34 312.63 316.93 321.22 325.52 329.81 334.11 338.40 342.70 347.00 351.29 355.59 359.88 364.18 368.47 372.77 377.06 381.36 385.65" y="433.00" font-size="8.6" text-anchor="middle" transform="scale(1,1)">(n)fr3_w_half/DS-SLAM</text>
</g>
<g>
<clipPath id="cps"><rect x="431.50" y="336.40" width="101.30" height="79.00"/></clipPath>
<g clip-path="url(#cps)"><g transform="translate(431,337) scale(0.189239)">
<polyline points="25.0,15.0 50.0,80.0 80.0,140.0 100.0,180.0 140.0,200.0 180.0,215.0 220.0,240.0 260.0,262.0" fill="none" stroke="#e8143c" stroke-width="8.5" stroke-linejoin="round" stroke-linecap="round"/>
<polyline points="100.0,180.0 130.0,225.0 160.0,255.0 220.0,262.0" fill="none" stroke="#e8143c" stroke-width="7" stroke-linejoin="round" stroke-linecap="round"/>
<polyline points="230.0,262.0 300.0,258.0 380.0,245.0 440.0,225.0 490.0,212.0 510.0,215.0" fill="none" stroke="#e8143c" stroke-width="8.5" stroke-linejoin="round" stroke-linecap="round"/>
<polyline points="510.0,215.0 495.0,250.0 470.0,290.0 440.0,330.0 420.0,360.0 380.0,380.0 320.0,385.0 290.0,375.0 250.0,330.0 220.0,290.0" fill="none" stroke="#e8143c" stroke-width="8.5" stroke-linejoin="round" stroke-linecap="round"/>
<polyline points="252.0,45.0 255.0,150.0 262.0,260.0 268.0,280.0" fill="none" stroke="#e8143c" stroke-width="7" stroke-linejoin="round" stroke-linecap="round"/>
<polyline points="258.0,45.0 250.0,180.0 255.0,260.0" fill="none" stroke="#e8143c" stroke-width="5" stroke-linejoin="round" stroke-linecap="round"/>
<polyline points="216.3,235.1 238.7,243.5 238.6,245.1 232.6,254.5 231.9,278.4 228.7,299.3 224.5,303.3 222.3,319.8 222.7,299.0 218.1,285.6 215.3,262.7 221.3,261.8 230.0,279.3 244.1,287.2 236.7,295.6 218.1,308.8" fill="none" stroke="#e8143c" stroke-width="5" stroke-linejoin="miter"/>
<polyline points="491.5,221.2 494.4,230.3 501.5,235.2 504.4,245.2 498.8,252.7 499.6,259.7 497.2,268.9 487.2,270.9 479.8,283.8 480.4,288.9 473.0,294.9 465.5,302.0 458.7,309.0 457.4,315.6 447.5,315.9" fill="none" stroke="#3a3aff" stroke-width="3" stroke-linejoin="miter"/>
<polyline points="250.0,140.0 252.0,180.0" fill="none" stroke="#3a3aff" stroke-width="4" stroke-linejoin="round" stroke-linecap="round"/>
<polyline points="130.0,225.0 135.0,260.0" fill="none" stroke="#3a3aff" stroke-width="4" stroke-linejoin="round" stroke-linecap="round"/>
</g></g>
<rect x="431.50" y="336.40" width="101.30" height="79.00" fill="none" stroke="#8a8a8a" stroke-width="0.8"/>
<line x1="430.30" y1="349.70" x2="431.50" y2="349.70" stroke="#555" stroke-width="0.5"/>
<text class="t" x="429.70" y="350.80" font-size="3.2" text-anchor="end">−2.2</text>
<line x1="430.30" y1="366.70" x2="431.50" y2="366.70" stroke="#555" stroke-width="0.5"/>
<text class="t" x="429.70" y="367.80" font-size="3.2" text-anchor="end">−2.4</text>
<line x1="430.30" y1="383.70" x2="431.50" y2="383.70" stroke="#555" stroke-width="0.5"/>
<text class="t" x="429.70" y="384.80" font-size="3.2" text-anchor="end">−2.6</text>
<line x1="430.30" y1="400.70" x2="431.50" y2="400.70" stroke="#555" stroke-width="0.5"/>
<text class="t" x="429.70" y="401.80" font-size="3.2" text-anchor="end">−2.8</text>
<line x1="443.30" y1="415.40" x2="443.30" y2="416.60" stroke="#555" stroke-width="0.5"/>
<text class="t" x="443.30" y="419.80" font-size="3.2" text-anchor="middle">−1.50</text>
<line x1="455.90" y1="415.40" x2="455.90" y2="416.60" stroke="#555" stroke-width="0.5"/>
<text class="t" x="455.90" y="419.80" font-size="3.2" text-anchor="middle">−1.25</text>
<line x1="468.50" y1="415.40" x2="468.50" y2="416.60" stroke="#555" stroke-width="0.5"/>
<text class="t" x="468.50" y="419.80" font-size="3.2" text-anchor="middle">−1.00</text>
<line x1="481.10" y1="415.40" x2="481.10" y2="416.60" stroke="#555" stroke-width="0.5"/>
<text class="t" x="481.10" y="419.80" font-size="3.2" text-anchor="middle">−0.75</text>
<line x1="493.70" y1="415.40" x2="493.70" y2="416.60" stroke="#555" stroke-width="0.5"/>
<text class="t" x="493.70" y="419.80" font-size="3.2" text-anchor="middle">−0.50</text>
<line x1="506.30" y1="415.40" x2="506.30" y2="416.60" stroke="#555" stroke-width="0.5"/>
<text class="t" x="506.30" y="419.80" font-size="3.2" text-anchor="middle">−0.25</text>
<line x1="518.90" y1="415.40" x2="518.90" y2="416.60" stroke="#555" stroke-width="0.5"/>
<text class="t" x="518.90" y="419.80" font-size="3.2" text-anchor="middle">0.00</text>
<line x1="531.50" y1="415.40" x2="531.50" y2="416.60" stroke="#555" stroke-width="0.5"/>
<text class="t" x="531.50" y="419.80" font-size="3.2" text-anchor="middle">0.25</text>
<text class="t" x="482.15" y="423.60" font-size="3.2" text-anchor="middle">x [m]</text>
<text class="t" font-size="3.2" text-anchor="middle" transform="translate(418.00,375.90) rotate(-90)">y [m]</text>
<line x1="504.10" y1="340.30" x2="509.80" y2="340.30" stroke="#555" stroke-width="0.9"/>
<text class="t l" x="512.40" y="341.45" font-size="3.3">ground truth</text>
<line x1="504.10" y1="344.90" x2="509.80" y2="344.90" stroke="#5a5aff" stroke-width="0.9"/>
<text class="t l" x="512.40" y="346.05" font-size="3.3">SOLO-SLAM</text>
<line x1="504.10" y1="349.50" x2="509.80" y2="349.50" stroke="#ff3030" stroke-width="0.9"/>
<text class="t l" x="512.40" y="350.65" font-size="3.3">difference</text>
<text class="c" x="432.44 436.71 440.98 445.26 449.53 453.81 458.08 462.35 466.63 470.90 475.18 479.45 483.72 488.00 492.27 496.55 500.82 505.09 509.37 513.64 517.92 522.19 526.46" y="435.50" font-size="8.6" text-anchor="middle" transform="scale(1,1)">(s)fr3_w_half/SOLO-SLAM</text>
</g>
<g>
<clipPath id="cpe"><rect x="19.50" y="448.90" width="101.10" height="75.10"/></clipPath>
<g clip-path="url(#cpe)"><g transform="translate(19,448) scale(0.189239)">
<polyline points="28.0,25.0 50.0,60.0 75.0,97.0 110.0,112.0 150.0,135.0 185.0,158.0" fill="none" stroke="#ee1030" stroke-width="13" stroke-linejoin="round" stroke-linecap="round"/>
<polyline points="78.0,102.0 110.0,122.0 140.0,140.0 165.0,155.0 175.0,175.0 172.0,195.0" fill="none" stroke="#ee1030" stroke-width="9" stroke-linejoin="round" stroke-linecap="round"/>
<ellipse cx="174" cy="190" rx="7" ry="9" fill="#ee1030"/>
<polygon points="186.0,158.0 214.0,128.0 240.0,136.0 242.0,180.0 212.0,198.0 188.0,184.0" fill="#ee1030"/>
<line x1="190.0" y1="160.0" x2="192.0" y2="185.0" stroke="#ee1030" stroke-width="6"/>
<line x1="199.1" y1="150.9" x2="199.5" y2="189.0" stroke="#ee1030" stroke-width="6"/>
<line x1="206.6" y1="140.5" x2="207.1" y2="192.8" stroke="#ee1030" stroke-width="6"/>
<line x1="214.0" y1="130.0" x2="215.0" y2="196.0" stroke="#ee1030" stroke-width="6"/>
<polygon points="232.0,166.0 250.0,62.0 262.0,56.0 266.0,90.0 256.0,169.0" fill="#ee1030"/>
<polyline points="240.0,170.0 242.0,240.0 250.0,300.0 260.0,350.0 270.0,382.0" fill="none" stroke="#ee1030" stroke-width="14" stroke-linejoin="round" stroke-linecap="round"/>
<polyline points="240.0,163.0 320.0,145.0 400.0,110.0 460.0,88.0 510.0,80.0" fill="none" stroke="#ee1030" stroke-width="11" stroke-linejoin="round" stroke-linecap="round"/>
<polyline points="510.0,80.0 470.0,102.0 430.0,132.0 380.0,150.0 300.0,160.0 245.0,175.0" fill="none" stroke="#ee1030" stroke-width="11" stroke-linejoin="round" stroke-linecap="round"/>
<polyline points="240.0,230.0 244.0,252.0" fill="none" stroke="#3a3aff" stroke-width="5" stroke-linejoin="round" stroke-linecap="round"/>
<polyline points="160.0,148.0 175.0,152.0" fill="none" stroke="#3a3aff" stroke-width="5" stroke-linejoin="round" stroke-linecap="round"/>
<polyline points="330.0,150.0 350.0,146.0" fill="none" stroke="#3a3aff" stroke-width="4" stroke-linejoin="round" stroke-linecap="round"/>
<polyline points="400.0,115.0 420.0,108.0" fill="none" stroke="#3a3aff" stroke-width="4" stroke-linejoin="round" stroke-linecap="round"/>
</g></g>
<rect x="19.50" y="448.90" width="101.10" height="75.10" fill="none" stroke="#8a8a8a" stroke-width="0.8"/>
<line x1="18.30" y1="460.50" x2="19.50" y2="460.50" stroke="#555" stroke-width="0.5"/>
<text class="t" x="17.70" y="461.60" font-size="3.2" text-anchor="end">−0.2</text>
<line x1="18.30" y1="475.70" x2="19.50" y2="475.70" stroke="#555" stroke-width="0.5"/>
<text class="t" x="17.70" y="476.80" font-size="3.2" text-anchor="end">−0.4</text>
<line x1="18.30" y1="490.90" x2="19.50" y2="490.90" stroke="#555" stroke-width="0.5"/>
<text class="t" x="17.70" y="492.00" font-size="3.2" text-anchor="end">−0.6</text>
<line x1="18.30" y1="506.10" x2="19.50" y2="506.10" stroke="#555" stroke-width="0.5"/>
<text class="t" x="17.70" y="507.20" font-size="3.2" text-anchor="end">−0.8</text>
<line x1="18.30" y1="521.30" x2="19.50" y2="521.30" stroke="#555" stroke-width="0.5"/>
<text class="t" x="17.70" y="522.40" font-size="3.2" text-anchor="end">−1.0</text>
<line x1="21.10" y1="524.00" x2="21.10" y2="525.20" stroke="#555" stroke-width="0.5"/>
<text class="t" x="21.10" y="528.40" font-size="3.2" text-anchor="middle">−1.0</text>
<line x1="33.50" y1="524.00" x2="33.50" y2="525.20" stroke="#555" stroke-width="0.5"/>
<text class="t" x="33.50" y="528.40" font-size="3.2" text-anchor="middle">−0.8</text>
<line x1="45.90" y1="524.00" x2="45.90" y2="525.20" stroke="#555" stroke-width="0.5"/>
<text class="t" x="45.90" y="528.40" font-size="3.2" text-anchor="middle">−0.6</text>
<line x1="58.30" y1="524.00" x2="58.30" y2="525.20" stroke="#555" stroke-width="0.5"/>
<text class="t" x="58.30" y="528.40" font-size="3.2" text-anchor="middle">−0.4</text>
<line x1="70.70" y1="524.00" x2="70.70" y2="525.20" stroke="#555" stroke-width="0.5"/>
<text class="t" x="70.70" y="528.40" font-size="3.2" text-anchor="middle">−0.2</text>
<line x1="83.10" y1="524.00" x2="83.10" y2="525.20" stroke="#555" stroke-width="0.5"/>
<text class="t" x="83.10" y="528.40" font-size="3.2" text-anchor="middle">0.0</text>
<line x1="95.50" y1="524.00" x2="95.50" y2="525.20" stroke="#555" stroke-width="0.5"/>
<text class="t" x="95.50" y="528.40" font-size="3.2" text-anchor="middle">0.2</text>
<line x1="107.90" y1="524.00" x2="107.90" y2="525.20" stroke="#555" stroke-width="0.5"/>
<text class="t" x="107.90" y="528.40" font-size="3.2" text-anchor="middle">0.4</text>
<text class="t" x="70.05" y="532.20" font-size="3.2" text-anchor="middle">x [m]</text>
<text class="t" font-size="3.2" text-anchor="middle" transform="translate(6.00,486.45) rotate(-90)">y [m]</text>
<line x1="21.80" y1="510.40" x2="27.50" y2="510.40" stroke="#555" stroke-width="0.9"/>
<text class="t l" x="30.10" y="511.55" font-size="3.3">ground truth</text>
<line x1="21.80" y1="515.00" x2="27.50" y2="515.00" stroke="#5a5aff" stroke-width="0.9"/>
<text class="t l" x="30.10" y="516.15" font-size="3.3">ORB-SLAM3</text>
<line x1="21.80" y1="519.60" x2="27.50" y2="519.60" stroke="#ff3030" stroke-width="0.9"/>
<text class="t l" x="30.10" y="520.75" font-size="3.3">difference</text>
<text class="c" x="20.95 25.26 29.56 33.87 38.17 42.47 46.78 51.08 55.39 59.69 64.00 68.30 72.60 76.91 81.21 85.52 89.82 94.13 98.43 102.73 107.04 111.34 115.65" y="544.40" font-size="8.6" text-anchor="middle" transform="scale(1,1)">(e)fr3_s_half/ORB-SLAM3</text>
</g>
<g>
<clipPath id="cpj"><rect x="155.80" y="448.90" width="100.90" height="75.40"/></clipPath>
<g clip-path="url(#cpj)"><g transform="translate(155,448) scale(0.189239)">
<polyline points="28.0,25.0 55.0,60.0 85.0,100.0 110.0,120.0 150.0,140.0 180.0,160.0 205.0,170.0" fill="none" stroke="#e8143c" stroke-width="7.5" stroke-linejoin="round" stroke-linecap="round"/>
<polyline points="100.0,115.0 140.0,135.0 162.0,150.0 170.0,170.0 172.0,198.0 178.0,190.0 184.0,160.0" fill="none" stroke="#e8143c" stroke-width="7.5" stroke-linejoin="round" stroke-linecap="round"/>
<ellipse cx="172" cy="196" rx="7" ry="7" fill="#e8143c"/>
<polyline points="199.2,147.0 198.0,144.0 194.1,133.1 199.2,143.0 206.9,128.7 218.3,145.4 224.3,127.4 217.0,131.2 239.0,134.9 218.2,126.1 218.0,130.0 249.8,137.0 243.1,139.0 237.9,153.3 237.9,163.6 245.8,159.8 238.9,160.3 246.1,172.1 229.9,189.0 231.1,167.3 204.7,174.4 194.6,182.2 197.1,178.0 205.1,165.1 192.2,151.9 188.2,149.3 202.6,159.1 192.6,167.9 182.3,156.1 186.8,163.9" fill="none" stroke="#e8143c" stroke-width="6" stroke-linejoin="miter"/>
<polygon points="205.0,135.0 235.0,122.0 248.0,150.0 235.0,170.0 210.0,168.0" fill="#e8143c"/>
<polyline points="238.0,150.0 248.0,110.0 256.0,70.0 262.0,50.0" fill="none" stroke="#e8143c" stroke-width="12" stroke-linejoin="round" stroke-linecap="round"/>
<polyline points="240.0,170.0 245.0,230.0 250.0,280.0 260.0,330.0 270.0,380.0" fill="none" stroke="#e8143c" stroke-width="7.5" stroke-linejoin="round" stroke-linecap="round"/>
<polyline points="245.0,170.0 257.0,169.0 310.0,149.0 352.0,120.0 399.0,96.0 469.0,89.0 513.0,81.0" fill="none" stroke="#e8143c" stroke-width="7.5" stroke-linejoin="round" stroke-linecap="round"/>
<polyline points="513.0,84.0 475.0,102.0 434.0,143.0 399.0,155.0 310.0,161.0 269.0,172.0 245.0,172.0" fill="none" stroke="#e8143c" stroke-width="7.5" stroke-linejoin="round" stroke-linecap="round"/>
<polyline points="470.0,92.0 490.0,100.0" fill="none" stroke="#3a3aff" stroke-width="4" stroke-linejoin="round" stroke-linecap="round"/>
<polyline points="60.0,60.0 65.0,70.0" fill="none" stroke="#3a3aff" stroke-width="4" stroke-linejoin="round" stroke-linecap="round"/>
<polyline points="244.0,230.0 246.0,250.0" fill="none" stroke="#3a3aff" stroke-width="4" stroke-linejoin="round" stroke-linecap="round"/>
</g></g>
<rect x="155.80" y="448.90" width="100.90" height="75.40" fill="none" stroke="#8a8a8a" stroke-width="0.8"/>
<line x1="154.60" y1="460.50" x2="155.80" y2="460.50" stroke="#555" stroke-width="0.5"/>
<text class="t" x="154.00" y="461.60" font-size="3.2" text-anchor="end">−0.2</text>
<line x1="154.60" y1="475.70" x2="155.80" y2="475.70" stroke="#555" stroke-width="0.5"/>
<text class="t" x="154.00" y="476.80" font-size="3.2" text-anchor="end">−0.4</text>
<line x1="154.60" y1="490.90" x2="155.80" y2="490.90" stroke="#555" stroke-width="0.5"/>
<text class="t" x="154.00" y="492.00" font-size="3.2" text-anchor="end">−0.6</text>
<line x1="154.60" y1="506.10" x2="155.80" y2="506.10" stroke="#555" stroke-width="0.5"/>
<text class="t" x="154.00" y="507.20" font-size="3.2" text-anchor="end">−0.8</text>
<line x1="154.60" y1="521.30" x2="155.80" y2="521.30" stroke="#555" stroke-width="0.5"/>
<text class="t" x="154.00" y="522.40" font-size="3.2" text-anchor="end">−1.0</text>
<line x1="158.20" y1="524.30" x2="158.20" y2="525.50" stroke="#555" stroke-width="0.5"/>
<text class="t" x="158.20" y="528.70" font-size="3.2" text-anchor="middle">−1.0</text>
<line x1="170.44" y1="524.30" x2="170.44" y2="525.50" stroke="#555" stroke-width="0.5"/>
<text class="t" x="170.44" y="528.70" font-size="3.2" text-anchor="middle">−0.8</text>
<line x1="182.68" y1="524.30" x2="182.68" y2="525.50" stroke="#555" stroke-width="0.5"/>
<text class="t" x="182.68" y="528.70" font-size="3.2" text-anchor="middle">−0.6</text>
<line x1="194.92" y1="524.30" x2="194.92" y2="525.50" stroke="#555" stroke-width="0.5"/>
<text class="t" x="194.92" y="528.70" font-size="3.2" text-anchor="middle">−0.4</text>
<line x1="207.16" y1="524.30" x2="207.16" y2="525.50" stroke="#555" stroke-width="0.5"/>
<text class="t" x="207.16" y="528.70" font-size="3.2" text-anchor="middle">−0.2</text>
<line x1="219.40" y1="524.30" x2="219.40" y2="525.50" stroke="#555" stroke-width="0.5"/>
<text class="t" x="219.40" y="528.70" font-size="3.2" text-anchor="middle">0.0</text>
<line x1="231.64" y1="524.30" x2="231.64" y2="525.50" stroke="#555" stroke-width="0.5"/>
<text class="t" x="231.64" y="528.70" font-size="3.2" text-anchor="middle">0.2</text>
<line x1="243.88" y1="524.30" x2="243.88" y2="525.50" stroke="#555" stroke-width="0.5"/>
<text class="t" x="243.88" y="528.70" font-size="3.2" text-anchor="middle">0.4</text>
<line x1="256.12" y1="524.30" x2="256.12" y2="525.50" stroke="#555" stroke-width="0.5"/>
<text class="t" x="256.12" y="528.70" font-size="3.2" text-anchor="middle">0.6</text>
<text class="t" x="206.25" y="532.50" font-size="3.2" text-anchor="middle">x [m]</text>
<text class="t" font-size="3.2" text-anchor="middle" transform="translate(142.30,486.60) rotate(-90)">y [m]</text>
<line x1="158.10" y1="510.70" x2="163.80" y2="510.70" stroke="#555" stroke-width="0.9"/>
<text class="t l" x="166.40" y="511.85" font-size="3.3">ground truth</text>
<line x1="158.10" y1="515.30" x2="163.80" y2="515.30" stroke="#5a5aff" stroke-width="0.9"/>
<text class="t l" x="166.40" y="516.45" font-size="3.3">Dyna-SLAM</text>
<line x1="158.10" y1="519.90" x2="163.80" y2="519.90" stroke="#ff3030" stroke-width="0.9"/>
<text class="t l" x="166.40" y="521.05" font-size="3.3">difference</text>
<text class="c" x="159.75 164.06 168.36 172.67 176.97 181.27 185.58 189.88 194.19 198.49 202.80 207.10 211.40 215.71 220.01 224.32 228.62 232.93 237.23 241.53 245.84 250.14 254.45" y="544.40" font-size="8.6" text-anchor="middle" transform="scale(1,1)">(j)fr3_s_half/Dyna-SLAM</text>
</g>
<g>
<clipPath id="cpo"><rect x="293.70" y="448.90" width="101.70" height="75.40"/></clipPath>
<g clip-path="url(#cpo)"><g transform="translate(293,448) scale(0.189239)">
<polyline points="28.0,25.0 50.0,55.0 70.0,100.0 110.0,120.0 150.0,140.0 180.0,158.0 205.0,170.0" fill="none" stroke="#e8143c" stroke-width="7.5" stroke-linejoin="round" stroke-linecap="round"/>
<polyline points="100.0,115.0 140.0,135.0 162.0,150.0 170.0,170.0 172.0,198.0 178.0,190.0 184.0,160.0" fill="none" stroke="#e8143c" stroke-width="7.5" stroke-linejoin="round" stroke-linecap="round"/>
<ellipse cx="172" cy="196" rx="6" ry="6" fill="#e8143c"/>
<polyline points="178.4,157.3 204.8,155.0 209.8,141.5 202.6,145.1 222.8,136.3 209.9,127.7 240.0,124.5 230.8,123.1 247.7,130.0 229.8,126.2 231.2,130.6 249.9,150.1 244.8,139.2 251.2,146.2 249.8,136.3 249.0,148.9 239.8,144.6 239.0,163.3 240.2,170.1 250.6,181.3 242.9,170.9 221.1,174.1 223.2,163.4 218.3,189.6 200.1,176.3 190.5,181.2 213.0,166.7 189.7,161.1 199.3,158.0 203.8,169.2" fill="none" stroke="#e8143c" stroke-width="5.5" stroke-linejoin="miter"/>
<polygon points="208.0,138.0 232.0,126.0 245.0,150.0 232.0,168.0 212.0,166.0" fill="#e8143c" fill-opacity="0.9"/>
<polyline points="231.0,128.0 257.0,54.0 250.0,140.0" fill="none" stroke="#e8143c" stroke-width="7" stroke-linejoin="round" stroke-linecap="round"/>
<polyline points="240.0,170.0 245.0,230.0 250.0,280.0 260.0,330.0 268.0,380.0" fill="none" stroke="#e8143c" stroke-width="7.5" stroke-linejoin="round" stroke-linecap="round"/>
<polyline points="245.0,170.0 256.0,169.0 308.0,155.0 350.0,120.0 397.0,93.0 455.0,84.0 511.0,75.0" fill="none" stroke="#e8143c" stroke-width="7.5" stroke-linejoin="round" stroke-linecap="round"/>
<polyline points="511.0,75.0 473.0,102.0 432.0,143.0 385.0,158.0 308.0,161.0 256.0,169.0" fill="none" stroke="#e8143c" stroke-width="7.5" stroke-linejoin="round" stroke-linecap="round"/>
<polyline points="244.0,230.0 246.0,250.0" fill="none" stroke="#3a3aff" stroke-width="4" stroke-linejoin="round" stroke-linecap="round"/>
</g></g>
<rect x="293.70" y="448.90" width="101.70" height="75.40" fill="none" stroke="#8a8a8a" stroke-width="0.8"/>
<line x1="292.50" y1="460.50" x2="293.70" y2="460.50" stroke="#555" stroke-width="0.5"/>
<text class="t" x="291.90" y="461.60" font-size="3.2" text-anchor="end">−0.2</text>
<line x1="292.50" y1="475.70" x2="293.70" y2="475.70" stroke="#555" stroke-width="0.5"/>
<text class="t" x="291.90" y="476.80" font-size="3.2" text-anchor="end">−0.4</text>
<line x1="292.50" y1="490.90" x2="293.70" y2="490.90" stroke="#555" stroke-width="0.5"/>
<text class="t" x="291.90" y="492.00" font-size="3.2" text-anchor="end">−0.6</text>
<line x1="292.50" y1="506.10" x2="293.70" y2="506.10" stroke="#555" stroke-width="0.5"/>
<text class="t" x="291.90" y="507.20" font-size="3.2" text-anchor="end">−0.8</text>
<line x1="292.50" y1="521.30" x2="293.70" y2="521.30" stroke="#555" stroke-width="0.5"/>
<text class="t" x="291.90" y="522.40" font-size="3.2" text-anchor="end">−1.0</text>
<line x1="296.10" y1="524.30" x2="296.10" y2="525.50" stroke="#555" stroke-width="0.5"/>
<text class="t" x="296.10" y="528.70" font-size="3.2" text-anchor="middle">−1.0</text>
<line x1="308.50" y1="524.30" x2="308.50" y2="525.50" stroke="#555" stroke-width="0.5"/>
<text class="t" x="308.50" y="528.70" font-size="3.2" text-anchor="middle">−0.8</text>
<line x1="320.90" y1="524.30" x2="320.90" y2="525.50" stroke="#555" stroke-width="0.5"/>
<text class="t" x="320.90" y="528.70" font-size="3.2" text-anchor="middle">−0.6</text>
<line x1="333.30" y1="524.30" x2="333.30" y2="525.50" stroke="#555" stroke-width="0.5"/>
<text class="t" x="333.30" y="528.70" font-size="3.2" text-anchor="middle">−0.4</text>
<line x1="345.70" y1="524.30" x2="345.70" y2="525.50" stroke="#555" stroke-width="0.5"/>
<text class="t" x="345.70" y="528.70" font-size="3.2" text-anchor="middle">−0.2</text>
<line x1="358.10" y1="524.30" x2="358.10" y2="525.50" stroke="#555" stroke-width="0.5"/>
<text class="t" x="358.10" y="528.70" font-size="3.2" text-anchor="middle">0.0</text>
<line x1="370.50" y1="524.30" x2="370.50" y2="525.50" stroke="#555" stroke-width="0.5"/>
<text class="t" x="370.50" y="528.70" font-size="3.2" text-anchor="middle">0.2</text>
<line x1="382.90" y1="524.30" x2="382.90" y2="525.50" stroke="#555" stroke-width="0.5"/>
<text class="t" x="382.90" y="528.70" font-size="3.2" text-anchor="middle">0.4</text>
<line x1="395.30" y1="524.30" x2="395.30" y2="525.50" stroke="#555" stroke-width="0.5"/>
<text class="t" x="395.30" y="528.70" font-size="3.2" text-anchor="middle">0.6</text>
<text class="t" x="344.55" y="532.50" font-size="3.2" text-anchor="middle">x [m]</text>
<text class="t" font-size="3.2" text-anchor="middle" transform="translate(280.20,486.60) rotate(-90)">y [m]</text>
<line x1="296.00" y1="510.70" x2="301.70" y2="510.70" stroke="#555" stroke-width="0.9"/>
<text class="t l" x="304.30" y="511.85" font-size="3.3">ground truth</text>
<line x1="296.00" y1="515.30" x2="301.70" y2="515.30" stroke="#5a5aff" stroke-width="0.9"/>
<text class="t l" x="304.30" y="516.45" font-size="3.3">DS-SLAM</text>
<line x1="296.00" y1="519.90" x2="301.70" y2="519.90" stroke="#ff3030" stroke-width="0.9"/>
<text class="t l" x="304.30" y="521.05" font-size="3.3">difference</text>
<text class="c" x="300.14 304.41 308.69 312.97 317.24 321.52 325.80 330.07 334.35 338.62 342.90 347.18 351.45 355.73 360.00 364.28 368.56 372.83 377.11 381.39 385.66" y="544.40" font-size="8.6" text-anchor="middle" transform="scale(1,1)">(o)fr3_s_half/DS-SLAM</text>
</g>
<g>
<clipPath id="cpt"><rect x="431.70" y="449.70" width="101.10" height="75.70"/></clipPath>
<g clip-path="url(#cpt)"><g transform="translate(431,449) scale(0.189239)">
<polyline points="28.0,25.0 50.0,55.0 70.0,95.0 110.0,115.0 150.0,140.0 180.0,158.0 205.0,170.0" fill="none" stroke="#e8143c" stroke-width="7.5" stroke-linejoin="round" stroke-linecap="round"/>
<polyline points="100.0,115.0 140.0,135.0 162.0,150.0 170.0,170.0 172.0,196.0 178.0,186.0 184.0,155.0" fill="none" stroke="#e8143c" stroke-width="7.5" stroke-linejoin="round" stroke-linecap="round"/>
<ellipse cx="172" cy="192" rx="6" ry="6" fill="#e8143c"/>
<polyline points="184.8,157.6 184.4,146.6 193.8,144.5 189.4,147.0 209.4,135.2 198.8,125.0 198.0,131.4 219.6,133.0 233.3,125.9 235.2,121.0 249.2,126.5 236.4,120.2 228.7,133.1 257.6,136.8 256.3,147.5 237.8,150.4 255.1,147.1 250.3,172.4 248.4,176.5 225.4,181.1 227.6,163.1 216.5,177.7 222.7,171.8 211.5,178.6 205.1,171.4 210.8,181.2 211.9,176.0 215.1,173.5 205.1,173.4 190.5,160.3" fill="none" stroke="#e8143c" stroke-width="5.5" stroke-linejoin="miter"/>
<polygon points="208.0,134.0 232.0,122.0 245.0,146.0 232.0,164.0 212.0,162.0" fill="#e8143c" fill-opacity="0.9"/>
<polyline points="231.0,135.0 243.0,90.0 253.0,49.0" fill="none" stroke="#e8143c" stroke-width="11" stroke-linejoin="round" stroke-linecap="round"/>
<polyline points="240.0,165.0 242.0,230.0 250.0,280.0 258.0,330.0 268.0,380.0" fill="none" stroke="#e8143c" stroke-width="7.5" stroke-linejoin="round" stroke-linecap="round"/>
<polyline points="245.0,165.0 257.0,164.0 310.0,141.0 352.0,114.0 399.0,90.0 469.0,84.0 511.0,78.0" fill="none" stroke="#e8143c" stroke-width="7.5" stroke-linejoin="round" stroke-linecap="round"/>
<polyline points="511.0,79.0 469.0,96.0 434.0,137.0 399.0,149.0 310.0,158.0 269.0,164.0 245.0,166.0" fill="none" stroke="#e8143c" stroke-width="7.5" stroke-linejoin="round" stroke-linecap="round"/>
<polyline points="475.0,95.0 490.0,85.0" fill="none" stroke="#3a3aff" stroke-width="4" stroke-linejoin="round" stroke-linecap="round"/>
<polyline points="242.0,200.0 244.0,220.0" fill="none" stroke="#3a3aff" stroke-width="4" stroke-linejoin="round" stroke-linecap="round"/>
<polyline points="246.0,280.0 248.0,300.0" fill="none" stroke="#3a3aff" stroke-width="4" stroke-linejoin="round" stroke-linecap="round"/>
</g></g>
<rect x="431.70" y="449.70" width="101.10" height="75.70" fill="none" stroke="#8a8a8a" stroke-width="0.8"/>
<line x1="430.50" y1="460.50" x2="431.70" y2="460.50" stroke="#555" stroke-width="0.5"/>
<text class="t" x="429.90" y="461.60" font-size="3.2" text-anchor="end">−0.2</text>
<line x1="430.50" y1="475.90" x2="431.70" y2="475.90" stroke="#555" stroke-width="0.5"/>
<text class="t" x="429.90" y="477.00" font-size="3.2" text-anchor="end">−0.4</text>
<line x1="430.50" y1="491.30" x2="431.70" y2="491.30" stroke="#555" stroke-width="0.5"/>
<text class="t" x="429.90" y="492.40" font-size="3.2" text-anchor="end">−0.6</text>
<line x1="430.50" y1="506.70" x2="431.70" y2="506.70" stroke="#555" stroke-width="0.5"/>
<text class="t" x="429.90" y="507.80" font-size="3.2" text-anchor="end">−0.8</text>
<line x1="430.50" y1="522.10" x2="431.70" y2="522.10" stroke="#555" stroke-width="0.5"/>
<text class="t" x="429.90" y="523.20" font-size="3.2" text-anchor="end">−1.0</text>
<line x1="431.00" y1="525.40" x2="431.00" y2="526.60" stroke="#555" stroke-width="0.5"/>
<text class="t" x="431.00" y="529.80" font-size="3.2" text-anchor="middle">−1.0</text>
<line x1="443.75" y1="525.40" x2="443.75" y2="526.60" stroke="#555" stroke-width="0.5"/>
<text class="t" x="443.75" y="529.80" font-size="3.2" text-anchor="middle">−0.8</text>
<line x1="456.50" y1="525.40" x2="456.50" y2="526.60" stroke="#555" stroke-width="0.5"/>
<text class="t" x="456.50" y="529.80" font-size="3.2" text-anchor="middle">−0.6</text>
<line x1="469.25" y1="525.40" x2="469.25" y2="526.60" stroke="#555" stroke-width="0.5"/>
<text class="t" x="469.25" y="529.80" font-size="3.2" text-anchor="middle">−0.4</text>
<line x1="482.00" y1="525.40" x2="482.00" y2="526.60" stroke="#555" stroke-width="0.5"/>
<text class="t" x="482.00" y="529.80" font-size="3.2" text-anchor="middle">−0.2</text>
<line x1="494.75" y1="525.40" x2="494.75" y2="526.60" stroke="#555" stroke-width="0.5"/>
<text class="t" x="494.75" y="529.80" font-size="3.2" text-anchor="middle">0.0</text>
<line x1="507.50" y1="525.40" x2="507.50" y2="526.60" stroke="#555" stroke-width="0.5"/>
<text class="t" x="507.50" y="529.80" font-size="3.2" text-anchor="middle">0.2</text>
<line x1="520.25" y1="525.40" x2="520.25" y2="526.60" stroke="#555" stroke-width="0.5"/>
<text class="t" x="520.25" y="529.80" font-size="3.2" text-anchor="middle">0.4</text>
<line x1="533.00" y1="525.40" x2="533.00" y2="526.60" stroke="#555" stroke-width="0.5"/>
<text class="t" x="533.00" y="529.80" font-size="3.2" text-anchor="middle">0.6</text>
<text class="t" x="482.25" y="533.60" font-size="3.2" text-anchor="middle">x [m]</text>
<text class="t" font-size="3.2" text-anchor="middle" transform="translate(418.20,487.55) rotate(-90)">y [m]</text>
<line x1="434.00" y1="511.80" x2="439.70" y2="511.80" stroke="#555" stroke-width="0.9"/>
<text class="t l" x="442.30" y="512.95" font-size="3.3">ground truth</text>
<line x1="434.00" y1="516.40" x2="439.70" y2="516.40" stroke="#5a5aff" stroke-width="0.9"/>
<text class="t l" x="442.30" y="517.55" font-size="3.3">SOLO-SLAM</text>
<line x1="434.00" y1="521.00" x2="439.70" y2="521.00" stroke="#ff3030" stroke-width="0.9"/>
<text class="t l" x="442.30" y="522.15" font-size="3.3">difference</text>
<text class="c" x="432.42 436.67 440.92 445.17 449.42 453.66 457.91 462.16 466.41 470.65 474.90 479.15 483.40 487.65 491.89 496.14 500.39 504.64 508.88 513.13 517.38 521.63 525.88" y="544.40" font-size="8.6" text-anchor="middle" transform="scale(1,1)">(t)fr3_s_half/SOLO-SLAM</text>
</g>
</svg></body></html>
